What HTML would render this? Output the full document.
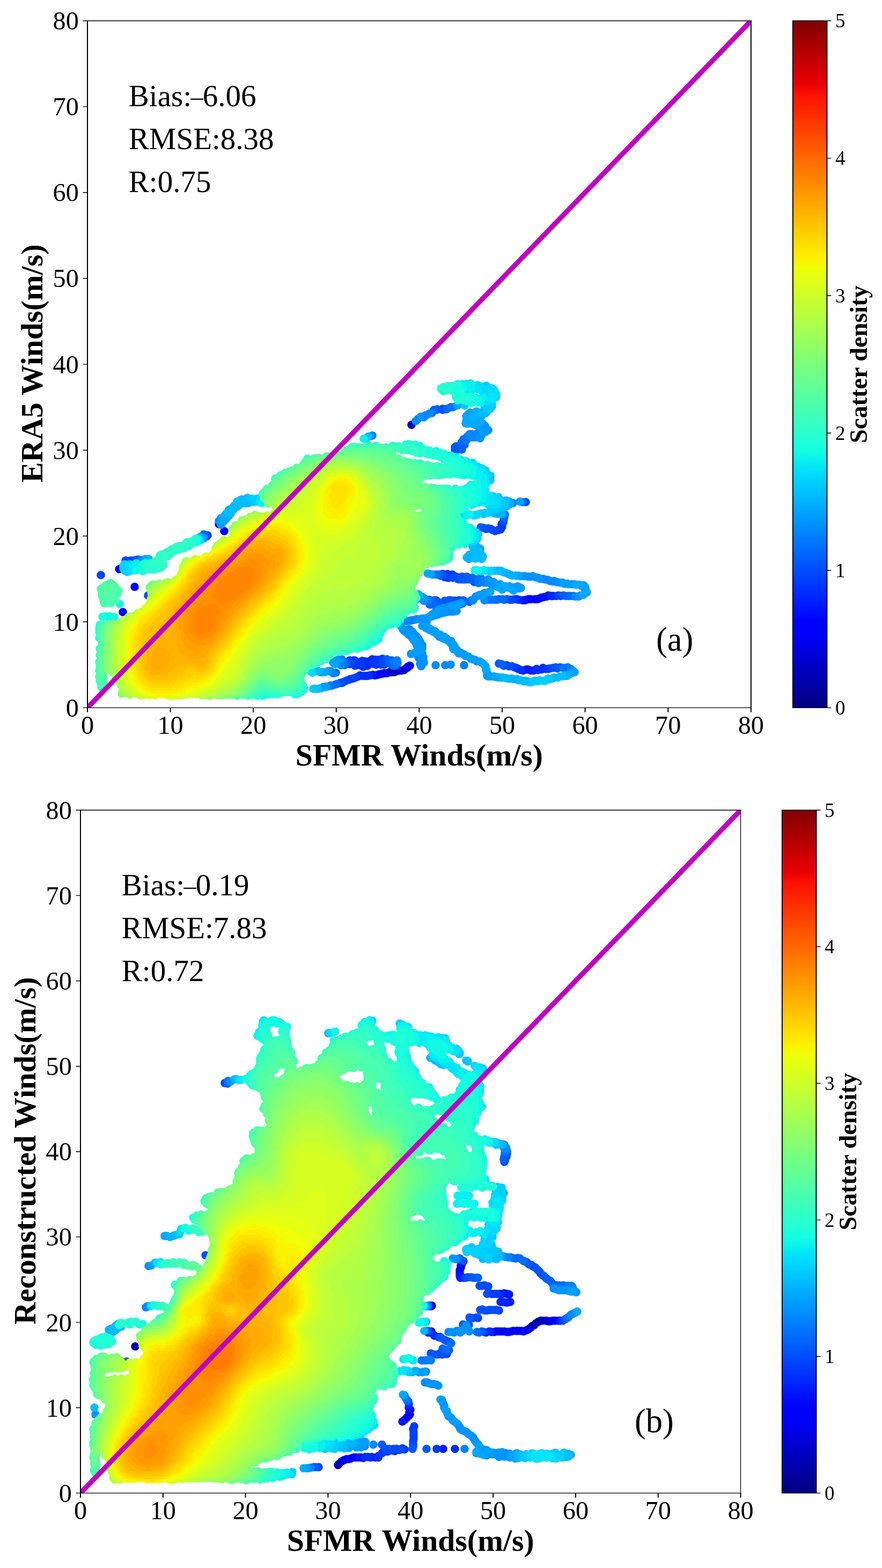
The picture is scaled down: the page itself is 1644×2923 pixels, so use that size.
<!DOCTYPE html>
<html lang="en">
<head>
<meta charset="utf-8">
<title>Scatter density: ERA5 and reconstructed winds vs SFMR winds</title>
<style>
html,body{margin:0;padding:0;background:#fff}
body{width:1644px;height:2923px;overflow:hidden}
svg{display:block}
text{white-space:pre}
</style>
</head>
<body>
<svg width="1644" height="2923" viewBox="0 0 1644 2923">
<defs><linearGradient id="jet" x1="0" y1="1" x2="0" y2="0"><stop offset="0" stop-color="#000080"/><stop offset="0.11" stop-color="#0000ff"/><stop offset="0.125" stop-color="#0000ff"/><stop offset="0.25" stop-color="#0080ff"/><stop offset="0.34" stop-color="#00dbff"/><stop offset="0.35" stop-color="#00e5f7"/><stop offset="0.375" stop-color="#15ffe2"/><stop offset="0.5" stop-color="#7bff7b"/><stop offset="0.64" stop-color="#efff08"/><stop offset="0.65" stop-color="#f7f600"/><stop offset="0.66" stop-color="#ffec00"/><stop offset="0.78" stop-color="#ff7b00"/><stop offset="0.89" stop-color="#ff1300"/><stop offset="0.91" stop-color="#e80000"/><stop offset="1" stop-color="#800000"/></linearGradient></defs>
<rect width="1644" height="2923" fill="#fff"/>
<g id="panel-a">
<clipPath id="clip-a"><rect x="163" y="38.8" width="1236.8" height="1280.6"/></clipPath>
<g clip-path="url(#clip-a)">
<g fill="none" stroke-width="15.6" stroke-linecap="round">
<path stroke="#0000a2" d="M739 1251h0"/>
<path stroke="#0000b9" d="M730 1253h0M735 1253h0M767 792h0"/>
<path stroke="#0000c5" d="M726 1253h0M744 1250h0"/>
<path stroke="#0000d1" d="M760 1243h0M748 1250h0M753 1249h0"/>
<path stroke="#0000dc" d="M716 1255h0M757 1246h0"/>
<path stroke="#0000e8" d="M721 1255h0"/>
<path stroke="#0000f3" d="M1001 1117h0M997 1117h0M418 990h0"/>
<path stroke="#0000ff" d="M1005 1116h0M990 1117h0M712 1256h0M760 1244h0M251 1094h0"/>
<path stroke="#0000ff" d="M981 1118h0M704 1258h0M707 1257h0M408 977h0M229 1141h0"/>
<path stroke="#0005ff" d="M1009 1114h0M986 1117h0M699 1259h0M764 1241h0M222 1061h0"/>
<path stroke="#000fff" d="M1022 1110h0M1019 1112h0M1014 1113h0M978 1119h0M984 1248h0M975 1250h0"/>
<path stroke="#0019ff" d="M680 1240h0M1031 1111h0M974 1119h0M826 1071h0M821 1073h0M990 1250h0M981 1248h0M681 1260h0M695 1258h0"/>
<path stroke="#0024ff" d="M825 1070h0M830 1075h0M700 1230h0M680 1235h5M675 1240h0M685 1240h0M1027 1111h0M967 1118h0M963 1117h0M832 1072h0M995 1250h0M966 1247h0M689 1259h0M685 1241h0M694 1229h0M687 1233h0M861 1077h0"/>
<path stroke="#002eff" d="M710 1230h0M665 1235h10M690 1235h0M1037 1111h0M835 1077h0M823 1126h0M829 1131h0M835 1132h0M1017 1247h0M1012 1245h0M1009 1248h0M1003 1249h0M1000 1247h0M971 1249h0M962 1245h0M668 1261h0M671 1259h0M676 1260h0M685 1260h0M668 1239h0M675 1239h0M677 1243h0M694 1237h0M697 1230h0M680 1233h0M675 1232h0M842 1075h0M846 1075h0M856 1077h0M933 987h0"/>
<path stroke="#0038ff" d="M835 1075h15M705 1230h0M655 1235h5M695 1235h20M670 1240h0M960 1117h0M843 1071h0M834 1070h0M829 1076h0M836 1077h0M822 1125h0M840 1133h0M1022 1247h0M959 1244h0M651 1267h0M653 1266h0M658 1265h0M652 1238h0M662 1241h0M697 1237h0M701 1239h0M710 1239h0M713 1228h0M706 1230h0M704 1231h0M671 1234h0M661 1231h0M659 1231h0M652 1231h0M834 1074h0M837 1073h0M851 1077h0M935 977h0M936 982h0M929 988h0M239 1046h0"/>
<path stroke="#0042ff" d="M850 835h0M845 1120h5M860 1120h0M840 1125h0M860 1125h0M715 1230h5M720 1235h0M1045 1111h0M1041 1110h0M954 1118h0M951 1118h0M847 1074h0M806 1122h0M813 1123h0M815 1127h0M840 1133h0M849 1133h0M1025 1246h0M954 1242h0M944 1240h0M641 1271h0M645 1269h0M663 1263h0M657 1237h0M716 1239h0M650 1233h0M856 1119h0M829 1072h0M938 974h0M923 990h0M918 988h0M915 986h0M906 986h0M387 998h0M248 1045h0M244 1045h0M234 1045h0M188 1072h0"/>
<path stroke="#004dff" d="M855 835h5M385 1000h0M855 1080h0M870 1080h0M855 1120h0M825 1125h10M650 1235h0M945 1117h0M853 1079h0M865 1080h0M861 1075h0M851 1077h0M844 1077h0M850 1129h0M856 1127h0M1036 1244h0M1031 1245h0M949 1242h0M939 1241h0M634 1273h0M638 1273h0M714 1236h0M645 1238h0M828 1127h0M829 1127h0M834 1129h0M842 1127h0M846 1124h0M862 1125h0M861 1121h0M845 1120h0M837 1119h0M813 1119h0M848 834h0M848 839h0M853 838h0M825 764h0M825 762h0M910 985h0M901 984h0M980 936h0M253 1044h0M276 1110h0"/>
<path stroke="#0057ff" d="M860 1080h5M875 1080h0M815 1125h5M845 1125h10M725 1235h0M1060 1111h0M1050 1110h0M940 1118h0M858 1078h0M860 1079h0M872 1079h0M884 1085h0M886 1080h0M873 1077h0M870 1075h0M865 1078h0M804 1123h0M860 1123h0M1044 1244h0M1039 1246h0M930 1237h0M730 1231h0M721 1229h0M815 1127h0M852 1127h0M863 1119h0M840 1119h0M829 1120h0M827 1123h0M810 1119h0M803 1120h0M824 1072h0M857 831h0M850 832h0M860 834h0M866 829h0M831 763h0M815 763h0M939 969h0M896 983h0M257 1043h0"/>
<path stroke="#0061ff" d="M860 825h5M860 830h0M880 1080h5M810 1125h0M645 1235h0M1055 1111h0M930 1117h0M923 1118h0M877 1080h0M880 1077h0M792 1119h0M800 1118h0M863 1124h0M865 1120h0M935 1238h0M726 1237h0M726 1231h0M643 1234h0M801 1127h0M810 1128h0M818 1127h0M818 1123h0M820 1071h0M861 838h0M865 822h0M840 759h0M814 764h0M809 764h0"/>
<path stroke="#006bff" d="M865 820h0M380 1000h0M890 1080h5M800 1120h5M800 1125h5M730 1235h0M1069 1111h0M1064 1111h0M937 1117h0M926 1118h0M896 1077h0M891 1080h0M875 1122h0M879 1119h0M619 1278h0M625 1276h0M628 1275h0M733 1241h0M737 1241h0M741 1236h0M642 1240h0M626 1254h0M803 1127h0M871 814h0M870 816h0M864 819h0M862 823h0M877 813h0M834 762h0M940 964h0M974 936h0M380 996h0"/>
<path stroke="#0075ff" d="M875 810h0M870 815h0M880 815h0M870 820h0M635 1235h5M735 1235h0M917 1118h0M913 1118h0M909 1118h0M892 1082h0M892 1087h0M1058 1244h0M1055 1245h0M1050 1245h0M616 1278h0M740 1231h0M736 1233h0M811 1071h0M815 1071h0M876 809h0M870 817h0M882 815h0M844 759h0M805 770h0M941 959h0M379 1000h0M263 1044h0M694 812h0"/>
<path stroke="#0080ff" d="M875 815h0M885 815h0M900 1085h10M795 1120h0M760 1175h5M775 1185h0M780 1200h0M780 1225h0M785 1230h0M740 1235h0M790 1235h0M902 1086h0M906 1086h0M901 1082h0M784 1114h0M887 1112h0M765 1157h0M769 1156h0M774 1155h0M801 1150h0M815 1146h0M842 1140h0M1064 1247h0M788 1237h0M865 1240h0M781 1227h0M783 1237h0M787 1237h0M787 1218h0M787 1203h0M780 1191h0M775 1185h0M763 1173h0M756 1174h0M758 1175h0M763 1181h0M610 1280h0M637 1229h0M631 1230h0M631 1237h0M636 1240h0M621 1255h0M789 1225h0M787 1237h0M798 1119h0M793 1117h0M887 809h0M790 776h0"/>
<path stroke="#008aff" d="M905 800h0M905 805h0M880 810h15M890 815h0M790 1120h0M770 1185h0M785 1210h0M780 1220h5M785 1225h0M956 938h0M984 1075h0M1007 1079h0M1012 1079h0M1015 1080h0M1021 1081h0M1025 1083h0M1030 1084h0M1033 1083h0M1038 1085h0M1073 1112h0M903 1119h0M910 1086h0M922 1090h0M923 1088h0M913 1084h0M790 1119h0M882 1119h0M902 1106h0M759 1158h0M778 1154h0M792 1153h0M805 1149h0M810 1147h0M823 1143h0M832 1141h0M838 1140h0M846 1140h0M804 1174h0M815 1183h0M819 1187h0M841 1195h0M849 1211h0M861 1218h0M865 1220h0M1067 1250h0M812 1240h0M830 1240h0M840 1239h0M775 1198h0M779 1221h0M781 1223h0M789 1236h0M789 1231h0M785 1212h0M787 1208h0M783 1196h0M769 1178h0M764 1183h0M616 1251h0M753 1176h0M761 1182h0M767 1187h0M772 1194h0M779 1200h0M775 1216h0M788 1228h0M785 1242h0M846 1128h0M837 1131h0M825 1134h0M821 1136h0M812 1140h0M806 1145h0M799 1151h0M796 1171h0M812 1179h0M828 1187h0M851 1211h0M789 1119h0M790 1120h0M806 1071h0M897 803h0M893 805h0M891 809h0M879 809h0M886 815h0M896 811h0M904 794h0M800 771h0M794 774h0M790 778h0M779 781h0M775 785h0M267 1044h0"/>
<path stroke="#0094ff" d="M875 775h0M870 785h0M885 790h0M900 790h0M900 795h0M915 1085h0M920 1090h0M945 1095h0M965 1095h0M785 1115h5M765 1180h5M775 1190h0M780 1195h0M785 1205h0M785 1215h0M625 1235h5M785 1235h0M975 1074h0M979 1074h0M989 1075h0M993 1074h0M998 1076h0M1003 1077h0M1043 1086h0M1052 1088h0M1057 1088h0M1066 1089h0M1071 1089h0M1088 1091h0M1091 1099h0M1082 1110h0M1079 1112h0M916 1089h0M924 1093h0M965 1093h0M949 1093h0M939 1093h0M931 1090h0M920 1085h0M910 1080h0M890 1111h0M894 1109h0M913 1103h0M783 1154h0M787 1153h0M797 1152h0M819 1144h0M828 1142h0M851 1139h0M800 1174h0M811 1177h0M812 1179h0M844 1205h0M853 1215h0M857 1216h0M885 1230h0M889 1233h0M908 1260h0M921 1261h0M1069 1251h0M771 1193h0M777 1203h0M781 1208h0M779 1213h0M788 1224h0M777 1187h0M768 1178h0M768 1187h0M602 1281h0M621 1235h0M612 1251h0M751 1173h0M756 1178h0M763 1184h0M781 1205h0M766 1219h0M787 1232h0M860 1124h0M852 1127h0M833 1132h0M829 1133h0M796 1155h0M795 1160h0M793 1164h0M804 1175h0M824 1187h0M835 1194h0M786 1115h0M886 792h0M897 796h0M895 817h0M898 811h0M903 805h0M910 802h0M904 794h0M852 756h0M784 777h0M412 966h0M410 970h0M408 971h0M379 1004h0M379 1003h0M691 813h0"/>
<path stroke="#009eff" d="M875 785h5M880 790h0M895 790h0M900 805h0M420 965h0M925 1090h0M935 1095h5M950 1095h10M780 1110h0M780 1115h0M952 1072h0M970 1074h0M1048 1086h0M1060 1089h0M1084 1092h0M1091 1095h0M931 1095h0M950 1096h0M952 1097h0M968 1097h0M971 1096h0M965 1096h0M955 1095h0M932 1089h0M898 1111h0M906 1105h0M787 1167h0M793 1170h0M795 1171h0M824 1189h0M828 1191h0M832 1192h0M836 1195h0M843 1199h0M845 1210h0M868 1223h0M873 1224h0M878 1228h0M881 1229h0M894 1233h0M899 1236h0M905 1242h0M907 1250h0M908 1255h0M911 1261h0M916 1261h0M929 1263h0M1065 1255h0M1071 1253h0M598 1283h0M607 1280h0M627 1231h0M748 1168h0M769 1190h0M776 1196h0M782 1209h0M784 1213h0M779 1215h0M771 1218h0M855 1126h0M842 1130h0M817 1137h0M809 1144h0M801 1149h0M792 1167h0M801 1172h0M808 1178h0M815 1182h0M820 1183h0M832 1190h0M838 1197h0M842 1201h0M846 1203h0M848 1207h0M853 1215h0M855 1218h0M787 1113h0M876 769h0M872 773h0M869 776h0M869 784h0M868 789h0M878 789h0M892 794h0M894 786h0M887 786h0M884 783h0M874 781h0M877 775h0M937 957h0M969 935h0M412 978h0"/>
<path stroke="#00a8ff" d="M885 770h0M895 770h0M880 775h5M870 780h0M890 790h0M450 935h0M950 940h0M435 945h0M430 950h0M415 965h0M415 970h0M890 1025h0M880 1035h0M930 1095h0M775 1110h0M951 939h0M949 935h0M931 1064h0M939 1067h0M948 1070h0M961 1073h0M966 1073h0M1074 1090h0M1080 1090h0M1094 1104h0M1091 1106h0M1087 1109h0M936 1099h0M943 1095h0M957 1101h0M942 1093h0M914 1103h0M903 1240h0M906 1248h0M924 1262h0M934 1263h0M948 1265h0M963 1266h0M1061 1257h0M624 1238h0M597 1253h0M601 1253h0M605 1253h0M780 1108h0M776 1117h0M797 1069h0M802 1070h0M888 767h0M884 772h0M872 790h0M883 790h0M896 786h0M875 781h0M895 776h0M857 753h0M855 754h0M874 1042h0M886 1041h0M895 1030h0M895 1023h0M881 1019h0M890 1031h0M451 931h0M418 971h0M421 968h0M430 957h0M433 950h0M373 1001h0M271 1042h0"/>
<path stroke="#00b2ff" d="M890 770h0M890 775h0M465 930h0M455 935h0M945 935h0M445 940h0M945 940h0M440 945h0M420 960h5M375 1005h0M885 1020h0M890 1030h0M885 1035h0M895 1035h0M875 1040h5M890 1040h0M939 946h0M944 944h0M943 933h0M922 1064h0M943 1068h0M955 1073h0M937 1263h0M954 1265h0M957 1266h0M966 1268h0M985 1271h0M1052 1260h0M1057 1260h0M781 1110h0M775 1110h0M897 769h0M893 770h0M883 777h0M890 775h0M898 775h0M905 770h0M906 769h0M903 763h0M920 956h0M922 957h0M927 958h0M934 958h0M887 1032h0M878 1037h0M875 1034h0M870 1039h0M883 1039h0M894 1038h0M889 1019h0M886 1018h0M442 935h0M430 949h0M426 951h0M423 957h0M421 958h0M425 961h0M426 962h0M435 950h0M446 941h0M455 938h0M277 1042h0"/>
<path stroke="#00bdff" d="M910 760h0M905 765h0M900 770h0M445 935h0M460 935h15M940 935h0M440 940h0M940 945h0M435 950h0M920 950h0M425 955h5M895 1030h0M890 1035h0M885 1040h0M230 1055h0M922 951h0M935 947h0M941 942h0M943 935h0M929 927h0M914 887h0M927 1064h0M934 1064h0M943 1264h0M970 1268h0M976 1270h0M980 1269h0M997 1269h0M1029 1265h0M1033 1263h0M1040 1263h0M1044 1261h0M1048 1261h0M588 1284h0M593 1284h0M587 1250h0M593 1251h0M915 955h0M889 1034h0M898 1042h0M900 1037h0M883 1022h0M448 932h0M438 941h0M436 944h0M443 944h0M454 936h0M463 938h0M468 934h0M465 930h0M461 928h0M235 1054h0M233 1064h0M686 814h0"/>
<path stroke="#00c7ff" d="M915 755h0M470 930h0M480 930h0M930 930h0M480 935h0M935 935h0M935 940h5M930 945h5M230 1060h10M891 996h0M915 945h0M919 949h0M927 949h0M933 933h0M914 895h0M913 889h0M905 877h0M908 1064h0M916 1064h0M990 1272h0M994 1270h0M1003 1270h0M1016 1269h0M1021 1265h0M1025 1266h0M584 1284h0M911 733h0M917 724h0M906 719h0M901 721h0M913 763h0M917 758h0M907 756h0M908 762h0M866 756h0M897 957h0M902 958h0M904 956h0M473 935h0M468 930h0M237 1066h0M682 818h0"/>
<path stroke="#00d1ff" d="M905 725h10M910 730h0M905 880h0M910 885h0M910 890h0M910 895h0M475 930h0M485 930h0M925 930h0M930 935h0M930 940h0M915 945h10M235 1055h0M245 1055h0M245 1060h0M890 1004h0M924 928h0M919 925h0M908 883h0M898 873h0M913 1065h0M1006 1268h0M1012 1269h0M582 1254h0M889 724h0M921 740h0M924 741h0M897 722h0M890 718h0M917 753h0M910 956h0M480 934h0M487 937h0M482 929h0M472 930h0M242 1052h0M232 1052h0M230 1058h0M241 1065h0"/>
<path stroke="#00dbff" d="M890 720h5M890 725h10M915 730h5M920 735h5M900 745h10M880 865h0M890 870h0M895 875h0M905 885h0M905 890h0M905 900h0M490 930h0M915 930h5M920 935h5M910 940h15M885 1005h0M240 1055h0M250 1055h0M250 1060h0M882 1009h0M886 1006h0M888 993h0M909 938h0M912 925h0M907 900h0M899 876h0M891 870h0M881 863h0M898 1065h0M580 1252h0M898 728h0M903 728h0M909 728h0M918 733h0M906 739h0M907 746h0M909 747h0M924 736h0M921 727h0M914 723h0M877 715h0M883 961h0M886 960h0M890 959h0M490 928h0M372 1008h0"/>
<path stroke="#00e5f7" d="M865 720h0M875 720h10M870 725h15M915 740h5M915 745h0M875 865h0M885 870h0M890 875h0M895 880h5M900 885h0M905 895h0M905 920h0M905 925h5M905 930h5M485 935h0M895 935h20M885 995h0M885 1000h0M370 1005h0M882 989h0M879 941h0M893 937h0M902 936h0M905 937h0M907 923h0M906 919h0M904 913h0M903 906h0M905 903h0M884 868h0M873 863h0M869 860h0M893 1064h0M902 1063h0M866 725h0M873 727h0M891 725h0M911 742h0M895 743h0M893 749h0M916 745h0M885 720h0M870 716h0M862 716h0M862 962h0M869 961h0M486 930h0M248 1054h0M246 1062h0M254 1063h0"/>
<path stroke="#08f0ef" d="M870 720h0M865 725h0M885 745h10M865 860h0M870 865h0M880 870h0M885 875h0M885 880h5M885 885h10M895 890h5M895 895h5M890 900h10M895 905h5M895 910h5M895 915h5M895 920h5M895 925h5M895 930h5M890 935h0M875 985h0M880 990h0M880 995h0M880 1000h0M880 1005h0M255 1055h5M255 1060h0M705 1191h0M867 1014h0M876 984h0M883 939h0M888 937h0M863 860h0M859 857h0M850 852h0M882 887h0M888 885h0M892 887h0M896 895h0M893 896h0M877 904h0M885 1063h0M878 724h0M901 741h0M889 744h0M896 751h0M879 717h0M873 959h0M876 959h0M490 937h0M498 933h0M495 928h0M260 1054h0M254 1050h0M678 818h0"/>
<path stroke="#10fae6" d="M860 720h0M845 725h0M855 725h5M850 740h5M870 745h5M845 855h5M855 860h5M865 865h0M870 870h5M875 875h5M870 880h10M880 885h0M880 905h10M870 910h20M885 915h5M885 920h5M885 925h5M495 930h0M505 930h0M885 930h5M880 935h5M870 985h0M875 990h0M875 995h0M875 1000h0M875 1005h0M365 1010h0M870 1010h0M265 1055h0M260 1060h5M275 1060h0M700 1195h0M690 1200h0M565 1285h0M550 1294h0M556 1293h0M562 1289h0M564 1287h0M567 1283h0M684 1204h0M695 1197h0M699 1194h0M867 1011h0M873 1008h0M869 982h0M865 978h0M866 947h0M875 940h0M856 857h0M844 854h0M840 849h0M829 847h0M821 844h0M813 841h0M490 1297h0M856 884h0M859 885h0M865 886h0M870 885h0M876 885h0M889 901h0M886 903h0M874 908h0M869 911h0M890 1063h0M863 723h0M886 741h0M868 742h0M855 734h0M855 741h0M871 748h0M880 751h0M891 747h0M856 720h0M853 716h0M845 720h0M838 721h0M364 1011h0M367 1004h0M267 1052h0M255 1062h0M196 1149h0M199 1150h0M204 1149h0M208 1150h0M223 1126h0"/>
<path stroke="#19ffde" d="M835 720h20M825 725h0M840 725h0M850 725h0M855 735h0M860 740h0M865 745h0M880 745h0M810 845h5M825 850h5M840 855h0M850 860h0M860 865h0M860 870h5M860 875h10M855 880h10M860 915h20M870 920h10M875 925h5M500 930h0M875 930h5M875 935h0M870 940h0M865 945h0M865 980h0M865 985h0M870 990h0M870 995h0M870 1000h0M870 1005h0M360 1010h0M865 1010h0M280 1050h0M280 1055h0M280 1060h0M700 1190h0M695 1195h0M685 1200h0M565 1280h0M555 1290h0M485 1295h0M675 1206h0M686 1200h0M691 1198h0M709 1181h0M729 1164h0M740 1162h0M863 1012h0M863 973h0M860 950h0M868 944h0M834 851h0M823 847h0M801 840h0M782 831h0M775 829h0M762 828h0M479 1297h0M484 1294h0M494 1295h0M499 1294h0M507 1294h0M517 1294h0M826 851h0M836 855h0M855 862h0M841 884h0M851 883h0M863 913h0M859 914h0M849 911h0M880 740h0M874 740h0M858 738h0M850 737h0M853 746h0M883 749h0M826 722h0M826 729h0M831 728h0M843 728h0M847 725h0M853 726h0M858 727h0M501 934h0M503 935h0M366 1011h0M364 1005h0M266 1065h0M191 1150h0"/>
<path stroke="#21ffd6" d="M835 725h0M865 740h0M860 745h0M765 830h0M780 835h0M790 840h5M795 845h10M815 850h5M830 855h5M850 875h5M840 880h10M850 915h5M860 920h5M865 925h5M865 930h5M865 935h5M865 940h0M860 945h0M855 970h0M860 975h0M860 980h0M860 985h0M865 990h0M865 995h0M865 1000h0M860 1005h5M355 1010h0M860 1010h0M320 1025h0M320 1030h0M300 1035h0M310 1035h0M300 1040h0M300 1050h0M270 1055h5M270 1060h0M285 1060h0M735 1160h5M725 1165h0M715 1170h0M710 1175h0M705 1180h0M695 1190h0M690 1195h0M680 1200h0M560 1285h0M495 1290h0M550 1290h0M480 1295h0M521 1292h0M565 1279h0M646 1214h0M666 1209h0M672 1206h0M704 1184h0M703 1182h0M712 1173h0M715 1171h0M728 1164h0M740 1159h0M745 1156h0M856 1015h0M859 974h0M857 950h0M809 845h0M794 839h0M793 840h0M789 837h0M773 831h0M765 829h0M756 829h0M186 1165h0M514 1291h0M792 843h0M799 847h0M802 847h0M809 849h0M816 849h0M821 852h0M828 856h0M840 859h0M846 861h0M850 863h0M855 872h0M852 872h0M847 874h0M845 873h0M837 884h0M851 914h0M865 740h0M862 744h0M866 746h0M840 722h0M830 722h0M822 724h0M504 927h0M358 1009h0M334 1018h0M320 1024h0M320 1027h0M307 1033h0M301 1034h0M324 1027h0M333 1024h0M338 1023h0M343 1022h0M345 1020h0M357 1014h0M269 1062h0M278 1061h0M283 1061h0M289 1061h0M293 1060h0M300 1044h0M287 1049h0M278 1052h0M271 1050h0M213 1150h0"/>
<path stroke="#29ffce" d="M830 725h0M765 835h10M780 840h5M835 875h10M830 880h5M840 915h5M850 920h5M855 925h5M855 930h5M855 935h5M855 940h5M855 945h0M855 950h0M855 975h0M855 980h0M855 985h0M855 990h5M855 995h5M855 1000h5M855 1005h0M855 1010h0M345 1015h10M325 1025h0M310 1030h0M305 1035h0M285 1050h10M285 1055h10M730 1160h0M720 1165h0M705 1175h0M695 1185h5M690 1190h0M685 1195h0M675 1200h0M665 1205h5M485 1290h5M500 1290h45M475 1295h0M527 1291h0M537 1290h0M547 1290h0M607 1229h0M635 1215h0M654 1210h0M657 1207h0M721 1165h0M746 1152h0M771 1136h0M773 1133h0M837 1040h0M849 1015h0M854 968h0M851 962h0M744 832h0M477 1293h0M783 845h0M788 844h0M838 874h0M819 886h0M826 885h0M832 883h0M840 914h0M835 911h0M836 726h0M354 1013h0M327 1021h0M298 1036h0M320 1030h0M352 1018h0M274 1060h0M300 1058h0M303 1048h0M281 1050h0"/>
<path stroke="#31ffc5" d="M735 835h25M765 840h10M820 875h10M820 880h5M815 885h0M830 915h5M840 920h5M845 925h5M845 930h5M850 935h0M850 940h0M850 945h0M850 950h0M845 955h5M845 960h0M845 965h0M845 970h5M850 975h0M850 980h0M850 985h0M850 990h0M850 995h0M850 1000h0M850 1005h0M850 1010h0M845 1015h0M335 1020h5M330 1025h0M315 1030h0M835 1040h0M300 1055h0M745 1150h0M735 1155h5M720 1160h5M715 1165h0M710 1170h0M695 1180h5M690 1185h0M685 1190h0M680 1195h0M670 1200h0M660 1205h0M645 1210h5M615 1220h0M600 1230h0M560 1275h0M560 1280h0M490 1285h5M555 1285h0M480 1290h0M470 1295h0M533 1289h0M561 1274h0M585 1238h0M590 1235h0M598 1233h0M598 1232h0M608 1226h0M639 1212h0M752 1146h0M838 1034h0M843 1021h0M844 1018h0M848 963h0M849 958h0M749 834h0M737 832h0M732 831h0M730 833h0M701 831h0M688 831h0M185 1172h0M185 1178h0M185 1189h0M186 1209h0M189 1281h0M192 1284h0M462 1297h0M738 834h0M742 834h0M755 838h0M759 839h0M768 840h0M772 841h0M776 844h0M831 871h0M826 870h0M824 873h0M816 870h0M814 869h0M815 885h0M831 911h0M825 911h0M348 1011h0M341 1017h0M330 1019h0M312 1029h0M296 1042h0M302 1039h0M304 1037h0M313 1037h0M315 1035h0M305 1053h0M291 1045h0"/>
<path stroke="#3affbd" d="M725 835h5M800 870h10M805 875h10M810 880h5M805 885h5M825 915h0M830 920h5M835 925h5M840 930h0M840 935h5M840 940h5M840 945h5M840 950h5M840 955h0M840 960h0M840 965h0M840 970h0M840 975h5M840 980h5M840 985h5M840 990h5M840 995h5M845 1000h0M845 1005h0M845 1010h0M840 1015h0M840 1020h0M835 1035h0M765 1135h0M750 1145h0M735 1150h5M725 1155h5M715 1160h0M710 1165h0M705 1170h0M695 1175h5M690 1180h0M685 1185h0M680 1190h0M670 1195h5M660 1200h5M650 1205h5M635 1210h5M625 1215h0M605 1225h0M595 1230h0M590 1235h0M580 1240h0M560 1270h0M190 1280h0M555 1280h0M480 1285h5M500 1285h10M545 1285h5M475 1290h0M465 1295h0M581 1240h0M612 1221h0M615 1220h0M620 1216h0M627 1215h0M647 1209h0M761 1138h0M832 1044h0M837 1025h0M719 834h0M715 835h0M661 833h0M655 834h0M573 855h0M513 892h0M186 1221h0M186 1268h0M465 1294h0M735 836h0M750 839h0M806 870h0M799 868h0M797 867h0M784 864h0M808 884h0M820 911h0"/>
<path stroke="#42ffb5" d="M665 835h45M775 865h5M790 870h5M795 875h5M800 880h5M800 885h0M810 910h0M815 915h5M825 920h0M830 925h0M830 930h5M835 935h0M835 940h0M835 945h0M835 950h0M835 955h0M835 960h0M835 965h0M835 970h0M835 975h0M835 980h0M835 985h0M835 990h0M835 995h0M835 1000h5M835 1005h5M835 1010h5M835 1015h0M835 1020h0M835 1025h0M835 1030h0M195 1095h0M205 1100h10M195 1105h5M200 1110h0M195 1115h0M205 1115h0M215 1115h0M195 1120h0M210 1120h0M770 1130h0M760 1135h0M750 1140h0M740 1145h5M725 1150h5M715 1155h5M710 1160h0M700 1165h5M190 1170h0M695 1170h5M690 1175h0M685 1180h0M675 1185h5M190 1190h0M670 1190h5M190 1195h0M665 1195h0M190 1200h0M655 1200h0M640 1205h5M625 1210h5M615 1215h5M605 1220h5M600 1225h0M590 1230h0M585 1235h0M190 1275h0M555 1275h0M485 1280h20M550 1280h0M475 1285h0M515 1285h25M470 1290h0M460 1295h0M560 1268h0M560 1263h0M563 1256h0M566 1252h0M569 1248h0M755 1139h0M757 1137h0M834 1030h0M711 836h0M707 836h0M694 834h0M681 833h0M678 835h0M670 835h0M668 834h0M647 839h0M532 881h0M523 886h0M490 920h0M192 1165h0M188 1183h0M189 1192h0M190 1202h0M189 1217h0M185 1234h0M186 1238h0M186 1241h0M185 1250h0M185 1261h0M188 1273h0M189 1276h0M192 1279h0M190 1277h0M787 866h0M781 864h0M773 863h0M800 886h0M801 886h0M810 910h0M193 1119h0M205 1124h0M218 1108h0M206 1087h0M191 1096h0"/>
<path stroke="#4affad" d="M650 840h0M715 840h15M585 855h0M570 860h0M755 860h0M765 865h5M780 870h5M785 875h5M790 880h5M795 885h0M520 890h0M515 895h0M805 910h0M495 915h0M810 915h0M815 920h5M820 925h5M825 930h0M825 935h5M830 940h0M830 945h0M830 950h0M830 955h0M825 960h5M825 965h5M825 970h5M825 975h5M825 980h5M825 985h5M825 990h5M825 995h5M830 1000h0M830 1005h0M830 1010h0M830 1015h0M830 1035h0M830 1040h0M825 1045h0M200 1090h5M200 1095h0M215 1095h0M195 1100h5M205 1105h10M190 1110h5M210 1110h5M200 1115h0M210 1115h0M200 1120h5M770 1125h0M765 1130h0M750 1135h5M740 1140h5M725 1145h10M715 1150h5M710 1155h0M700 1160h5M695 1165h0M690 1170h0M190 1175h0M685 1175h0M190 1180h0M675 1180h5M190 1185h0M670 1185h0M665 1190h0M655 1195h5M645 1200h5M190 1205h0M630 1205h5M190 1210h0M620 1210h0M190 1215h0M610 1215h0M600 1220h0M595 1225h0M585 1230h0M580 1235h0M575 1240h0M570 1245h0M565 1250h0M190 1265h0M190 1270h0M555 1270h0M485 1275h10M550 1275h0M480 1280h0M510 1280h5M535 1280h10M470 1285h0M465 1290h0M455 1295h0M561 1256h0M574 1241h0M770 1126h0M771 1123h0M776 1114h0M825 1047h0M653 839h0M588 854h0M569 861h0M539 879h0M514 897h0M498 911h0M492 918h0M189 1213h0M193 1274h0M458 1294h0M768 863h0M765 863h0M760 862h0M731 844h0M794 887h0M808 911h0M804 909h0M196 1119h0M195 1125h0M207 1124h0M214 1117h0M216 1119h0M217 1108h0M215 1095h0M211 1091h0M190 1103h0"/>
<path stroke="#52ffa5" d="M655 840h55M715 845h10M590 855h0M575 860h0M750 860h0M755 865h5M765 870h10M775 875h5M540 880h0M780 880h5M530 885h0M785 885h5M800 910h0M805 915h0M810 920h0M815 925h0M820 930h0M820 935h0M820 940h5M820 945h5M820 950h5M820 955h5M820 960h0M820 965h0M815 970h5M815 975h5M815 980h5M815 985h5M820 990h0M820 995h0M820 1000h5M825 1005h0M825 1010h0M825 1015h0M830 1020h0M830 1025h0M830 1030h0M825 1040h0M210 1090h0M205 1095h5M190 1105h0M205 1110h0M770 1120h0M765 1125h0M750 1130h10M735 1135h10M725 1140h10M715 1145h5M710 1150h0M700 1155h5M695 1160h0M690 1165h0M685 1170h0M675 1175h5M670 1180h0M660 1185h5M655 1190h5M645 1195h5M630 1200h10M620 1205h5M610 1210h5M600 1215h5M190 1220h0M595 1220h0M190 1225h0M590 1225h0M190 1230h0M580 1230h0M190 1235h0M575 1235h0M190 1240h0M570 1240h0M190 1245h0M565 1245h0M190 1250h0M190 1255h0M560 1255h0M190 1260h0M555 1260h0M555 1265h0M550 1270h0M480 1275h0M500 1275h10M540 1275h5M475 1280h0M520 1280h10M460 1290h0M450 1295h0M773 1108h0M819 1047h0M821 1046h0M642 844h0M609 851h0M595 854h0M585 856h0M580 858h0M553 872h0M544 877h0M532 885h0M523 890h0M508 904h0M501 911h0M189 1225h0M189 1254h0M193 1264h0M190 1260h0M453 1294h0M729 845h0M749 860h0M743 855h0M740 855h0M730 850h0M787 889h0M798 909h0M191 1113h0M221 1101h0M205 1089h0M197 1091h0M188 1098h0"/>
<path stroke="#5aff9c" d="M645 845h10M680 845h30M715 850h10M595 855h5M730 855h0M580 860h0M740 860h5M570 865h0M745 865h5M755 870h5M555 875h0M765 875h5M545 880h0M770 880h5M535 885h0M775 885h5M525 890h0M780 890h0M520 895h0M515 900h0M510 905h0M505 910h0M795 910h0M500 915h0M800 915h0M495 920h0M805 920h0M810 925h0M815 930h0M815 935h0M815 940h0M815 945h0M815 950h0M815 955h0M810 960h5M810 965h5M805 970h5M805 975h5M805 980h5M810 985h0M810 990h5M810 995h5M815 1000h0M815 1005h5M820 1010h0M820 1015h0M820 1020h5M825 1025h0M825 1030h0M825 1035h0M820 1040h0M820 1045h0M770 1110h0M770 1115h0M765 1120h0M750 1125h10M735 1130h10M725 1135h5M715 1140h5M710 1145h0M700 1150h5M695 1155h0M690 1160h0M685 1165h0M195 1170h0M675 1170h5M195 1175h0M670 1175h0M660 1180h5M655 1185h0M645 1190h5M630 1195h10M620 1200h5M610 1205h5M600 1210h5M595 1215h0M585 1220h5M580 1225h5M575 1230h0M570 1235h0M565 1240h0M560 1250h0M555 1255h0M550 1265h0M480 1270h25M545 1270h0M475 1275h0M515 1275h20M470 1280h0M465 1285h0M455 1290h0M771 1107h0M815 1048h0M607 852h0M601 855h0M567 866h0M565 866h0M551 876h0M513 901h0M493 924h0M492 928h0M197 1167h0M192 1254h0M442 1297h0M735 854h0M780 895h0M784 891h0M792 908h0"/>
<path stroke="#63ff94" d="M660 845h15M630 850h0M690 850h20M605 855h0M710 855h15M585 860h0M725 860h10M575 865h0M735 865h5M565 870h0M745 870h5M750 875h10M550 880h0M760 880h5M540 885h0M765 885h5M530 890h0M770 890h5M525 895h0M775 895h0M520 900h0M775 900h0M780 905h0M785 910h5M790 915h5M800 920h0M805 925h0M805 930h5M810 935h0M810 940h0M810 945h0M805 950h5M805 955h5M800 960h5M800 965h5M800 970h0M795 975h5M800 980h0M800 985h5M800 990h5M805 995h0M805 1000h5M810 1005h0M810 1010h5M815 1015h0M815 1020h0M820 1025h0M820 1030h0M820 1035h0M815 1045h0M765 1110h0M760 1115h5M750 1120h10M735 1125h10M725 1130h5M715 1135h5M710 1140h0M700 1145h5M695 1150h0M690 1155h0M685 1160h0M675 1165h5M670 1170h0M660 1175h5M195 1180h0M655 1180h0M195 1185h0M645 1185h5M195 1190h0M630 1190h10M195 1195h0M620 1195h5M195 1200h0M610 1200h5M195 1205h0M600 1205h5M195 1210h0M590 1210h5M195 1215h0M585 1215h5M195 1220h0M580 1220h0M575 1225h0M570 1230h0M565 1235h0M560 1245h0M555 1250h0M550 1255h0M550 1260h0M485 1265h15M545 1265h0M475 1270h0M510 1270h5M530 1270h10M470 1275h0M465 1280h0M460 1285h0M445 1295h0M808 1049h0M632 849h0M627 849h0M618 852h0M558 874h0M202 1165h0M193 1247h0M445 1295h0M784 909h0M780 904h0M780 900h0"/>
<path stroke="#6bff8c" d="M635 850h50M610 855h5M690 855h15M590 860h5M710 860h10M580 865h0M720 865h10M570 870h0M730 870h10M560 875h0M740 875h5M745 880h10M545 885h0M750 885h10M535 890h0M755 890h10M530 895h0M760 895h10M765 900h5M515 905h0M770 905h5M510 910h0M775 910h5M505 915h0M780 915h5M500 920h0M785 920h10M495 925h0M795 925h5M495 930h0M800 930h0M800 935h5M800 940h5M800 945h5M795 950h5M795 955h5M795 960h0M790 965h5M790 970h5M790 975h0M790 980h5M795 985h0M795 990h0M800 995h0M800 1000h0M805 1005h0M805 1010h0M810 1015h0M810 1020h0M810 1025h5M815 1030h0M815 1035h0M815 1040h0M810 1045h0M805 1050h0M765 1105h0M760 1110h0M745 1115h10M735 1120h10M725 1125h5M715 1130h5M705 1135h5M700 1140h5M695 1145h0M690 1150h0M685 1155h0M675 1160h5M205 1165h0M670 1165h0M200 1170h0M660 1170h5M200 1175h0M655 1175h0M640 1180h10M630 1185h10M615 1190h10M605 1195h10M600 1200h5M590 1205h5M585 1210h0M580 1215h0M575 1220h0M195 1225h0M570 1225h0M195 1230h0M565 1230h0M195 1235h0M560 1235h0M195 1240h0M555 1240h5M195 1245h0M555 1245h0M550 1250h0M545 1255h0M490 1260h0M540 1260h5M480 1265h0M505 1265h5M535 1265h5M470 1270h0M520 1270h5M465 1275h0M460 1280h0M455 1285h0M450 1290h0M440 1295h0M640 850h0M623 853h0M283 1091h0M279 1095h0M197 1244h0M794 952h0M793 955h0M789 960h0"/>
<path stroke="#73ff84" d="M620 855h5M665 855h20M600 860h5M690 860h15M585 865h5M705 865h10M575 870h0M715 870h10M565 875h0M725 875h10M555 880h5M735 880h5M550 885h0M740 885h5M540 890h0M745 890h5M535 895h0M750 895h5M525 900h5M755 900h5M520 905h0M755 905h10M515 910h0M760 910h10M510 915h0M765 915h10M505 920h0M770 920h10M500 925h0M780 925h10M785 930h10M785 935h10M785 940h10M795 945h0M785 965h0M785 970h0M785 975h0M785 980h0M790 985h0M790 990h0M790 995h5M795 1000h0M795 1005h5M800 1010h0M800 1015h5M805 1020h0M805 1025h0M810 1030h0M810 1035h0M810 1040h0M805 1045h0M285 1090h0M280 1095h0M765 1095h0M765 1100h0M755 1105h5M745 1110h10M730 1115h10M720 1120h10M715 1125h5M705 1130h5M700 1135h0M695 1140h0M690 1145h0M680 1150h5M675 1155h5M670 1160h0M660 1165h5M650 1170h5M640 1175h10M200 1180h0M630 1180h5M200 1185h0M615 1185h10M200 1190h0M605 1190h5M200 1195h0M595 1195h5M200 1200h0M590 1200h5M200 1205h0M585 1205h0M200 1210h0M575 1210h5M200 1215h0M570 1215h5M200 1220h0M565 1220h5M565 1225h0M560 1230h0M555 1235h0M550 1240h0M550 1245h0M545 1250h0M540 1255h0M480 1260h5M495 1260h10M535 1260h0M475 1265h0M515 1265h15M445 1290h0M430 1295h5M767 1099h0M765 1096h0M436 1294h0M789 943h0M790 942h0M783 961h0M782 964h0"/>
<path stroke="#7bff7b" d="M630 855h30M610 860h0M670 860h15M595 865h0M690 865h10M580 870h5M700 870h10M570 875h5M715 875h5M565 880h0M720 880h10M555 885h0M730 885h5M545 890h5M735 890h5M540 895h0M740 895h5M535 900h0M740 900h10M525 905h0M745 905h5M520 910h0M750 910h5M515 915h0M750 915h10M510 920h0M750 920h15M755 925h20M500 930h0M760 930h20M770 935h10M770 940h10M780 965h0M780 970h0M780 975h0M780 980h0M780 985h5M785 990h0M785 995h0M790 1000h0M790 1005h0M790 1010h5M795 1015h0M800 1020h0M800 1025h0M800 1030h5M805 1035h0M805 1040h0M800 1050h0M770 1085h0M290 1090h0M765 1090h0M760 1095h0M750 1100h10M740 1105h10M730 1110h10M720 1115h5M715 1120h0M705 1125h5M700 1130h0M695 1135h0M685 1140h5M680 1145h5M675 1150h0M670 1155h0M660 1160h5M210 1165h0M650 1165h5M205 1170h0M640 1170h5M205 1175h0M625 1175h10M610 1180h15M600 1185h10M595 1190h5M585 1195h5M580 1200h5M575 1205h5M570 1210h0M565 1215h0M560 1220h0M200 1225h0M555 1225h5M200 1230h0M550 1230h5M200 1235h0M550 1235h0M200 1240h0M545 1240h0M200 1245h0M540 1245h5M540 1250h0M480 1255h25M535 1255h0M475 1260h0M510 1260h20M470 1265h0M465 1270h0M460 1275h0M455 1280h0M450 1285h0M440 1290h0M425 1295h0M769 1089h0M773 1083h0M771 1084h0M800 1049h0M500 932h0M210 1164h0M202 1246h0M227 1293h0M427 1294h0M774 944h0M780 942h0"/>
<path stroke="#84ff73" d="M615 860h5M655 860h10M600 865h5M675 865h10M590 870h0M690 870h5M580 875h0M700 875h10M570 880h0M710 880h5M560 885h0M715 885h10M555 890h0M725 890h5M545 895h0M730 895h5M540 900h0M735 900h0M530 905h5M735 905h5M525 910h0M735 910h10M520 915h0M740 915h5M515 920h0M740 920h5M505 925h5M740 925h10M505 930h0M740 930h15M500 935h0M740 935h25M745 940h20M760 945h5M775 965h0M775 970h0M775 975h0M775 980h0M775 985h0M780 990h0M780 995h0M780 1000h5M785 1005h0M785 1010h0M790 1015h0M790 1020h5M795 1025h0M795 1030h0M795 1035h5M800 1040h0M800 1045h0M795 1050h0M775 1075h0M770 1080h0M765 1085h0M755 1090h5M745 1095h10M735 1100h10M725 1105h10M720 1110h5M710 1115h5M705 1120h5M700 1125h0M690 1130h5M685 1135h5M680 1140h0M675 1145h0M665 1150h5M660 1155h5M650 1160h5M635 1165h10M210 1170h0M620 1170h15M610 1175h10M205 1180h0M600 1180h5M205 1185h0M590 1185h5M205 1190h0M585 1190h5M205 1195h0M580 1195h0M205 1200h0M575 1200h0M205 1205h0M570 1205h0M205 1210h0M565 1210h0M205 1215h0M560 1215h0M205 1220h0M555 1220h0M205 1225h0M550 1225h0M545 1230h0M540 1235h5M205 1240h0M535 1240h5M205 1245h0M535 1245h0M480 1250h30M530 1250h5M475 1255h0M510 1255h20M470 1260h0M465 1265h0M460 1270h0M455 1275h0M450 1280h0M445 1285h0M435 1290h0M420 1295h0M775 1077h0M780 1069h0M794 1053h0M500 939h0M296 1088h0M291 1091h0M416 1296h0M423 1295h0M767 945h0M767 945h0M774 961h0M769 960h0"/>
<path stroke="#8cff6b" d="M625 860h25M610 865h0M665 865h5M595 870h5M680 870h5M585 875h5M690 875h5M575 880h5M700 880h5M565 885h5M705 885h5M560 890h0M715 890h5M550 895h5M720 895h5M545 900h0M725 900h5M540 905h0M725 905h5M530 910h5M730 910h0M525 915h0M730 915h5M520 920h0M730 920h5M515 925h0M730 925h5M510 930h0M730 930h5M505 935h0M730 935h5M730 940h10M735 945h20M750 950h10M760 955h0M765 960h0M770 965h0M770 970h0M770 975h0M770 980h0M770 985h0M775 990h0M775 995h0M775 1000h0M775 1005h5M780 1010h0M780 1015h5M785 1020h0M785 1025h5M790 1030h0M790 1035h0M790 1040h5M795 1045h0M790 1050h0M780 1065h0M775 1070h0M770 1075h0M760 1080h5M745 1085h15M295 1090h0M735 1090h15M285 1095h0M730 1095h10M725 1100h5M715 1105h5M710 1110h5M705 1115h0M695 1120h5M690 1125h5M685 1130h0M675 1135h5M670 1140h5M665 1145h5M655 1150h5M645 1155h10M630 1160h15M215 1165h0M615 1165h15M605 1170h10M210 1175h0M595 1175h10M585 1180h10M580 1185h5M575 1190h5M570 1195h5M565 1200h5M560 1205h5M555 1210h5M550 1215h5M545 1220h5M540 1225h5M205 1230h0M530 1230h10M205 1235h0M510 1235h25M490 1240h40M480 1245h50M210 1250h0M475 1250h0M515 1250h10M470 1255h0M465 1260h0M460 1265h0M455 1270h0M450 1275h0M445 1280h0M440 1285h0M430 1290h0M415 1295h0M785 1060h0M787 1057h0M791 1052h0M504 936h0M451 970h0M433 986h0M281 1098h0M215 1164h0M208 1251h0M211 1254h0M216 1263h0M411 1296h0M415 1294h0M764 960h0M763 953h0"/>
<path stroke="#94ff63" d="M615 865h10M650 865h10M605 870h0M670 870h5M595 875h0M680 875h5M585 880h0M690 880h5M575 885h0M695 885h5M565 890h0M700 890h10M560 895h0M710 895h5M550 900h5M715 900h5M545 905h0M720 905h0M540 910h0M720 910h5M530 915h5M720 915h5M525 920h0M725 920h0M520 925h0M725 925h0M515 930h0M725 930h0M510 935h0M725 935h0M725 940h0M725 945h5M730 950h15M740 955h15M760 960h0M465 965h0M760 965h5M765 970h0M765 975h0M765 980h0M765 985h0M765 990h5M770 995h0M770 1000h0M770 1005h0M770 1010h5M775 1015h0M775 1020h5M775 1025h5M780 1030h5M780 1035h5M785 1040h0M785 1045h5M785 1050h0M785 1055h0M780 1060h0M775 1065h0M740 1070h15M765 1070h5M740 1075h25M735 1080h20M730 1085h10M725 1090h5M290 1095h0M720 1095h5M715 1100h5M705 1105h5M700 1110h5M695 1115h5M690 1120h0M680 1125h5M675 1130h5M665 1135h5M660 1140h5M650 1145h10M635 1150h15M625 1155h15M610 1160h15M220 1165h0M595 1165h15M215 1170h0M590 1170h10M585 1175h5M210 1180h0M575 1180h5M210 1185h0M570 1185h5M210 1190h0M565 1190h5M210 1195h0M560 1195h5M210 1200h0M555 1200h5M210 1205h0M550 1205h5M210 1210h0M545 1210h5M210 1215h0M535 1215h10M210 1220h0M525 1220h15M210 1225h0M510 1225h25M210 1230h0M495 1230h30M210 1235h0M485 1235h20M210 1240h0M480 1240h5M210 1245h0M475 1245h0M470 1250h0M465 1255h0M460 1260h0M455 1265h0M440 1280h0M435 1285h0M230 1290h0M420 1290h5M405 1295h5M780 1064h0M475 960h0M466 964h0M454 971h0M439 979h0M220 1163h0M232 1292h0"/>
<path stroke="#9cff5a" d="M630 865h15M610 870h5M660 870h5M600 875h0M675 875h0M590 880h0M680 880h5M580 885h5M690 885h0M570 890h5M695 890h0M565 895h0M700 895h5M560 900h0M705 900h5M550 905h5M710 905h5M545 910h0M710 910h5M540 915h0M715 915h0M530 920h5M715 920h5M525 925h0M715 925h5M520 930h0M715 930h5M515 935h0M720 935h0M510 940h0M720 940h0M720 945h0M720 950h5M725 955h10M730 960h25M755 965h0M455 970h0M760 970h0M450 975h0M760 975h0M760 980h0M760 985h0M760 990h0M760 995h5M760 1000h5M760 1005h5M765 1010h0M765 1015h5M765 1020h5M765 1025h5M765 1030h10M765 1035h10M770 1040h10M770 1045h10M740 1050h20M770 1050h10M735 1055h45M730 1060h45M730 1065h40M730 1070h5M760 1070h0M725 1075h10M725 1080h5M720 1085h5M300 1090h0M715 1090h5M710 1095h5M285 1100h0M705 1100h5M695 1105h5M690 1110h5M685 1115h5M675 1120h10M670 1125h5M660 1130h10M650 1135h10M640 1140h15M625 1145h20M610 1150h20M595 1155h25M590 1160h15M580 1165h10M575 1170h10M215 1175h0M570 1175h10M215 1180h0M565 1180h5M565 1185h0M560 1190h0M550 1195h5M545 1200h5M535 1205h10M525 1210h15M510 1215h20M495 1220h25M490 1225h15M480 1230h10M475 1235h5M470 1240h5M470 1245h0M215 1250h0M465 1250h0M215 1255h0M460 1255h0M455 1260h0M220 1265h0M450 1270h0M445 1275h0M435 1280h0M430 1285h0M415 1290h0M476 962h0M469 964h0M459 968h0M308 1087h0M300 1090h0M282 1104h0M228 1158h0M216 1257h0M223 1272h0M226 1278h0M229 1285h0M391 1297h0"/>
<path stroke="#a5ff52" d="M620 870h5M645 870h10M605 875h5M665 875h5M595 880h5M675 880h0M590 885h0M680 885h5M580 890h0M685 890h5M570 895h5M690 895h5M565 900h0M695 900h5M560 905h0M700 905h5M550 910h5M705 910h0M545 915h0M705 915h5M540 920h0M710 920h0M530 925h5M710 925h0M525 930h5M710 930h0M520 935h0M710 935h5M515 940h0M715 940h0M715 945h0M715 950h0M715 955h5M715 960h10M470 965h0M720 965h30M460 970h0M730 970h25M750 975h5M445 980h0M750 980h5M750 985h5M750 990h5M755 995h0M755 1000h0M750 1005h5M750 1010h10M750 1015h10M750 1020h10M750 1025h10M745 1030h15M740 1035h20M735 1040h30M730 1045h35M725 1050h10M765 1050h0M725 1055h5M720 1060h5M720 1065h5M720 1070h5M715 1075h5M715 1080h5M710 1085h5M305 1090h0M705 1090h5M295 1095h0M695 1095h10M690 1100h10M685 1105h5M680 1110h5M670 1115h10M660 1120h10M650 1125h15M635 1130h20M615 1135h30M600 1140h35M590 1145h30M585 1150h20M580 1155h10M575 1160h10M225 1165h0M570 1165h5M220 1170h0M565 1170h5M560 1175h5M555 1180h5M215 1185h0M555 1185h5M215 1190h0M545 1190h10M215 1195h0M535 1195h10M215 1200h0M520 1200h20M215 1205h0M505 1205h25M215 1210h0M495 1210h25M215 1215h0M490 1215h15M215 1220h0M485 1220h5M215 1225h0M480 1225h5M215 1230h0M475 1230h0M215 1235h0M470 1235h0M215 1240h0M465 1240h0M215 1245h0M460 1245h5M460 1250h0M220 1255h0M455 1255h0M220 1260h0M450 1265h0M225 1270h0M445 1270h0M440 1275h0M430 1280h0M230 1285h0M420 1285h5M235 1290h0M405 1290h5M513 943h0M448 977h0M435 990h0M347 1046h0M345 1051h0M312 1085h0M225 1268h0M229 1284h0M240 1293h0M242 1295h0M387 1296h0M400 1293h0M400 1293h0"/>
<path stroke="#adff4a" d="M630 870h10M615 875h0M655 875h5M605 880h0M670 880h0M595 885h0M675 885h0M585 890h5M680 890h0M580 895h0M685 895h0M570 900h5M690 900h0M565 905h0M695 905h0M560 910h0M695 910h5M550 915h5M700 915h0M545 920h5M705 920h0M540 925h0M705 925h0M535 930h0M705 930h0M525 935h5M705 935h0M520 940h0M705 940h5M705 945h5M705 950h5M705 955h5M705 960h5M475 965h0M710 965h5M465 970h0M710 970h15M455 975h0M710 975h35M715 980h30M440 985h0M725 985h20M435 990h0M735 990h10M735 995h15M740 1000h10M740 1005h5M735 1010h10M735 1015h10M735 1020h10M735 1025h10M730 1030h10M725 1035h10M720 1040h10M720 1045h5M345 1050h0M715 1050h5M715 1055h5M710 1060h5M710 1065h5M705 1070h10M705 1075h5M700 1080h10M695 1085h10M690 1090h10M300 1095h0M680 1095h10M290 1100h0M675 1100h10M285 1105h0M665 1105h15M650 1110h25M625 1115h40M605 1120h50M595 1125h50M590 1130h40M585 1135h25M580 1140h15M575 1145h10M570 1150h10M565 1155h10M230 1160h0M560 1160h10M555 1165h10M555 1170h5M220 1175h0M550 1175h5M220 1180h0M545 1180h5M220 1185h0M535 1185h15M515 1190h25M505 1195h25M495 1200h20M490 1205h10M485 1210h5M480 1215h5M475 1220h5M470 1225h5M465 1230h5M465 1235h0M220 1240h0M460 1240h0M220 1245h0M455 1245h0M220 1250h0M455 1250h0M450 1255h0M450 1260h0M225 1265h0M445 1265h0M440 1270h0M230 1275h0M435 1275h0M230 1280h0M425 1280h0M410 1285h5M240 1290h0M400 1290h0M483 962h0M440 985h0M417 1007h0M405 1017h0M345 1050h0M341 1057h0M283 1109h0M239 1151h0M232 1159h0M379 1295h0"/>
<path stroke="#b5ff42" d="M620 875h30M610 880h0M660 880h5M600 885h0M670 885h0M595 890h0M675 890h0M585 895h0M680 895h0M580 900h0M685 900h0M570 905h5M685 905h5M565 910h0M690 910h0M560 915h0M695 915h0M555 920h0M695 920h5M545 925h5M700 925h0M540 930h5M700 930h0M535 935h5M700 935h0M525 940h5M700 940h0M520 945h0M700 945h0M700 950h0M700 955h0M700 960h0M480 965h5M695 965h10M695 970h10M460 975h0M695 975h10M450 980h0M695 980h15M695 985h25M695 990h35M695 995h35M700 1000h35M700 1005h35M415 1010h0M705 1010h25M410 1015h0M710 1015h20M710 1020h20M710 1025h20M710 1030h15M705 1035h15M705 1040h10M700 1045h15M700 1050h10M695 1055h15M695 1060h10M690 1065h15M690 1070h10M680 1075h20M675 1080h20M665 1085h25M310 1090h0M645 1090h40M615 1095h60M295 1100h0M600 1100h70M290 1105h0M595 1105h65M285 1110h0M590 1110h55M585 1115h35M580 1120h20M575 1125h15M570 1130h15M565 1135h15M560 1140h15M560 1145h10M555 1150h10M240 1155h0M550 1155h10M545 1160h10M230 1165h0M540 1165h10M225 1170h0M535 1170h15M225 1175h0M520 1175h25M515 1180h25M505 1185h25M220 1190h0M495 1190h15M220 1195h0M490 1195h10M220 1200h0M485 1200h5M220 1205h0M480 1205h5M220 1210h0M475 1210h5M220 1215h0M470 1215h5M220 1220h0M465 1220h5M220 1225h0M465 1225h0M220 1230h0M460 1230h0M220 1235h0M460 1235h0M455 1240h0M450 1250h0M225 1255h0M225 1260h0M445 1260h0M440 1265h0M230 1270h0M435 1270h0M425 1275h5M235 1280h0M415 1280h5M235 1285h0M405 1285h0M395 1290h0M520 946h0M499 961h0M492 963h0M412 1012h0M316 1086h0M244 1149h0M237 1157h0M376 1296h0"/>
<path stroke="#bdff3a" d="M615 880h5M655 880h0M605 885h5M665 885h0M600 890h0M670 890h0M590 895h5M675 895h0M585 900h0M680 900h0M580 905h0M680 905h0M570 910h5M685 910h0M565 915h5M690 915h0M560 920h5M690 920h0M555 925h5M695 925h0M550 930h5M695 930h0M545 935h0M695 935h0M535 940h5M695 940h0M525 945h5M695 945h0M695 950h0M695 955h0M690 960h5M490 965h0M690 965h0M470 970h5M685 970h5M685 975h5M455 980h0M685 980h5M445 985h0M680 985h10M440 990h0M680 990h10M435 995h0M675 995h15M675 1000h20M675 1005h20M670 1010h30M670 1015h35M665 1020h40M665 1025h40M660 1030h45M650 1035h50M640 1040h60M630 1045h65M630 1050h65M345 1055h0M625 1055h65M620 1060h70M615 1065h70M610 1070h75M605 1075h70M600 1080h70M595 1085h65M315 1090h0M590 1090h50M305 1095h0M585 1095h25M300 1100h0M580 1100h15M575 1105h15M570 1110h15M565 1115h15M565 1120h10M560 1125h10M555 1130h10M550 1135h10M550 1140h5M255 1145h0M545 1145h10M540 1150h10M535 1155h10M235 1160h0M525 1160h15M520 1165h15M230 1170h0M510 1170h20M505 1175h10M225 1180h0M495 1180h15M225 1185h0M490 1185h10M225 1190h0M485 1190h5M480 1195h5M475 1200h5M470 1205h5M465 1210h5M465 1215h0M225 1220h0M460 1220h0M225 1225h0M455 1225h5M225 1230h0M455 1230h0M225 1235h0M450 1235h5M225 1240h0M450 1240h0M225 1245h0M450 1245h0M225 1250h0M445 1250h0M445 1255h0M230 1260h0M440 1260h0M230 1265h0M435 1265h0M425 1270h5M235 1275h0M415 1275h5M405 1280h5M240 1285h0M400 1285h0M245 1290h0M385 1290h5M519 949h0M497 963h0M411 1014h0M402 1022h0M281 1117h0M281 1118h0M250 1293h0M252 1292h0M262 1296h0"/>
<path stroke="#c5ff31" d="M625 880h25M615 885h0M660 885h0M605 890h0M665 890h0M600 895h0M670 895h0M590 900h5M675 900h0M585 905h0M580 910h0M680 910h0M575 915h0M685 915h0M570 920h0M685 920h0M565 925h0M690 925h0M560 930h0M690 930h0M550 935h5M690 935h0M545 940h5M690 940h0M535 945h10M690 945h0M525 950h10M690 950h0M520 955h0M685 955h5M510 960h0M685 960h0M495 965h0M680 965h5M480 970h0M680 970h0M465 975h0M675 975h5M675 980h5M450 985h0M670 985h5M665 990h10M665 995h5M660 1000h10M655 1005h15M420 1010h0M645 1010h20M415 1015h0M635 1015h30M405 1020h0M625 1020h35M615 1025h45M610 1030h45M610 1035h35M605 1040h30M360 1045h0M605 1045h20M350 1050h0M605 1050h20M600 1055h20M600 1060h15M340 1065h0M595 1065h15M590 1070h15M585 1075h15M585 1080h10M580 1085h10M575 1090h10M310 1095h0M570 1095h10M565 1100h10M295 1105h0M560 1105h10M290 1110h0M555 1110h10M285 1115h0M555 1115h5M550 1120h10M550 1125h5M545 1130h5M540 1135h5M535 1140h10M530 1145h10M250 1150h0M525 1150h10M245 1155h0M515 1155h15M240 1160h0M510 1160h10M235 1165h0M505 1165h10M500 1170h5M230 1175h0M490 1175h10M230 1180h0M485 1180h5M480 1185h5M475 1190h5M225 1195h0M470 1195h5M225 1200h0M465 1200h5M225 1205h0M465 1205h0M225 1210h0M460 1210h0M225 1215h0M455 1215h5M455 1220h0M450 1225h0M450 1230h0M445 1235h0M445 1240h0M230 1245h0M440 1245h5M230 1250h0M440 1250h0M230 1255h0M435 1255h5M435 1260h0M235 1265h0M425 1265h5M235 1270h0M415 1270h5M410 1275h0M240 1280h0M400 1280h0M245 1285h0M390 1285h5M250 1290h0M380 1290h0M518 954h0M517 956h0M511 957h0M510 958h0M434 1000h0M364 1042h0M342 1061h0M340 1066h0M337 1071h0M329 1080h0M325 1085h0M257 1143h0M252 1149h0M265 1296h0M365 1294h0"/>
<path stroke="#ceff29" d="M620 885h0M650 885h5M610 890h0M660 890h0M605 895h0M665 895h0M600 900h0M670 900h0M590 905h5M675 905h0M585 910h5M675 910h0M580 915h5M680 915h0M575 920h5M570 925h5M685 925h0M565 930h5M685 930h0M560 935h10M555 940h10M550 945h10M685 945h0M540 950h15M685 950h0M525 955h15M680 955h0M515 960h5M675 960h5M500 965h5M675 965h0M485 970h0M670 970h5M470 975h5M665 975h5M460 980h0M665 980h5M455 985h0M660 985h5M445 990h0M655 990h5M440 995h0M645 995h15M435 1000h0M635 1000h20M620 1005h30M605 1010h35M600 1015h30M410 1020h0M600 1020h20M595 1025h15M595 1030h10M595 1035h10M595 1040h5M590 1045h10M590 1050h10M590 1055h5M345 1060h0M585 1060h10M585 1065h5M580 1070h5M575 1075h5M570 1080h10M565 1085h10M320 1090h0M560 1090h10M315 1095h0M560 1095h5M305 1100h0M555 1100h5M300 1105h0M550 1105h5M295 1110h0M550 1110h0M290 1115h0M545 1115h5M285 1120h0M540 1120h5M280 1125h0M540 1125h5M535 1130h5M530 1135h5M265 1140h0M525 1140h5M260 1145h0M520 1145h5M510 1150h10M505 1155h5M500 1160h5M240 1165h0M495 1165h5M235 1170h0M490 1170h5M235 1175h0M480 1175h5M475 1180h5M230 1185h0M470 1185h5M230 1190h0M465 1190h5M230 1195h0M465 1195h0M230 1200h0M460 1200h0M230 1205h0M455 1205h5M230 1210h0M455 1210h0M230 1215h0M450 1215h0M230 1220h0M450 1220h0M230 1225h0M445 1225h0M230 1230h0M445 1230h0M230 1235h0M440 1235h0M230 1240h0M440 1240h0M435 1245h0M435 1250h0M235 1255h0M430 1255h0M235 1260h0M425 1260h5M415 1265h5M240 1270h0M410 1270h0M240 1275h0M400 1275h5M245 1280h0M395 1280h0M250 1285h0M385 1285h0M255 1290h0M370 1290h5M433 1002h0M424 1009h0M358 1047h0M325 1087h0M279 1126h0M277 1130h0M271 1134h0M268 1139h0M259 1145h0M338 1296h0M348 1294h0M358 1293h0M366 1293h0"/>
<path stroke="#d6ff21" d="M625 885h20M615 890h0M655 890h0M610 895h0M605 900h0M600 905h0M670 905h0M595 910h0M590 915h0M675 915h0M585 920h5M680 920h0M580 925h5M680 925h0M575 930h5M680 930h0M575 935h5M685 935h0M570 940h5M685 940h0M565 945h10M680 945h0M560 950h10M680 950h0M545 955h25M675 955h0M525 960h40M670 960h0M510 965h10M665 965h5M490 970h5M660 970h5M480 975h0M655 975h5M465 980h5M650 980h10M460 985h0M645 985h10M450 990h0M635 990h15M445 995h0M585 995h55M580 1000h50M580 1005h35M425 1010h0M585 1010h15M420 1015h0M585 1015h10M585 1020h10M405 1025h0M585 1025h5M585 1030h5M585 1035h5M585 1040h5M365 1045h0M585 1045h0M355 1050h0M580 1050h5M350 1055h0M580 1055h5M575 1060h5M575 1065h5M340 1070h0M570 1070h5M565 1075h5M560 1080h5M330 1085h0M555 1085h5M550 1090h5M550 1095h5M310 1100h0M545 1100h5M305 1105h0M545 1105h0M540 1110h5M535 1115h5M535 1120h0M530 1125h5M525 1130h5M520 1135h5M515 1140h5M505 1145h10M255 1150h0M500 1150h5M250 1155h0M495 1155h5M245 1160h0M490 1160h5M485 1165h5M240 1170h0M480 1170h5M475 1175h0M235 1180h0M470 1180h0M235 1185h0M465 1185h0M235 1190h0M460 1190h0M460 1195h0M455 1200h0M450 1205h0M450 1210h0M445 1215h0M440 1220h5M440 1225h0M235 1230h0M435 1230h5M235 1235h0M435 1235h0M235 1240h0M430 1240h5M235 1245h0M430 1245h0M235 1250h0M425 1250h5M420 1255h5M240 1260h0M415 1260h5M240 1265h0M410 1265h0M245 1270h0M400 1270h5M245 1275h0M395 1275h0M250 1280h0M385 1280h5M255 1285h0M375 1285h5M260 1290h0M360 1290h5M429 1008h0M401 1028h0M366 1045h0M336 1077h0M270 1138h0M271 1294h0M273 1293h0M279 1296h0M324 1297h0M332 1296h0M344 1295h0M353 1293h0"/>
<path stroke="#deff19" d="M620 890h5M645 890h5M615 895h0M655 895h5M610 900h0M665 900h0M605 905h0M665 905h0M600 910h0M670 910h0M595 915h0M670 915h0M595 920h0M675 920h0M590 925h5M675 925h0M585 930h5M675 930h0M585 935h5M680 935h0M580 940h10M675 940h5M580 945h5M675 945h0M575 950h10M670 950h5M575 955h10M665 955h5M570 960h15M660 960h5M525 965h60M655 965h5M500 970h15M540 970h50M650 970h5M485 975h5M555 975h40M645 975h5M475 980h0M560 980h45M635 980h10M465 985h0M565 985h75M455 990h0M565 990h65M450 995h0M570 995h10M440 1000h0M570 1000h5M435 1005h0M570 1005h5M430 1010h0M575 1010h5M575 1015h5M415 1020h0M575 1020h5M575 1025h5M400 1030h0M575 1030h5M575 1035h5M575 1040h5M370 1045h0M575 1045h5M360 1050h0M575 1050h0M570 1055h5M570 1060h0M345 1065h0M565 1065h5M560 1070h5M340 1075h0M560 1075h0M335 1080h0M555 1080h0M550 1085h0M325 1090h0M545 1090h0M320 1095h0M540 1095h5M315 1100h0M540 1100h0M535 1105h5M300 1110h0M535 1110h0M295 1115h0M530 1115h0M290 1120h0M525 1120h5M285 1125h0M520 1125h5M280 1130h0M515 1130h5M275 1135h0M510 1135h5M270 1140h0M505 1140h5M265 1145h0M500 1145h0M260 1150h0M490 1150h5M255 1155h0M485 1155h5M250 1160h0M480 1160h5M245 1165h0M475 1165h5M475 1170h0M240 1175h0M470 1175h0M240 1180h0M465 1180h0M460 1185h0M455 1190h0M235 1195h0M450 1195h5M235 1200h0M450 1200h0M235 1205h0M445 1205h0M235 1210h0M445 1210h0M235 1215h0M440 1215h0M235 1220h0M435 1220h0M235 1225h0M435 1225h0M430 1230h0M425 1235h5M425 1240h0M240 1245h0M420 1245h5M240 1250h0M415 1250h5M240 1255h0M415 1255h0M410 1260h0M245 1265h0M400 1265h5M395 1270h0M250 1275h0M390 1275h0M255 1280h0M380 1280h0M260 1285h0M365 1285h5M265 1290h5M350 1290h5M383 1038h0M289 1296h0M315 1297h0M320 1297h0"/>
<path stroke="#e6ff10" d="M630 890h10M620 895h0M650 895h0M615 900h0M655 900h5M610 905h0M660 905h0M605 910h0M665 910h0M600 915h5M665 915h0M600 920h0M665 920h5M600 925h0M665 925h5M595 930h5M665 930h5M595 935h0M665 935h10M595 940h0M665 940h5M590 945h5M660 945h10M590 950h5M655 950h10M590 955h5M655 955h5M590 960h5M650 960h5M590 965h10M645 965h5M520 970h15M595 970h10M640 970h5M495 975h15M530 975h20M600 975h40M480 980h5M545 980h10M610 980h20M470 985h0M550 985h10M460 990h0M555 990h5M560 995h5M445 1000h0M560 1000h5M440 1005h0M565 1005h0M565 1010h5M425 1015h0M565 1015h5M420 1020h0M570 1020h0M410 1025h0M570 1025h0M570 1030h0M570 1035h0M570 1040h0M570 1045h0M565 1050h5M355 1055h0M565 1055h0M350 1060h0M560 1060h5M560 1065h0M345 1070h0M555 1070h0M550 1075h5M545 1080h5M540 1085h5M330 1090h0M540 1090h0M325 1095h0M535 1095h0M535 1100h0M310 1105h0M530 1105h0M305 1110h0M525 1110h5M300 1115h0M520 1115h5M295 1120h0M520 1120h0M290 1125h0M515 1125h0M285 1130h0M510 1130h0M280 1135h0M500 1135h5M275 1140h0M495 1140h5M270 1145h0M490 1145h5M485 1150h0M480 1155h0M475 1160h0M250 1165h0M470 1165h0M245 1170h0M465 1170h5M245 1175h0M460 1175h5M460 1180h0M240 1185h0M455 1185h0M240 1190h0M450 1190h0M240 1195h0M445 1195h0M240 1200h0M445 1200h0M240 1205h0M440 1205h0M240 1210h0M435 1210h5M240 1215h0M435 1215h0M240 1220h0M430 1220h0M240 1225h0M425 1225h5M240 1230h0M425 1230h0M240 1235h0M420 1235h0M240 1240h0M415 1240h5M415 1245h0M245 1250h0M410 1250h0M245 1255h0M405 1255h5M245 1260h0M400 1260h5M250 1265h0M395 1265h0M250 1270h0M390 1270h0M255 1275h0M380 1275h5M260 1280h0M370 1280h5M265 1285h0M355 1285h5M275 1290h0M335 1290h10M398 1034h0M396 1035h0M381 1041h0M373 1044h0M292 1294h0M299 1294h0M306 1293h0M308 1294h0"/>
<path stroke="#efff08" d="M625 895h5M640 895h5M620 900h0M650 900h0M615 905h0M655 905h0M610 910h0M660 910h0M610 915h0M660 915h0M605 920h0M660 920h0M605 925h0M655 925h5M605 930h0M655 930h5M600 935h5M650 935h10M600 940h5M650 940h10M600 945h5M650 945h5M600 950h5M645 950h5M600 955h5M645 955h5M600 960h10M640 960h5M605 965h35M610 970h25M515 975h10M490 980h5M525 980h15M475 985h5M540 985h5M465 990h0M545 990h5M455 995h5M550 995h5M450 1000h0M555 1000h0M445 1005h0M555 1005h5M435 1010h0M560 1010h0M430 1015h0M560 1015h0M425 1020h0M565 1020h0M415 1025h0M565 1025h0M405 1030h0M565 1030h0M400 1035h0M565 1035h0M385 1040h0M565 1040h0M375 1045h0M565 1045h0M365 1050h0M560 1050h0M360 1055h0M560 1055h0M555 1060h0M350 1065h0M555 1065h0M550 1070h0M545 1075h0M340 1080h0M540 1080h0M335 1085h0M535 1085h0M535 1090h0M530 1095h0M320 1100h0M525 1100h5M315 1105h0M525 1105h0M310 1110h0M520 1110h0M305 1115h0M515 1115h0M300 1120h0M510 1120h5M295 1125h0M505 1125h5M290 1130h0M500 1130h5M285 1135h0M495 1135h0M280 1140h0M490 1140h0M485 1145h0M265 1150h0M480 1150h0M260 1155h0M475 1155h0M255 1160h0M470 1160h0M255 1165h0M465 1165h0M250 1170h0M460 1170h0M250 1175h0M455 1175h0M245 1180h0M455 1180h0M245 1185h0M450 1185h0M245 1190h0M445 1190h0M245 1195h0M440 1195h0M440 1200h0M435 1205h0M430 1210h0M430 1215h0M425 1220h0M245 1225h0M420 1225h0M245 1230h0M415 1230h5M245 1235h0M410 1235h5M245 1240h0M410 1240h0M245 1245h0M410 1245h0M405 1250h0M250 1255h0M400 1255h0M250 1260h0M395 1260h0M390 1265h0M255 1270h0M380 1270h5M260 1275h0M370 1275h5M265 1280h0M355 1280h10M270 1285h0M345 1285h5M280 1290h10M320 1290h10M388 1040h0"/>
<path stroke="#f7f600" d="M635 895h0M625 900h0M645 900h0M620 905h0M650 905h0M615 910h0M650 910h5M615 915h0M655 915h0M610 920h0M650 920h5M610 925h0M650 925h0M610 930h0M645 930h5M610 935h0M645 935h0M610 940h0M645 940h0M610 945h0M640 945h5M610 950h5M640 950h0M610 955h10M630 955h10M615 960h20M500 980h20M485 985h5M525 985h10M470 990h5M535 990h5M465 995h0M545 995h0M455 1000h0M550 1000h0M450 1005h0M550 1005h0M440 1010h0M555 1010h0M435 1015h0M555 1015h0M560 1020h0M420 1025h0M560 1025h0M410 1030h0M560 1030h0M560 1035h0M390 1040h0M560 1040h0M380 1045h0M560 1045h0M370 1050h0M555 1050h0M555 1055h0M355 1060h0M550 1060h0M550 1065h0M350 1070h0M545 1070h0M345 1075h0M540 1075h0M535 1080h0M340 1085h0M530 1085h0M335 1090h0M530 1090h0M330 1095h0M525 1095h0M325 1100h0M520 1100h0M320 1105h0M520 1105h0M315 1110h0M515 1110h0M310 1115h0M510 1115h0M305 1120h0M505 1120h0M300 1125h0M500 1125h0M295 1130h0M490 1130h5M290 1135h0M485 1135h5M285 1140h0M480 1140h5M275 1145h0M475 1145h5M270 1150h0M470 1150h5M265 1155h0M470 1155h0M260 1160h0M465 1160h0M260 1165h0M460 1165h0M255 1170h0M455 1170h0M450 1175h0M250 1180h0M450 1180h0M250 1185h0M445 1185h0M250 1190h0M440 1190h0M435 1195h0M245 1200h0M435 1200h0M245 1205h0M430 1205h0M245 1210h0M425 1210h0M245 1215h0M420 1215h5M245 1220h0M415 1220h5M415 1225h0M410 1230h0M405 1235h0M250 1240h0M405 1240h0M250 1245h0M405 1245h0M250 1250h0M400 1250h0M395 1255h0M255 1260h0M390 1260h0M255 1265h0M380 1265h5M260 1270h0M370 1270h5M265 1275h0M355 1275h10M270 1280h0M345 1280h5M275 1285h5M330 1285h10M295 1290h20"/>
<path stroke="#ffec00" d="M630 900h10M625 905h0M640 905h5M620 910h0M645 910h0M620 915h0M645 915h5M615 920h5M645 920h0M615 925h0M645 925h0M615 930h5M640 930h0M615 935h5M635 935h5M615 940h5M630 940h10M615 945h20M620 950h15M625 955h0M495 985h25M480 990h5M525 990h5M470 995h0M535 995h5M460 1000h0M540 1000h5M455 1005h0M545 1005h0M445 1010h0M550 1010h0M440 1015h0M550 1015h0M430 1020h0M550 1020h5M425 1025h0M555 1025h0M415 1030h0M555 1030h0M405 1035h5M555 1035h0M395 1040h0M555 1040h0M385 1045h0M555 1045h0M375 1050h0M550 1050h0M365 1055h0M550 1055h0M360 1060h0M545 1060h0M355 1065h0M540 1065h5M540 1070h0M350 1075h0M535 1075h0M345 1080h0M530 1080h0M525 1085h0M340 1090h0M525 1090h0M335 1095h0M520 1095h0M330 1100h0M515 1100h0M325 1105h0M510 1105h5M320 1110h0M510 1110h0M315 1115h0M505 1115h0M310 1120h0M495 1120h5M305 1125h0M490 1125h5M300 1130h0M485 1130h0M295 1135h0M480 1135h0M290 1140h0M475 1140h0M280 1145h5M470 1145h0M275 1150h0M465 1150h0M270 1155h0M460 1155h5M265 1160h0M460 1160h0M455 1165h0M260 1170h0M450 1170h0M255 1175h0M445 1175h0M255 1180h0M445 1180h0M255 1185h0M440 1185h0M435 1190h0M250 1195h0M430 1195h0M250 1200h0M430 1200h0M250 1205h0M425 1205h0M250 1210h0M420 1210h0M250 1215h0M415 1215h0M250 1220h0M410 1220h0M250 1225h0M405 1225h5M250 1230h0M405 1230h0M250 1235h0M400 1235h0M400 1240h0M255 1245h0M400 1245h0M255 1250h0M395 1250h0M255 1255h0M390 1255h0M260 1260h0M380 1260h5M260 1265h0M370 1265h5M265 1270h0M355 1270h10M270 1275h0M345 1275h5M275 1280h5M330 1280h10M285 1285h40"/>
<path stroke="#ffe300" d="M630 905h5M625 910h15M625 915h15M625 920h15M620 925h20M625 930h10M625 935h5M625 940h0M490 990h30M475 995h5M520 995h10M465 1000h5M530 1000h5M460 1005h0M540 1005h0M450 1010h0M540 1010h5M445 1015h0M545 1015h0M435 1020h0M545 1020h0M430 1025h0M550 1025h0M420 1030h0M550 1030h0M415 1035h0M550 1035h0M400 1040h5M550 1040h0M390 1045h0M550 1045h0M380 1050h0M545 1050h0M370 1055h0M545 1055h0M365 1060h0M540 1060h0M360 1065h0M535 1065h0M355 1070h0M535 1070h0M530 1075h0M350 1080h0M525 1080h0M345 1085h0M520 1085h0M520 1090h0M340 1095h0M515 1095h0M335 1100h0M510 1100h0M330 1105h0M505 1105h0M325 1110h0M500 1110h5M320 1115h0M495 1115h5M315 1120h0M490 1120h0M310 1125h0M485 1125h0M305 1130h0M480 1130h0M300 1135h0M475 1135h0M295 1140h0M470 1140h0M290 1145h0M465 1145h0M280 1150h5M460 1150h0M275 1155h5M455 1155h0M270 1160h5M455 1160h0M265 1165h5M450 1165h0M265 1170h0M445 1170h0M260 1175h0M440 1175h0M260 1180h0M440 1180h0M260 1185h0M435 1185h0M255 1190h0M430 1190h0M255 1195h0M425 1195h0M255 1200h0M425 1200h0M255 1205h0M420 1205h0M255 1210h0M415 1210h0M255 1215h0M410 1215h0M255 1220h0M405 1220h0M255 1225h0M255 1230h0M400 1230h0M255 1235h0M255 1240h0M395 1240h0M395 1245h0M260 1250h0M390 1250h0M260 1255h0M385 1255h0M265 1260h0M370 1260h5M265 1265h0M350 1265h15M270 1270h0M340 1270h10M275 1275h5M330 1275h10M285 1280h40"/>
<path stroke="#ffd900" d="M485 995h30M475 1000h0M520 1000h5M465 1005h0M530 1005h5M455 1010h5M535 1010h0M450 1015h0M540 1015h0M440 1020h5M540 1020h0M435 1025h0M545 1025h0M425 1030h5M545 1030h0M420 1035h0M545 1035h0M410 1040h0M545 1040h0M395 1045h5M545 1045h0M385 1050h0M540 1050h0M375 1055h0M540 1055h0M370 1060h0M535 1060h0M365 1065h0M530 1065h0M360 1070h0M530 1070h0M355 1075h0M525 1075h0M520 1080h0M350 1085h0M515 1085h0M345 1090h0M515 1090h0M510 1095h0M340 1100h0M505 1100h0M335 1105h0M500 1105h0M330 1110h0M495 1110h0M325 1115h0M490 1115h0M320 1120h0M485 1120h0M315 1125h0M480 1125h0M310 1130h0M475 1130h0M305 1135h0M470 1135h0M300 1140h0M465 1140h0M295 1145h0M460 1145h0M290 1150h0M455 1150h0M285 1155h0M450 1155h0M280 1160h0M450 1160h0M275 1165h0M445 1165h0M270 1170h0M440 1170h0M265 1175h0M435 1175h0M265 1180h0M435 1180h0M265 1185h0M430 1185h0M260 1190h0M425 1190h0M260 1195h0M420 1195h0M260 1200h0M420 1200h0M260 1205h0M415 1205h0M260 1210h0M410 1210h0M260 1215h0M405 1215h0M260 1220h0M400 1220h0M260 1225h0M400 1225h0M260 1230h0M395 1230h0M260 1235h0M395 1235h0M260 1240h0M260 1245h0M390 1245h0M265 1250h0M385 1250h0M265 1255h0M360 1255h20M270 1260h0M345 1260h20M270 1265h5M335 1265h10M275 1270h5M325 1270h10M285 1275h40"/>
<path stroke="#ffd000" d="M480 1000h35M470 1005h5M515 1005h10M465 1010h0M525 1010h5M455 1015h0M535 1015h0M450 1020h0M535 1020h0M440 1025h0M540 1025h0M435 1030h0M540 1030h0M425 1035h0M540 1035h0M415 1040h0M540 1040h0M405 1045h0M540 1045h0M390 1050h5M535 1050h0M380 1055h0M535 1055h0M375 1060h0M530 1060h0M370 1065h0M525 1065h0M365 1070h0M525 1070h0M360 1075h0M520 1075h0M355 1080h0M515 1080h0M355 1085h0M510 1085h0M350 1090h0M510 1090h0M345 1095h0M505 1095h0M345 1100h0M500 1100h0M340 1105h0M495 1105h0M335 1110h0M490 1110h0M330 1115h0M485 1115h0M325 1120h0M480 1120h0M320 1125h0M475 1125h0M315 1130h0M470 1130h0M310 1135h5M465 1135h0M305 1140h5M460 1140h0M300 1145h5M455 1145h0M295 1150h5M450 1150h0M290 1155h5M445 1155h0M285 1160h5M440 1160h5M280 1165h5M440 1165h0M275 1170h5M435 1170h0M270 1175h5M430 1175h0M270 1180h0M430 1180h0M270 1185h0M425 1185h0M265 1190h5M420 1190h0M265 1195h0M415 1195h0M265 1200h0M415 1200h0M265 1205h0M410 1205h0M265 1210h0M405 1210h0M265 1215h0M400 1215h0M265 1220h0M395 1220h0M265 1225h0M395 1225h0M265 1230h0M265 1235h0M390 1235h0M265 1240h0M390 1240h0M265 1245h0M385 1245h0M270 1250h0M345 1250h35M270 1255h0M340 1255h15M275 1260h0M330 1260h10M280 1265h0M320 1265h10M285 1270h35"/>
<path stroke="#ffc600" d="M480 1005h30M470 1010h5M510 1010h10M460 1015h5M520 1015h10M455 1020h0M530 1020h0M445 1025h5M535 1025h0M440 1030h0M535 1030h0M430 1035h5M535 1035h0M420 1040h5M535 1040h0M410 1045h5M535 1045h0M400 1050h5M530 1050h0M385 1055h5M530 1055h0M380 1060h0M525 1060h0M375 1065h0M520 1065h0M370 1070h0M520 1070h0M365 1075h0M515 1075h0M360 1080h0M510 1080h0M360 1085h0M505 1085h0M355 1090h0M505 1090h0M350 1095h0M500 1095h0M350 1100h0M495 1100h0M345 1105h0M490 1105h0M340 1110h0M485 1110h0M335 1115h0M480 1115h0M330 1120h0M475 1120h0M325 1125h0M465 1125h5M320 1130h5M460 1130h5M320 1135h0M455 1135h5M315 1140h0M455 1140h0M310 1145h5M450 1145h0M305 1150h5M445 1150h0M300 1155h10M440 1155h0M295 1160h10M435 1160h0M290 1165h10M435 1165h0M285 1170h10M430 1170h0M280 1175h5M425 1175h0M275 1180h5M425 1180h0M275 1185h5M420 1185h0M275 1190h0M415 1190h0M270 1195h5M410 1195h0M270 1200h0M405 1200h5M270 1205h0M405 1205h0M270 1210h0M400 1210h0M270 1215h0M395 1215h0M270 1220h0M270 1225h0M390 1225h0M270 1230h0M390 1230h0M270 1235h0M385 1235h0M270 1240h0M350 1240h5M385 1240h0M270 1245h0M340 1245h40M275 1250h0M330 1250h10M275 1255h0M325 1255h10M280 1260h5M315 1260h10M285 1265h30"/>
<path stroke="#ffbd00" d="M480 1010h25M470 1015h5M505 1015h10M460 1020h5M515 1020h10M455 1025h0M525 1025h5M445 1030h5M530 1030h0M440 1035h0M530 1035h0M430 1040h0M530 1040h0M420 1045h5M530 1045h0M410 1050h0M525 1050h0M395 1055h5M525 1055h0M385 1060h5M520 1060h0M380 1065h0M515 1065h0M375 1070h0M510 1070h5M370 1075h0M510 1075h0M365 1080h0M505 1080h0M365 1085h0M500 1085h0M360 1090h0M495 1090h5M355 1095h0M495 1095h0M355 1100h0M490 1100h0M350 1105h0M485 1105h0M345 1110h0M480 1110h0M340 1115h0M470 1115h5M335 1120h5M465 1120h5M330 1125h5M460 1125h0M330 1130h0M455 1130h0M325 1135h0M450 1135h0M320 1140h5M445 1140h5M320 1145h0M445 1145h0M315 1150h5M440 1150h0M315 1155h5M435 1155h0M310 1160h5M430 1160h0M305 1165h10M430 1165h0M300 1170h15M425 1170h0M290 1175h20M420 1175h0M285 1180h20M420 1180h0M285 1185h15M415 1185h0M280 1190h10M410 1190h0M280 1195h5M405 1195h0M275 1200h5M400 1200h0M275 1205h5M395 1205h5M275 1210h5M395 1210h0M275 1215h0M390 1215h0M275 1220h0M385 1220h5M275 1225h0M385 1225h0M275 1230h0M385 1230h0M275 1235h0M335 1235h30M380 1235h0M275 1240h0M325 1240h20M360 1240h20M275 1245h0M320 1245h15M280 1250h0M315 1250h10M280 1255h40M290 1260h20"/>
<path stroke="#ffb300" d="M480 1015h20M470 1020h10M495 1020h15M460 1025h5M505 1025h15M455 1030h0M525 1030h0M445 1035h5M525 1035h0M435 1040h5M525 1040h0M430 1045h0M525 1045h0M415 1050h5M520 1050h0M405 1055h5M515 1055h5M395 1060h5M515 1060h0M385 1065h5M510 1065h0M380 1070h5M505 1070h0M375 1075h0M500 1075h5M370 1080h5M500 1080h0M370 1085h0M495 1085h0M365 1090h0M490 1090h0M360 1095h5M485 1095h5M360 1100h0M480 1100h5M355 1105h0M475 1105h5M350 1110h5M470 1110h5M345 1115h5M465 1115h0M345 1120h0M460 1120h0M340 1125h0M455 1125h0M335 1130h5M450 1130h0M330 1135h5M445 1135h0M330 1140h0M440 1140h0M325 1145h5M435 1145h5M325 1150h5M435 1150h0M325 1155h5M430 1155h0M320 1160h10M425 1160h0M320 1165h10M425 1165h0M320 1170h10M420 1170h0M315 1175h15M415 1175h0M310 1180h20M415 1180h0M305 1185h25M410 1185h0M295 1190h35M405 1190h0M290 1195h40M400 1195h0M285 1200h45M395 1200h0M285 1205h50M390 1205h0M285 1210h50M385 1210h5M280 1215h10M310 1215h30M385 1215h0M280 1220h5M315 1220h35M380 1220h0M280 1225h5M315 1225h65M280 1230h5M315 1230h65M280 1235h5M310 1235h20M370 1235h5M280 1240h5M305 1240h15M280 1245h35M285 1250h25"/>
<path stroke="#ffaa00" d="M485 1020h5M470 1025h30M460 1030h10M495 1030h25M455 1035h5M505 1035h15M445 1040h5M510 1040h10M435 1045h5M510 1045h10M425 1050h5M510 1050h5M415 1055h5M510 1055h0M405 1060h5M505 1060h5M395 1065h5M500 1065h5M390 1070h0M500 1070h0M380 1075h5M495 1075h0M380 1080h0M490 1080h5M375 1085h0M490 1085h0M370 1090h5M485 1090h0M370 1095h0M480 1095h0M365 1100h5M475 1100h0M360 1105h5M470 1105h0M360 1110h0M465 1110h0M355 1115h5M460 1115h0M350 1120h5M455 1120h0M345 1125h5M450 1125h0M345 1130h0M445 1130h0M340 1135h5M440 1135h0M335 1140h5M435 1140h0M335 1145h5M430 1145h0M335 1150h5M425 1150h5M335 1155h0M425 1155h0M335 1160h0M420 1160h0M335 1165h0M415 1165h5M335 1170h0M415 1170h0M335 1175h5M410 1175h0M335 1180h5M405 1180h5M335 1185h5M405 1185h0M335 1190h5M400 1190h0M335 1195h10M395 1195h0M335 1200h10M390 1200h0M340 1205h10M380 1205h5M340 1210h20M375 1210h5M295 1215h10M345 1215h35M290 1220h20M355 1220h20M290 1225h20M290 1230h20M290 1235h15M290 1240h10"/>
<path stroke="#ffa100" d="M475 1030h15M465 1035h35M455 1040h10M490 1040h15M445 1045h10M495 1045h10M435 1050h10M500 1050h5M425 1055h10M495 1055h10M415 1060h10M495 1060h5M405 1065h10M495 1065h0M395 1070h10M490 1070h5M390 1075h5M490 1075h0M385 1080h5M485 1080h0M380 1085h5M480 1085h5M380 1090h5M480 1090h0M375 1095h5M475 1095h0M375 1100h5M470 1100h0M370 1105h5M465 1105h0M365 1110h10M460 1110h0M365 1115h5M450 1115h5M360 1120h5M445 1120h5M355 1125h5M440 1125h5M350 1130h5M435 1130h5M350 1135h0M430 1135h5M345 1140h5M425 1140h5M345 1145h0M425 1145h0M345 1150h0M420 1150h0M340 1155h5M415 1155h5M340 1160h5M415 1160h0M340 1165h5M410 1165h0M340 1170h5M410 1170h0M345 1175h0M405 1175h0M345 1180h5M400 1180h0M345 1185h5M395 1185h5M345 1190h10M390 1190h5M350 1195h10M385 1195h5M350 1200h35M355 1205h20M365 1210h5"/>
<path stroke="#ff9700" d="M470 1040h15M460 1045h30M450 1050h15M475 1050h20M440 1055h10M485 1055h5M430 1060h10M485 1060h5M420 1065h10M485 1065h5M410 1070h10M485 1070h0M400 1075h10M480 1075h5M395 1080h10M480 1080h0M390 1085h10M475 1085h0M390 1090h5M470 1090h5M385 1095h5M465 1095h5M385 1100h5M460 1100h5M380 1105h10M455 1105h5M380 1110h5M450 1110h5M375 1115h10M440 1115h5M370 1120h10M435 1120h5M365 1125h10M430 1125h5M360 1130h10M425 1130h5M355 1135h10M420 1135h5M355 1140h5M415 1140h5M350 1145h5M415 1145h5M350 1150h5M410 1150h5M350 1155h5M410 1155h0M350 1160h5M405 1160h5M350 1165h5M405 1165h0M350 1170h5M400 1170h5M350 1175h5M400 1175h0M355 1180h5M395 1180h0M355 1185h10M385 1185h5M360 1190h25M365 1195h15"/>
<path stroke="#ff8e00" d="M470 1050h0M455 1055h25M445 1060h35M435 1065h10M470 1065h10M425 1070h10M470 1070h10M415 1075h10M470 1075h5M410 1080h10M470 1080h5M405 1085h5M465 1085h5M400 1090h10M465 1090h0M395 1095h10M455 1095h5M395 1100h10M450 1100h5M395 1105h10M440 1105h10M390 1110h10M435 1110h10M390 1115h15M425 1115h10M385 1120h45M380 1125h45M375 1130h45M370 1135h10M405 1135h10M365 1140h10M405 1140h5M360 1145h10M400 1145h10M360 1150h5M400 1150h5M360 1155h5M400 1155h5M360 1160h5M400 1160h0M360 1165h5M395 1165h5M360 1170h5M395 1170h0M360 1175h10M385 1175h10M365 1180h25M370 1185h10"/>
<path stroke="#ff8400" d="M450 1065h15M440 1070h25M430 1075h35M425 1080h40M415 1085h45M415 1090h45M410 1095h40M410 1100h35M410 1105h25M405 1110h25M410 1115h10M385 1135h15M380 1140h20M375 1145h20M370 1150h25M370 1155h25M370 1160h25M370 1165h20M370 1170h20M375 1175h5"/>
</g>
<line x1="163" y1="1319.4" x2="1399.8" y2="38.8" stroke="#bf00bf" stroke-width="9.2" stroke-linecap="square"/>
</g>
<g stroke="#000" fill="none">
<path d="M163 38.1V1320.1" stroke-width="2"/>
<path d="M1399.8 38.1V1320.1" stroke-width="2"/>
<path d="M162 38.8H1400.8M162 1319.4H1400.8" stroke-width="1.4"/>
<path d="M163 1319.4v8.4M317.6 1319.4v8.4M472.2 1319.4v8.4M626.8 1319.4v8.4M781.4 1319.4v8.4M936 1319.4v8.4M1090.6 1319.4v8.4M1245.2 1319.4v8.4M1399.8 1319.4v8.4" stroke-width="2"/>
<path d="M163 1319.4h-8.6M163 1159.3h-8.6M163 999.2h-8.6M163 839.2h-8.6M163 679.1h-8.6M163 519h-8.6M163 359h-8.6M163 198.9h-8.6M163 38.8h-8.6" stroke-width="1.4"/>
</g>
<g font-family="'Liberation Serif',serif" font-size="48.2" fill="#000">
<g text-anchor="middle">
<text x="163" y="1368.1">0</text>
<text x="317.6" y="1368.1">10</text>
<text x="472.2" y="1368.1">20</text>
<text x="626.8" y="1368.1">30</text>
<text x="781.4" y="1368.1">40</text>
<text x="936" y="1368.1">50</text>
<text x="1090.6" y="1368.1">60</text>
<text x="1245.2" y="1368.1">70</text>
<text x="1399.8" y="1368.1">80</text>
</g><g text-anchor="end">
<text x="146.8" y="1335.8">0</text>
<text x="146.8" y="1175.7">10</text>
<text x="146.8" y="1015.6">20</text>
<text x="146.8" y="855.6">30</text>
<text x="146.8" y="695.5">40</text>
<text x="146.8" y="535.4">50</text>
<text x="146.8" y="375.4">60</text>
<text x="146.8" y="215.3">70</text>
<text x="146.8" y="55.2">80</text>
</g></g>
<g font-family="'Liberation Serif',serif" font-weight="bold" font-size="57.2" text-anchor="middle" fill="#000">
<text x="781.4" y="1426.6" font-size="57.7">SFMR Winds(m/s)</text>
<text transform="translate(79.3 677.6) rotate(-90)">ERA5 Winds(m/s)</text>
</g>
<g font-family="'Liberation Serif',serif" font-size="57" fill="#000">
<text x="239.8" y="198.3">Bias:<tspan font-size="46.5" dx="-1.6" dy="-2.7">–</tspan><tspan dx="-1.0" dy="2.7">6.06</tspan></text>
<text x="239.8" y="278.3">RMSE:8.38</text>
<text x="239.8" y="358.3">R:0.75</text>
<text x="1222.9" y="1212.8" font-size="62.5">(a)</text>
</g>
<rect x="1477.9" y="38.8" width="63.5" height="1280.6" fill="url(#jet)"/>
<g stroke="#000" fill="none">
<path d="M1477.9 38.1V1320.1M1541.4 38.1V1320.1" stroke-width="2"/>
<path d="M1476.9 38.8H1542.4M1476.9 1319.4H1542.4" stroke-width="1.4"/>
<path d="M1541.4 1319.4h8M1541.4 1063.3h8M1541.4 807.2h8M1541.4 551h8M1541.4 294.9h8M1541.4 38.8h8" stroke-width="1.4"/>
</g>
<g font-family="'Liberation Serif',serif" font-size="37" fill="#000">
<text x="1557" y="1331.9">0</text>
<text x="1557" y="1075.8">1</text>
<text x="1557" y="819.7">2</text>
<text x="1557" y="563.5">3</text>
<text x="1557" y="307.4">4</text>
<text x="1557" y="51.3">5</text>
</g>
<text font-family="'Liberation Serif',serif" font-weight="bold" font-size="46.3" text-anchor="middle" fill="#000" transform="translate(1616 679.1) rotate(-90)">Scatter density</text>
</g>
<g id="panel-b">
<clipPath id="clip-b"><rect x="150" y="1510.2" width="1230.5" height="1273.2"/></clipPath>
<g clip-path="url(#clip-b)">
<g fill="none" stroke-width="15.6" stroke-linecap="round">
<path stroke="#0000a2" d="M996 2470h0M999 2467h0M630 2731h0"/>
<path stroke="#0000ae" d="M252 2510h0M992 2472h0M1003 2464h0M633 2728h0M637 2724h0"/>
<path stroke="#0000b9" d="M1008 2462h0M1012 2462h0"/>
<path stroke="#0000c5" d="M989 2475h0"/>
<path stroke="#0000d1" d="M1018 2462h0M1022 2463h0M761 2640h0"/>
<path stroke="#0000dc" d="M805 2434h0M985 2478h0M764 2637h0M804 2435h0M641 2722h0"/>
<path stroke="#0000e8" d="M976 2482h0M981 2480h0M1026 2463h0M758 2643h0M804 2482h0"/>
<path stroke="#0000f3" d="M972 2481h0M1031 2462h0M646 2720h0M650 2720h0"/>
<path stroke="#0000ff" d="M859 2363h0M945 2483h0M948 2483h0M967 2481h0M763 2633h0M754 2647h0"/>
<path stroke="#0000ff" d="M930 2482h0M935 2482h0M940 2482h0M953 2482h0M957 2481h0M963 2481h0M1035 2462h0M1041 2462h0M659 2717h0"/>
<path stroke="#0005ff" d="M859 2359h0M857 2368h0M857 2373h0M921 2483h0M925 2482h0M654 2719h0M664 2717h0"/>
<path stroke="#000fff" d="M861 2356h0M858 2382h0M945 2412h0M802 2434h0M765 2628h0"/>
<path stroke="#0019ff" d="M857 2378h0M935 2412h0M940 2411h0M949 2413h0M937 2427h0M946 2428h0M951 2427h0M916 2483h0M798 2484h0M826 2701h0M762 2624h0M750 2650h0M669 2717h0M673 2717h0M677 2718h0M691 2717h0M700 2717h0"/>
<path stroke="#0024ff" d="M941 2164h0M931 2412h0M933 2427h0M942 2428h0M906 2484h0M1045 2462h0M802 2484h0M810 2490h0M800 2435h0M693 2716h0M706 2714h0"/>
<path stroke="#002eff" d="M864 2351h0M864 2382h0M912 2482h0M809 2489h0M848 2701h0M770 2664h0M762 2617h0M681 2716h0M686 2716h0M705 2717h0M722 2706h0M732 2704h0M736 2705h0M750 2700h0"/>
<path stroke="#0038ff" d="M940 2160h0M912 2411h0M917 2412h0M922 2412h0M926 2412h0M930 2443h0M820 2492h0M814 2701h0M772 2659h0M712 2709h0M714 2707h0M717 2705h0M727 2704h0M744 2703h0M754 2702h0"/>
<path stroke="#0042ff" d="M419 2019h0M944 2156h0M990 2358h0M994 2361h0M1005 2370h0M1008 2374h0M1014 2379h0M868 2382h0M898 2397h0M907 2398h0M910 2398h0M912 2442h0M891 2457h0M902 2483h0M1049 2462h0M818 2493h0M829 2498h0M816 2525h0M824 2525h0M833 2524h0M743 2702h0M771 2670h0M771 2674h0M771 2677h0M771 2682h0M770 2687h0M770 2692h0M739 2701h0M594 2735h0"/>
<path stroke="#004dff" d="M383 2340h0M940 2166h0M982 2353h0M998 2363h0M872 2381h0M894 2397h0M903 2396h0M908 2412h0M895 2442h0M899 2441h0M904 2443h0M907 2443h0M916 2442h0M921 2442h0M925 2442h0M880 2457h0M882 2457h0M888 2456h0M803 2523h0M820 2523h0M830 2524h0M720 2701h0M725 2701h0M729 2702h0M734 2701h0M739 2701h0M747 2702h0M770 2696h0"/>
<path stroke="#0057ff" d="M945 2151h0M986 2357h0M1002 2367h0M1011 2377h0M1018 2383h0M1026 2388h0M1032 2396h0M857 2346h0M862 2350h0M878 2381h0M883 2382h0M888 2382h0M875 2456h0M863 2469h0M874 2470h0M898 2482h0M1054 2459h0M822 2494h0M833 2500h0M837 2501h0M837 2517h0M806 2525h0M811 2525h0M795 2701h0M769 2701h0M761 2612h0M798 2481h0M712 2693h0M585 2735h0M589 2735h0"/>
<path stroke="#0061ff" d="M424 2020h0M945 2146h0M941 2150h0M940 2156h0M939 2161h0M969 2346h0M977 2351h0M1021 2385h0M1029 2392h0M1037 2396h0M1042 2396h0M891 2382h0M893 2484h0M825 2514h0"/>
<path stroke="#006bff" d="M236 2538h0M952 2344h0M956 2345h0M961 2346h0M965 2345h0M975 2350h0M1046 2397h0M1050 2396h0M1055 2397h0M869 2470h0M798 2434h0M889 2483h0M1057 2457h0M841 2504h0M832 2516h0M759 2611h0"/>
<path stroke="#0075ff" d="M425 2015h0M942 2147h0M1067 2399h0M853 2347h0M1060 2455h0M786 2536h0M791 2536h0M795 2536h0M803 2536h0M756 2606h0"/>
<path stroke="#0080ff" d="M925 2710h0M247 2541h0M272 2437h0M944 2142h0M939 2139h0M942 2343h0M948 2344h0M1059 2397h0M1065 2397h0M1073 2408h0M846 2484h0M1064 2451h0M800 2535h0M923 2709h0M918 2711h0M866 2701h0M579 2736h0"/>
<path stroke="#008aff" d="M680 2690h0M680 2695h0M900 2710h0M920 2710h0M930 2710h0M940 2715h0M275 2435h0M277 2360h0M943 2139h0M943 2142h0M938 2342h0M1069 2404h0M836 2483h0M851 2481h0M858 2484h0M863 2480h0M869 2470h0M1068 2449h0M1072 2447h0M1032 2402h0M787 2558h0M794 2557h0M792 2577h0M796 2577h0M804 2580h0M808 2580h0M828 2624h0M836 2640h0M851 2653h0M857 2661h0M870 2670h0M882 2680h0M894 2697h0M898 2701h0M942 2709h0M913 2707h0M907 2713h0M926 2712h0M795 2435h0M680 2696h0M696 2693h0"/>
<path stroke="#0094ff" d="M665 2690h10M890 2705h0M905 2705h0M905 2710h5M935 2710h15M945 2715h0M178 2637h0M430 2016h0M939 2134h0M924 2340h0M928 2342h0M844 2346h0M849 2347h0M841 2483h0M857 2481h0M865 2478h0M869 2472h0M871 2475h0M875 2482h0M1037 2403h0M1041 2405h0M1046 2405h0M1050 2405h0M1054 2405h0M1059 2406h0M1074 2409h0M801 2579h0M813 2581h0M817 2583h0M824 2610h0M826 2616h0M828 2620h0M833 2631h0M841 2643h0M854 2656h0M858 2664h0M861 2666h0M866 2668h0M873 2673h0M878 2676h0M885 2685h0M887 2688h0M891 2692h0M901 2705h0M939 2715h0M948 2714h0M951 2717h0M945 2711h0M936 2707h0M929 2708h0M919 2708h0M903 2705h0M900 2702h0M888 2709h0M910 2711h0M930 2716h0M937 2713h0M754 2601h0M674 2695h0M574 2737h0"/>
<path stroke="#009eff" d="M655 2695h20M895 2705h5M915 2710h0M950 2715h0M282 2359h0M307 2304h0M940 2134h0M937 2133h0M934 2342h0M793 2435h0M1065 2408h0M1069 2407h0M776 2556h0M781 2558h0M791 2557h0M821 2609h0M830 2628h0M834 2635h0M844 2648h0M847 2650h0M892 2694h0M961 2719h0M954 2712h0M907 2703h0M892 2704h0M898 2709h0M902 2712h0M664 2698h0M666 2698h0M673 2698h0M681 2688h0M677 2687h0M668 2688h0M658 2690h0M571 2737h0"/>
<path stroke="#00a8ff" d="M645 2690h5M895 2710h0M955 2715h5M222 2468h0M207 2477h0M210 2483h0M211 2480h0M220 2475h0M311 2304h0M325 2303h0M918 2211h0M920 2213h0M930 2214h0M936 2221h0M939 2224h0M924 2250h0M924 2248h0M794 2464h0M1076 2445h0M959 2717h0M968 2711h0M963 2709h0M960 2711h0M888 2706h0M751 2600h0M649 2696h0M651 2699h0M661 2689h0M653 2688h0M645 2687h0M566 2737h0"/>
<path stroke="#00b2ff" d="M915 2330h5M920 2340h0M925 2345h0M220 2470h0M215 2475h0M205 2480h0M215 2480h0M205 2485h0M640 2690h0M655 2690h5M635 2695h0M645 2695h5M965 2715h0M1060 2715h0M226 2473h0M203 2479h0M204 2482h0M280 2435h0M289 2354h0M317 2306h0M323 2304h0M437 2012h0M612 1926h0M817 1980h0M827 1985h0M935 2134h0M927 2213h0M934 2218h0M934 2232h0M931 2237h0M931 2245h0M921 2254h0M912 2337h0M920 2346h0M928 2340h0M928 2333h0M931 2132h0M768 2558h0M773 2556h0M966 2718h0M1052 2716h0M1056 2716h0M1064 2712h0M1059 2710h0M971 2712h0M791 2481h0M633 2698h0M638 2698h0M638 2689h0"/>
<path stroke="#00bdff" d="M925 2220h0M910 2300h0M905 2305h0M915 2305h0M905 2310h0M910 2325h5M875 2330h5M915 2335h0M925 2335h0M925 2340h5M905 2345h0M220 2475h0M210 2480h0M630 2690h5M625 2695h5M640 2695h0M970 2715h5M1045 2715h0M1055 2715h0M220 2468h0M215 2472h0M176 2624h0M329 2302h0M441 2012h0M802 1972h0M807 1972h0M811 1977h0M814 1977h0M822 1984h0M830 1984h0M837 1986h0M839 1987h0M842 1991h0M862 2005h0M931 2133h0M936 2237h0M906 2303h0M902 2323h0M908 2330h0M914 2339h0M926 2347h0M930 2343h0M917 2324h0M893 2339h0M898 2341h0M900 2347h0M892 2328h0M889 2330h0M880 2327h0M869 2329h0M926 2130h0M979 2718h0M1060 2715h0M1051 2708h0M642 2700h0M625 2687h0"/>
<path stroke="#00c7ff" d="M930 2215h0M935 2220h0M930 2225h0M915 2290h0M910 2295h5M915 2300h0M910 2310h0M905 2315h5M905 2320h0M915 2320h0M870 2330h0M885 2330h0M910 2330h0M890 2335h0M920 2335h0M900 2340h5M615 2690h0M980 2715h5M1040 2715h0M1050 2715h0M900 1992h0M856 1962h0M856 1965h0M857 1963h0M869 1977h0M872 1979h0M872 1978h0M334 2301h0M847 1994h0M851 1997h0M853 2001h0M858 2003h0M864 2008h0M925 2134h0M904 2306h0M903 2311h0M910 2333h0M923 2332h0M916 2320h0M915 2318h0M917 2307h0M918 2306h0M918 2299h0M935 2232h0M936 2227h0M935 2214h0M925 2215h0M924 2218h0M923 2227h0M889 2334h0M911 2348h0M898 2332h0M879 2325h0M872 2328h0M870 2334h0M922 2129h0M790 2464h0M762 2558h0M976 2716h0M986 2716h0M1049 2717h0M1035 2708h0M981 2711h0M618 2700h0M635 2689h0M628 2689h0"/>
<path stroke="#00d1ff" d="M855 1960h0M895 1990h0M930 2220h0M925 2225h0M935 2225h0M930 2230h5M925 2235h10M925 2245h5M925 2250h0M915 2280h0M915 2285h0M920 2290h0M910 2305h0M915 2310h0M910 2320h0M890 2330h0M895 2335h0M910 2345h0M620 2690h5M610 2695h0M620 2695h0M1005 2715h0M1020 2715h0M1030 2715h5M899 1999h0M885 1987h0M853 1957h0M851 1955h0M830 1936h0M745 1908h0M544 2748h0M545 2744h0M445 2013h0M615 1926h0M922 2234h0M914 2281h0M911 2282h0M911 2290h0M911 2297h0M900 2319h0M925 2290h0M928 2278h0M935 2221h0M930 2215h0M909 2345h0M905 2338h0M902 2340h0M870 2331h0M881 2333h0M886 2337h0M760 2555h0M987 2717h0M1029 2718h0M1036 2719h0M1045 2712h0M1039 2712h0M1030 2710h0M1022 2711h0M992 2709h0M984 2712h0M624 2701h0M606 2701h0M612 2698h0"/>
<path stroke="#00dbff" d="M845 1955h0M850 1960h0M890 1990h0M895 1995h0M925 2230h0M930 2240h0M920 2245h0M920 2250h0M930 2250h0M920 2260h0M920 2265h0M925 2270h0M925 2275h0M925 2280h0M920 2285h0M910 2290h0M920 2295h0M610 2690h0M595 2695h0M615 2695h0M990 2715h0M1025 2715h0M674 2673h0M697 2657h0M904 2203h0M898 2063h0M895 1992h0M887 1988h0M846 1960h0M845 1954h0M824 1935h0M818 1934h0M694 1903h0M492 1902h0M541 2748h0M809 1970h0M831 1984h0M293 2354h0M336 2297h0M338 2291h0M917 2130h0M922 2130h0M926 2232h0M918 2242h0M919 2247h0M912 2272h0M921 2295h0M926 2287h0M928 2267h0M931 2243h0M934 2238h0M917 2129h0M785 2465h0M753 2554h0M993 2716h0M999 2719h0M1003 2719h0M1009 2717h0M1018 2717h0M1032 2717h0M1019 2710h0M1010 2709h0M1001 2712h0M791 2435h0M615 2698h0M617 2688h0M614 2687h0M595 2690h0"/>
<path stroke="#00e5f7" d="M490 1905h0M750 1910h0M785 1930h0M805 1935h10M830 1940h0M830 1945h0M840 1955h0M815 1970h0M820 1975h0M830 1980h5M840 1985h0M845 1990h0M850 1995h5M855 2000h0M895 2000h0M895 2025h0M895 2030h0M905 2200h0M925 2240h0M920 2255h5M925 2265h0M915 2270h5M915 2275h5M920 2280h0M690 2660h0M685 2665h0M675 2670h0M665 2675h0M605 2690h0M600 2695h5M995 2715h5M1010 2715h5M656 2678h0M679 2669h0M680 2667h0M684 2664h0M690 2661h0M696 2650h0M866 2304h0M905 2199h0M894 2039h0M894 2035h0M895 2030h0M894 2026h0M892 2008h0M894 2004h0M889 1992h0M895 1998h0M892 2002h0M860 1999h0M861 1998h0M853 1995h0M851 1990h0M847 1989h0M840 1986h0M838 1980h0M833 1978h0M844 1959h0M841 1954h0M836 1949h0M831 1940h0M815 1934h0M808 1934h0M802 1932h0M799 1932h0M793 1930h0M784 1931h0M784 1931h0M760 1914h0M752 1911h0M748 1911h0M689 1902h0M491 1905h0M807 1965h0M812 1971h0M816 1973h0M820 1975h0M826 1979h0M837 1986h0M842 1990h0M846 1994h0M849 1994h0M854 2002h0M857 2002h0M782 1944h0M282 2434h0M299 2353h0M449 2013h0M620 1925h0M920 2255h0M918 2258h0M916 2263h0M914 2272h0M926 2276h0M929 2265h0M930 2258h0M932 2251h0M932 2245h0M862 2228h0M866 2228h0M857 2243h0M866 2244h0M875 2294h0M898 2298h0M903 2301h0M913 2130h0M752 2534h0M762 2532h0M770 2536h0M744 2556h0M751 2556h0M1022 2714h0M1005 2711h0M998 2711h0M604 2689h0M603 2692h0M588 2689h0M591 2698h0"/>
<path stroke="#08f0ef" d="M495 1905h0M680 1905h10M750 1915h5M775 1930h5M780 1935h20M775 1940h50M825 1945h0M805 1950h0M830 1950h5M830 1955h5M810 1960h0M810 1965h5M820 1970h5M825 1975h5M860 2000h5M860 2005h15M885 2005h5M890 2010h0M890 2015h0M890 2020h0M890 2025h0M895 2060h0M895 2065h0M900 2200h0M925 2260h0M895 2265h0M905 2265h0M920 2265h0M870 2270h0M695 2650h0M690 2655h0M685 2660h0M680 2665h0M670 2670h0M660 2675h0M600 2690h0M590 2695h0M525 2750h5M642 2679h0M652 2676h0M662 2675h0M666 2673h0M693 2650h0M864 2305h0M864 2274h0M897 2205h0M896 2129h0M895 2062h0M895 2058h0M893 2021h0M891 2011h0M888 2003h0M885 2005h0M868 2002h0M830 1974h0M832 1955h0M839 1956h0M772 1926h0M746 1916h0M680 1905h0M520 1905h0M511 1902h0M508 1902h0M489 1912h0M483 1924h0M480 1931h0M522 2753h0M528 2750h0M531 2749h0M535 2745h0M532 2746h0M796 1946h0M800 1946h0M802 1953h0M808 1959h0M865 2007h0M865 2010h0M857 2033h0M857 2032h0M800 2027h0M774 1997h0M759 1971h0M784 1941h0M789 1942h0M907 2127h0M853 2229h0M858 2229h0M870 2228h0M874 2229h0M852 2244h0M873 2244h0M884 2244h0M880 2259h0M865 2264h0M884 2269h0M879 2298h0M882 2299h0M887 2297h0M895 2295h0M787 2464h0M792 2464h0M583 2688h0M580 2692h0M583 2700h0M597 2699h0"/>
<path stroke="#10fae6" d="M500 1905h0M490 1910h5M750 1920h10M760 1925h5M485 1930h0M770 1930h0M770 1935h5M765 1940h5M805 1945h15M810 1950h15M755 1955h0M810 1955h15M755 1960h0M815 1960h5M755 1965h0M820 1965h0M755 1970h0M760 1980h0M760 1985h0M765 1990h0M775 2005h0M880 2005h0M870 2010h15M870 2015h15M885 2020h0M865 2025h0M885 2025h0M860 2030h0M890 2030h0M890 2035h0M890 2040h0M890 2045h0M890 2050h0M890 2055h0M890 2060h0M890 2065h0M890 2070h0M885 2090h0M895 2130h0M900 2195h0M890 2260h0M875 2265h0M885 2265h0M900 2265h0M910 2265h0M920 2270h0M860 2275h0M865 2280h0M865 2285h0M195 2500h5M180 2505h0M200 2505h0M690 2640h0M690 2645h0M690 2650h0M680 2655h5M675 2660h5M670 2665h5M660 2670h5M650 2675h5M570 2695h15M520 2750h0M635 2680h0M693 2639h0M864 2296h0M866 2286h0M865 2285h0M863 2274h0M901 2195h0M901 2162h0M900 2159h0M894 2127h0M893 2124h0M886 2083h0M890 2075h0M890 2072h0M892 2052h0M891 2043h0M879 2004h0M876 2004h0M825 1967h0M824 1962h0M822 1960h0M829 1954h0M767 1926h0M767 1925h0M760 1920h0M748 1919h0M732 1929h0M726 1930h0M720 1931h0M692 1911h0M683 1906h0M674 1911h0M535 1914h0M522 1907h0M515 1904h0M501 1905h0M484 1932h0M509 2755h0M519 2751h0M525 2746h0M865 2019h0M862 2023h0M863 2023h0M840 2047h0M808 2040h0M802 2032h0M796 2027h0M787 2019h0M778 2009h0M774 2002h0M769 1992h0M765 1988h0M763 1984h0M760 1981h0M758 1973h0M756 1962h0M755 1959h0M767 1943h0M772 1941h0M743 1961h0M744 1964h0M508 1906h0M511 1904h0M516 1908h0M524 1908h0M526 1910h0M504 1904h0M206 2496h0M175 2504h0M180 2507h0M188 2508h0M192 2507h0M300 2357h0M343 2290h0M458 2011h0M625 1923h0M904 2124h0M911 2130h0M883 2209h0M891 2209h0M910 2211h0M913 2212h0M862 2243h0M870 2243h0M878 2244h0M896 2270h0M903 2270h0M908 2268h0M915 2269h0M919 2269h0M925 2270h0M921 2259h0M905 2259h0M901 2260h0M897 2259h0M867 2272h0M872 2268h0M892 2267h0M905 2125h0M909 2126h0M789 2434h0M781 2466h0M757 2533h0M763 2532h0M784 2465h0M569 2693h0M566 2696h0M568 2700h0M586 2699h0"/>
<path stroke="#19ffde" d="M680 1910h10M495 1915h0M530 1915h0M675 1915h0M750 1925h5M745 1930h20M720 1935h20M755 1935h10M740 1940h0M750 1940h10M745 1945h10M745 1950h10M745 1955h5M750 1960h0M750 1965h0M750 1970h0M750 1975h5M755 1980h0M755 1985h0M760 1990h0M765 1995h0M770 2000h0M770 2005h0M465 2010h0M775 2010h0M780 2015h0M785 2020h0M870 2020h10M790 2025h0M870 2025h10M865 2030h20M800 2035h0M860 2035h25M800 2040h5M855 2040h10M875 2040h10M805 2045h5M850 2045h5M880 2045h5M880 2050h5M885 2055h0M885 2060h0M885 2065h0M885 2070h0M885 2075h0M885 2080h0M885 2085h0M880 2090h0M880 2095h0M890 2125h0M895 2135h0M895 2140h0M895 2145h0M890 2200h5M895 2260h5M865 2265h5M880 2265h0M890 2265h0M915 2265h0M915 2270h0M865 2290h0M865 2295h0M860 2300h0M860 2305h0M855 2310h0M830 2355h0M190 2495h0M200 2495h5M180 2500h5M205 2500h0M185 2505h0M680 2645h5M675 2650h10M670 2655h5M665 2660h5M660 2665h5M650 2670h5M635 2675h10M510 2750h5M620 2678h0M632 2676h0M646 2675h0M688 2638h0M831 2355h0M833 2354h0M828 2351h0M847 2316h0M849 2314h0M863 2294h0M853 2270h0M850 2269h0M879 2204h0M881 2204h0M891 2203h0M899 2182h0M900 2178h0M901 2170h0M899 2154h0M895 2140h0M895 2136h0M884 2117h0M883 2091h0M883 2086h0M886 2077h0M747 1929h0M743 1929h0M739 1930h0M714 1931h0M711 1930h0M707 1928h0M699 1920h0M678 1910h0M527 1912h0M492 1917h0M491 1919h0M489 1936h0M466 2005h0M464 2011h0M465 2017h0M497 2756h0M507 2752h0M519 2746h0M517 2745h0M854 2041h0M850 2045h0M842 2046h0M829 2051h0M798 2041h0M802 2043h0M810 2046h0M815 2050h0M814 2050h0M811 2045h0M804 2036h0M787 2021h0M780 2014h0M755 1951h0M756 1944h0M762 1939h0M764 1939h0M718 1936h0M726 1937h0M730 1937h0M735 1942h0M742 1942h0M744 1947h0M744 1951h0M748 1968h0M747 1975h0M747 1977h0M531 1918h0M496 1917h0M499 1911h0M202 2494h0M190 2493h0M179 2498h0M196 2504h0M238 2466h0M242 2469h0M260 2469h0M266 2468h0M287 2433h0M293 2434h0M311 2355h0M346 2289h0M352 2294h0M860 2214h0M863 2215h0M886 2211h0M899 2214h0M915 2261h0M913 2259h0M887 2258h0M885 2262h0M873 2262h0M867 2268h0M880 2268h0M900 2126h0M571 2690h0M577 2702h0"/>
<path stroke="#21ffd6" d="M680 1915h10M495 1920h0M530 1920h0M675 1920h0M690 1920h0M490 1925h5M530 1925h0M695 1925h5M490 1930h0M700 1930h5M490 1935h0M705 1935h10M745 1935h5M745 1940h0M750 1980h0M745 1985h5M745 1990h10M750 1995h10M755 2000h10M760 2005h5M765 2010h5M465 2015h0M770 2015h5M775 2020h5M780 2025h5M785 2030h10M790 2035h5M790 2040h5M870 2040h0M860 2045h15M840 2050h35M830 2055h50M865 2060h15M870 2065h10M870 2070h10M875 2075h5M875 2080h5M875 2085h5M875 2090h0M875 2095h0M885 2120h0M885 2125h0M885 2130h5M890 2135h0M890 2140h0M890 2145h0M895 2150h0M895 2155h0M895 2160h0M895 2165h0M895 2170h0M895 2175h0M895 2180h0M895 2185h0M895 2190h0M890 2195h5M865 2200h20M840 2265h0M360 2270h0M850 2270h0M855 2275h0M860 2280h0M860 2285h0M860 2290h0M860 2295h0M855 2305h0M850 2310h0M845 2315h0M830 2360h0M830 2370h0M195 2495h0M175 2500h0M190 2500h0M190 2505h5M685 2635h0M675 2640h10M665 2645h10M660 2650h10M655 2655h10M655 2660h5M650 2665h5M640 2670h5M625 2675h5M505 2750h0M613 2678h0M624 2676h0M689 2631h0M828 2380h0M832 2370h0M832 2365h0M833 2360h0M853 2311h0M847 2269h0M828 2245h0M827 2240h0M846 2202h0M848 2202h0M866 2203h0M873 2203h0M888 2201h0M896 2190h0M895 2188h0M895 2148h0M882 2116h0M878 2101h0M875 2096h0M700 1925h0M692 1919h0M665 1925h0M657 1928h0M643 1933h0M622 1940h0M532 1925h0M531 1921h0M489 1937h0M485 1973h0M469 2002h0M361 2271h0M326 2395h0M493 2756h0M507 2744h0M832 2052h0M776 2038h0M780 2040h0M785 2038h0M793 2041h0M713 1936h0M745 1985h0M742 1988h0M712 1955h0M712 1936h0M526 1923h0M497 1927h0M496 1921h0M887 2138h0M203 2505h0M209 2501h0M197 2492h0M185 2496h0M174 2502h0M222 2470h0M244 2464h0M250 2464h0M255 2466h0M297 2435h0M869 2210h0M870 2213h0M879 2214h0M898 2211h0M904 2210h0M919 2212h0"/>
<path stroke="#29ffce" d="M680 1920h5M670 1925h20M495 1930h0M530 1930h0M655 1930h5M685 1930h10M495 1935h5M645 1935h0M495 1940h0M705 1940h0M710 1955h0M710 1960h0M490 1965h0M485 1975h0M730 1985h0M735 1990h5M735 1995h10M740 2000h10M470 2005h0M740 2005h15M745 2010h15M750 2015h15M470 2020h0M755 2020h15M760 2025h15M765 2030h15M770 2035h15M765 2040h0M830 2060h30M825 2065h40M800 2070h65M830 2075h40M835 2080h35M845 2085h25M855 2090h15M865 2095h5M870 2100h0M870 2105h0M870 2110h0M875 2115h0M875 2120h5M875 2125h5M885 2135h0M890 2150h0M885 2155h5M890 2160h0M890 2165h0M890 2170h0M890 2175h0M890 2180h0M890 2185h0M885 2190h5M875 2195h10M850 2200h10M825 2240h0M825 2245h0M835 2265h0M845 2270h0M845 2275h5M850 2280h5M855 2285h0M855 2290h0M855 2295h0M850 2300h5M850 2305h0M845 2310h0M840 2315h0M835 2320h0M830 2365h0M825 2380h0M730 2580h0M680 2630h5M670 2635h10M660 2640h10M655 2645h5M650 2650h5M645 2655h5M640 2660h10M635 2665h10M625 2670h10M615 2675h5M500 2745h0M500 2750h0M495 2755h0M590 2681h0M594 2680h0M607 2677h0M687 2629h0M689 2623h0M696 2611h0M732 2578h0M824 2383h0M827 2377h0M828 2360h0M831 2324h0M836 2318h0M841 2315h0M841 2266h0M834 2261h0M829 2255h0M827 2249h0M825 2232h0M825 2227h0M824 2221h0M853 2200h0M858 2201h0M876 2114h0M873 2110h0M870 2102h0M674 1922h0M670 1925h0M647 1933h0M637 1936h0M534 1935h0M495 1941h0M493 1956h0M487 1969h0M486 1971h0M485 1978h0M475 1999h0M468 2018h0M470 2023h0M363 2274h0M485 2758h0M489 2756h0M503 2744h0M501 2744h0M829 2059h0M826 2062h0M824 2068h0M818 2068h0M813 2064h0M807 2068h0M801 2070h0M797 2070h0M780 2065h0M772 2039h0M737 1986h0M728 1983h0M724 1979h0M715 1969h0M713 1963h0M710 1962h0M709 1949h0M708 1951h0M687 1933h0M689 1931h0M692 1932h0M700 1933h0M704 1937h0M704 1942h0M709 1942h0M529 1926h0M500 1931h0M812 2070h0M821 2071h0M827 2072h0M830 2076h0M836 2078h0M837 2084h0M845 2089h0M847 2090h0M877 2127h0M882 2131h0M887 2144h0M890 2152h0M885 2153h0M874 2127h0M225 2466h0M230 2467h0M253 2464h0M307 2356h0M359 2290h0"/>
<path stroke="#31ffc5" d="M665 1930h15M530 1935h0M650 1935h25M500 1940h5M630 1940h5M500 1945h0M625 1945h0M500 1950h0M705 1955h0M495 1960h0M705 1960h0M710 1965h0M490 1970h0M710 1970h0M715 1975h0M485 1980h0M720 1980h0M485 1985h0M725 1985h0M730 1990h0M730 1995h0M475 2000h0M730 2000h5M735 2005h0M470 2010h0M735 2010h5M470 2015h0M735 2015h10M740 2020h10M745 2025h10M750 2030h10M750 2035h15M755 2040h5M780 2070h15M795 2075h5M850 2090h0M855 2095h5M815 2100h0M850 2100h15M825 2105h5M845 2105h20M845 2110h20M855 2115h15M860 2120h10M860 2125h0M860 2140h0M865 2150h0M870 2155h10M875 2160h10M875 2165h10M875 2170h10M875 2175h10M875 2180h10M870 2185h15M865 2190h15M850 2195h20M825 2210h0M820 2220h0M820 2225h0M820 2230h0M820 2235h0M820 2240h0M820 2245h0M820 2250h5M825 2255h0M825 2260h5M830 2265h0M365 2270h0M835 2270h5M835 2275h5M840 2280h5M840 2285h10M845 2290h5M845 2295h5M845 2300h0M840 2305h5M840 2310h0M835 2315h0M830 2320h0M825 2325h0M825 2360h0M825 2365h0M825 2370h0M825 2375h0M820 2380h0M820 2385h0M815 2390h0M730 2575h0M725 2580h0M690 2615h0M680 2625h5M670 2630h5M660 2635h5M655 2640h0M645 2645h5M640 2650h5M635 2655h5M630 2660h5M625 2665h5M615 2670h5M600 2675h10M495 2745h0M495 2750h0M490 2755h0M552 2701h0M584 2680h0M600 2676h0M691 2617h0M697 2607h0M716 2584h0M732 2574h0M733 2571h0M736 2562h0M813 2393h0M816 2388h0M821 2359h0M818 2330h0M822 2329h0M827 2323h0M828 2262h0M823 2215h0M824 2211h0M828 2205h0M841 2198h0M656 1932h0M632 1939h0M626 1942h0M536 1945h0M535 1940h0M533 1936h0M499 1947h0M499 1954h0M492 1961h0M484 1985h0M482 1990h0M480 1995h0M475 2025h0M381 2239h0M367 2266h0M328 2397h0M179 2748h0M789 2070h0M779 2067h0M774 2068h0M758 2054h0M758 2050h0M759 2046h0M762 2040h0M729 1986h0M717 1977h0M701 1954h0M694 1956h0M694 1957h0M675 1939h0M673 1938h0M681 1935h0M529 1935h0M524 1937h0M517 1939h0M512 1940h0M508 1942h0M502 1939h0M803 2075h0M806 2074h0M849 2097h0M850 2099h0M847 2106h0M842 2109h0M834 2108h0M830 2105h0M827 2101h0M817 2099h0M812 2098h0M811 2093h0M807 2089h0M882 2154h0M873 2155h0M867 2152h0M865 2148h0M864 2146h0M862 2137h0M861 2123h0M864 2123h0M868 2121h0M302 2434h0M314 2355h0M319 2356h0M361 2292h0M371 2297h0"/>
<path stroke="#3affbd" d="M520 1940h10M640 1940h30M505 1945h15M530 1945h5M630 1945h0M665 1945h10M505 1950h0M535 1950h0M620 1950h0M675 1950h0M500 1955h5M500 1960h0M685 1960h15M495 1965h0M700 1965h5M495 1970h0M705 1970h0M490 1975h0M710 1975h0M490 1980h0M715 1980h0M715 1985h5M485 1990h0M720 1990h5M725 1995h0M480 2000h0M725 2000h0M475 2005h0M725 2005h5M475 2010h0M725 2010h5M475 2015h0M725 2015h5M475 2020h0M725 2020h10M730 2025h10M735 2030h10M735 2035h10M740 2040h10M745 2045h10M750 2050h5M750 2055h5M755 2060h0M760 2065h0M765 2070h10M775 2075h15M790 2080h10M795 2085h5M800 2090h5M800 2095h5M800 2100h10M805 2105h15M810 2110h30M815 2115h35M825 2120h30M835 2125h20M840 2130h15M845 2135h10M800 2140h25M845 2140h10M830 2145h0M850 2145h10M835 2150h0M850 2150h10M855 2155h10M855 2160h15M855 2165h15M855 2170h15M855 2175h15M850 2180h20M845 2185h20M840 2190h20M835 2195h10M825 2205h0M820 2210h0M815 2215h5M810 2220h5M810 2225h5M800 2230h15M385 2235h0M800 2235h15M800 2240h15M800 2245h15M805 2250h10M805 2255h15M810 2260h10M815 2265h10M820 2270h10M825 2275h5M825 2280h10M830 2285h5M830 2290h10M830 2295h10M830 2300h10M830 2305h5M830 2310h5M830 2315h0M825 2320h0M820 2325h0M820 2365h0M820 2370h0M820 2375h0M815 2385h0M810 2390h0M330 2395h0M325 2425h0M730 2570h0M720 2580h0M695 2605h0M690 2610h0M680 2620h5M670 2625h5M660 2630h5M650 2635h5M645 2640h5M640 2645h0M630 2650h5M625 2655h5M620 2660h5M615 2665h5M605 2670h5M595 2675h0M550 2700h0M490 2750h0M485 2755h0M551 2700h0M580 2681h0M694 2603h0M725 2579h0M734 2554h0M732 2546h0M803 2402h0M808 2397h0M818 2359h0M831 2199h0M834 2198h0M622 1946h0M621 1950h0M543 1962h0M537 1953h0M384 2234h0M323 2430h0M297 2458h0M175 2741h0M482 2755h0M492 2745h0M767 2068h0M763 2063h0M759 2058h0M687 1959h0M683 1956h0M679 1951h0M678 1950h0M800 2079h0M800 2085h0M856 2136h0M858 2129h0M799 2144h0M803 2144h0M811 2141h0M815 2142h0M818 2142h0M825 2143h0M826 2146h0M837 2154h0M823 2167h0M818 2167h0M304 2435h0M309 2438h0M323 2353h0M328 2356h0M365 2292h0M374 2295h0M377 2296h0"/>
<path stroke="#42ffb5" d="M525 1945h0M635 1945h25M510 1950h20M625 1950h5M645 1950h25M510 1955h5M535 1955h0M620 1955h0M660 1955h15M505 1960h5M540 1960h0M670 1960h10M500 1965h5M540 1965h0M680 1965h15M500 1970h0M690 1970h10M495 1975h5M695 1975h10M495 1980h0M700 1980h10M490 1985h5M705 1985h5M490 1990h0M710 1990h5M485 1995h0M710 1995h10M485 2000h0M715 2000h5M480 2005h0M715 2005h5M480 2010h0M715 2010h5M480 2015h0M720 2015h0M480 2020h0M720 2020h0M480 2025h0M720 2025h5M720 2030h10M720 2035h10M725 2040h10M725 2045h15M730 2050h15M735 2055h10M735 2060h15M740 2065h15M750 2070h10M755 2075h15M760 2080h25M765 2085h25M770 2090h25M770 2095h25M770 2100h25M770 2105h30M765 2110h40M765 2115h45M765 2120h55M765 2125h65M765 2130h70M770 2135h70M775 2140h20M830 2140h10M775 2145h5M835 2145h10M840 2150h5M840 2155h10M845 2160h5M840 2165h10M810 2170h40M820 2175h30M825 2180h20M825 2185h15M825 2190h10M820 2195h10M815 2200h10M810 2205h10M805 2210h10M800 2215h10M795 2220h10M785 2225h20M785 2230h10M785 2235h10M785 2240h10M785 2245h10M785 2250h15M785 2255h15M790 2260h15M795 2265h15M805 2270h10M805 2275h15M810 2280h10M815 2285h10M815 2290h10M820 2295h5M820 2300h5M820 2305h5M820 2310h5M820 2315h5M815 2320h5M815 2325h0M810 2330h0M810 2360h0M810 2365h5M815 2370h0M815 2375h0M810 2380h5M810 2385h0M805 2395h0M330 2400h0M800 2400h0M325 2430h0M730 2550h0M730 2555h0M730 2560h0M730 2565h0M725 2575h0M715 2580h0M690 2605h0M680 2615h5M670 2620h5M655 2625h10M650 2630h5M640 2635h5M635 2640h5M630 2645h5M620 2650h5M615 2655h5M610 2660h5M605 2665h5M595 2670h5M585 2675h5M555 2695h0M490 2745h0M485 2750h0M480 2755h0M540 2706h0M572 2681h0M708 2583h0M718 2580h0M733 2556h0M781 2446h0M797 2407h0M804 2397h0M807 2358h0M807 2358h0M812 2331h0M614 1958h0M615 1959h0M608 1962h0M539 1957h0M483 2026h0M485 2029h0M472 2112h0M471 2118h0M389 2232h0M369 2277h0M337 2388h0M327 2426h0M305 2455h0M302 2456h0M174 2539h0M177 2744h0M473 2757h0M489 2746h0M783 2257h0M787 2258h0M793 2262h0M798 2269h0M799 2268h0M803 2276h0M709 2010h0M708 2011h0M714 2010h0M718 2020h0M717 2026h0M720 2030h0M792 2140h0M836 2152h0M840 2162h0M838 2164h0M837 2165h0M827 2169h0M812 2169h0M805 2169h0M799 2165h0M795 2164h0M780 2148h0M782 2148h0M785 2143h0M313 2438h0M335 2353h0M343 2354h0M350 2359h0"/>
<path stroke="#4affad" d="M635 1950h5M520 1955h10M625 1955h30M515 1960h20M615 1960h5M640 1960h25M510 1965h15M535 1965h0M610 1965h0M655 1965h20M505 1970h10M540 1970h0M665 1970h20M505 1975h5M545 1975h0M670 1975h20M500 1980h10M675 1980h20M500 1985h5M675 1985h25M495 1990h10M655 1990h0M685 1990h20M490 1995h10M690 1995h15M490 2000h5M690 2000h20M485 2005h5M695 2005h15M485 2010h0M485 2015h0M485 2020h0M485 2025h0M705 2040h15M710 2045h10M715 2050h10M715 2055h15M715 2060h15M720 2065h15M725 2070h20M730 2075h20M735 2080h20M740 2085h20M745 2090h20M750 2095h15M755 2100h10M755 2105h10M755 2110h5M475 2115h0M755 2115h5M755 2120h5M755 2125h5M755 2130h5M760 2135h5M760 2140h10M765 2145h5M770 2150h0M790 2170h15M800 2175h15M805 2180h15M810 2185h10M805 2190h15M805 2195h10M805 2200h5M800 2205h5M795 2210h5M790 2215h5M780 2220h10M780 2225h0M775 2230h5M775 2235h5M385 2240h0M775 2240h5M775 2245h5M775 2250h5M775 2255h5M370 2270h0M370 2275h0M800 2280h5M785 2285h25M800 2290h10M805 2295h10M805 2300h10M805 2305h10M810 2310h5M810 2315h5M805 2320h5M805 2325h5M805 2330h0M800 2335h5M800 2340h0M800 2345h0M800 2350h0M800 2355h0M805 2360h0M805 2365h0M805 2370h5M805 2375h5M805 2380h0M805 2385h0M805 2390h0M800 2395h0M795 2405h0M300 2460h0M725 2565h0M720 2570h5M715 2575h5M710 2580h0M690 2600h0M680 2610h5M670 2615h5M655 2620h10M645 2625h5M635 2630h10M630 2635h5M625 2640h5M615 2645h10M610 2650h5M605 2655h5M600 2660h5M590 2665h10M585 2670h5M575 2675h5M555 2690h0M550 2695h0M545 2700h0M540 2705h0M485 2745h0M480 2750h0M475 2755h0M545 2701h0M554 2691h0M555 2691h0M559 2684h0M568 2679h0M692 2597h0M695 2591h0M703 2583h0M727 2543h0M778 2448h0M782 2434h0M803 2352h0M800 2347h0M800 2343h0M802 2337h0M806 2333h0M605 1969h0M599 1973h0M548 1978h0M545 1975h0M542 1969h0M489 2031h0M491 2067h0M480 2107h0M476 2111h0M473 2124h0M459 2160h0M454 2164h0M388 2235h0M385 2244h0M375 2264h0M373 2267h0M371 2278h0M341 2388h0M335 2393h0M328 2420h0M312 2449h0M297 2462h0M289 2466h0M180 2533h0M173 2572h0M174 2583h0M174 2664h0M175 2671h0M179 2743h0M178 2739h0M659 1991h0M662 1988h0M670 1987h0M674 1990h0M680 1990h0M683 1992h0M686 1996h0M684 2000h0M685 2008h0M685 2014h0M773 2255h0M778 2257h0M798 2281h0M795 2283h0M788 2283h0M783 2281h0M512 1994h0M697 2010h0M700 2006h0M714 2037h0M714 2037h0M704 2038h0M694 2019h0M788 2166h0M771 2149h0M342 2358h0M359 2361h0"/>
<path stroke="#52ffa5" d="M625 1960h10M530 1965h0M615 1965h35M520 1970h15M605 1970h0M640 1970h20M515 1975h25M650 1975h15M515 1980h10M545 1980h0M650 1980h20M510 1985h5M650 1985h20M510 1990h0M645 1990h5M505 1995h0M500 2000h0M495 2005h5M690 2005h0M490 2010h10M690 2010h0M490 2015h5M690 2015h0M490 2020h5M690 2020h0M490 2025h0M685 2025h5M490 2030h0M690 2030h0M495 2040h0M695 2040h5M495 2045h0M695 2045h10M695 2050h15M695 2055h15M705 2060h5M705 2065h10M705 2070h15M705 2075h20M705 2080h25M715 2085h20M725 2090h15M735 2095h10M740 2100h10M745 2105h5M480 2110h0M745 2110h5M750 2115h0M475 2120h0M750 2120h0M475 2125h0M750 2125h0M750 2130h0M750 2135h5M755 2140h0M760 2145h0M760 2150h5M765 2155h0M780 2170h5M785 2175h10M790 2180h10M795 2185h10M795 2190h5M795 2195h5M795 2200h5M790 2205h5M785 2210h5M780 2215h5M775 2220h0M775 2225h0M395 2230h0M770 2230h0M390 2235h0M770 2235h0M770 2240h0M770 2245h0M770 2250h0M770 2255h0M375 2270h0M375 2280h0M775 2285h5M785 2290h10M790 2295h10M790 2300h10M795 2305h5M795 2310h10M795 2315h10M795 2320h5M795 2325h5M795 2330h5M795 2335h0M795 2340h0M795 2345h0M795 2350h0M795 2355h0M795 2360h5M795 2365h5M795 2370h5M795 2375h5M795 2380h5M795 2385h5M340 2390h0M795 2390h5M335 2395h0M795 2395h0M795 2400h0M790 2405h0M330 2420h0M780 2425h0M780 2430h0M325 2435h0M310 2455h0M295 2465h0M285 2470h0M180 2535h0M720 2535h0M725 2545h0M725 2550h0M720 2555h5M720 2560h5M715 2565h5M710 2570h5M705 2575h5M700 2580h5M695 2585h0M690 2595h0M685 2600h0M680 2605h5M670 2610h5M655 2615h10M645 2620h5M635 2625h5M625 2630h5M620 2635h5M615 2640h5M605 2645h5M600 2650h5M595 2655h5M590 2660h5M580 2665h5M575 2670h5M570 2675h0M560 2680h0M555 2685h0M550 2690h0M480 2745h0M475 2750h0M470 2755h0M530 2708h0M537 2704h0M564 2678h0M696 2587h0M700 2581h0M724 2540h0M741 2499h0M766 2460h0M772 2455h0M772 2453h0M780 2437h0M782 2421h0M786 2411h0M790 2407h0M603 1975h0M544 1982h0M494 2038h0M492 2038h0M494 2046h0M493 2062h0M474 2127h0M476 2132h0M460 2160h0M406 2223h0M394 2230h0M332 2405h0M331 2413h0M183 2533h0M177 2545h0M176 2547h0M177 2555h0M175 2560h0M176 2565h0M177 2588h0M181 2599h0M178 2653h0M178 2654h0M177 2667h0M175 2678h0M174 2689h0M174 2693h0M174 2717h0M176 2729h0M177 2731h0M457 2759h0M460 2759h0M469 2754h0M482 2743h0M648 1990h0M687 2018h0M682 2022h0M679 2022h0M769 2260h0M775 2283h0M503 2000h0M508 1995h0M516 1988h0M518 1984h0M527 1985h0M502 2009h0M698 2037h0M695 2033h0M692 2031h0M694 2027h0M693 2011h0M700 2055h0M701 2062h0M700 2065h0M701 2074h0M702 2075h0M781 2168h0M777 2167h0M765 2156h0M318 2439h0M351 2359h0M360 2358h0M373 2366h0"/>
<path stroke="#5aff9c" d="M610 1970h25M605 1975h40M530 1980h10M635 1980h10M535 1985h5M640 1985h5M540 1990h0M640 1990h0M505 2010h0M500 2015h10M500 2020h5M495 2025h5M675 2025h5M495 2030h0M680 2030h5M495 2035h0M685 2035h5M685 2040h5M685 2045h5M685 2050h5M495 2065h0M495 2070h0M705 2085h5M700 2090h20M710 2095h20M725 2100h10M735 2105h5M740 2110h0M480 2115h0M740 2115h5M745 2120h0M745 2125h0M745 2130h0M745 2135h0M750 2140h0M750 2145h5M755 2150h0M760 2155h0M465 2160h0M765 2160h0M765 2165h5M770 2170h5M775 2175h5M780 2180h5M445 2185h0M785 2185h5M785 2190h5M785 2195h5M785 2200h5M780 2205h5M780 2210h0M775 2215h0M770 2220h0M765 2225h5M765 2230h0M395 2235h0M765 2235h0M390 2240h0M765 2240h0M765 2245h0M765 2250h0M765 2255h0M375 2275h0M770 2285h0M775 2290h5M775 2295h10M780 2300h5M780 2305h10M785 2310h5M785 2315h5M785 2320h5M785 2325h5M785 2330h5M785 2335h5M785 2340h5M790 2345h0M790 2350h0M790 2355h0M790 2360h0M790 2365h0M790 2370h0M790 2375h0M790 2380h0M790 2385h0M790 2390h0M790 2395h0M335 2400h0M785 2400h5M785 2405h0M785 2410h0M780 2415h0M780 2420h0M330 2425h0M775 2440h0M775 2445h0M770 2450h0M770 2455h0M305 2460h0M300 2465h0M740 2495h0M730 2510h0M725 2515h0M180 2540h0M715 2540h5M180 2545h0M715 2545h5M715 2550h5M710 2555h5M710 2560h5M705 2565h5M700 2570h5M700 2575h0M695 2580h0M690 2585h0M180 2590h0M685 2590h5M685 2595h0M680 2600h0M670 2605h5M655 2610h10M640 2615h10M630 2620h10M625 2625h5M615 2630h5M610 2635h5M605 2640h5M595 2645h5M590 2650h5M180 2655h0M585 2655h5M580 2660h5M570 2665h5M565 2670h5M560 2675h5M555 2680h0M550 2685h0M545 2695h0M540 2700h0M535 2705h0M475 2745h0M470 2750h0M460 2755h5M517 2714h0M520 2712h0M720 2536h0M718 2526h0M720 2523h0M723 2518h0M727 2513h0M736 2503h0M750 2479h0M779 2427h0M783 2415h0M594 1984h0M572 1991h0M497 2049h0M496 2059h0M496 2071h0M389 2246h0M379 2285h0M334 2400h0M326 2436h0M321 2444h0M315 2450h0M191 2529h0M189 2529h0M176 2577h0M181 2592h0M183 2648h0M176 2684h0M175 2711h0M177 2721h0M180 2732h0M176 2724h0M638 1996h0M641 1992h0M645 1991h0M674 2026h0M666 2025h0M663 2026h0M654 2025h0M762 2259h0M769 2284h0M528 1983h0M536 1987h0M540 1989h0M512 2016h0M507 2013h0M691 2054h0M704 2085h0M701 2085h0M772 2166h0M769 2165h0M763 2160h0"/>
<path stroke="#63ff94" d="M605 1980h25M600 1985h0M620 1985h15M585 1990h0M630 1990h5M540 1995h0M570 1995h0M630 1995h5M540 2000h0M630 2000h0M525 2015h0M510 2020h5M505 2025h5M500 2030h5M660 2030h15M500 2035h5M670 2035h10M500 2040h0M675 2040h5M500 2045h0M675 2045h5M500 2050h0M675 2050h5M500 2055h0M680 2055h0M680 2060h0M680 2065h0M680 2070h0M680 2075h0M685 2085h0M690 2090h5M695 2095h10M700 2100h20M705 2105h25M485 2110h0M730 2110h5M485 2115h0M735 2115h0M480 2120h0M735 2120h5M480 2125h0M740 2125h0M480 2130h0M740 2130h0M480 2135h0M740 2135h0M745 2140h0M745 2145h0M750 2150h0M755 2155h0M470 2160h0M755 2160h5M460 2165h0M760 2165h0M765 2170h0M765 2175h5M770 2180h5M770 2185h10M775 2190h5M775 2195h5M775 2200h5M770 2205h5M770 2210h5M765 2215h5M765 2220h0M760 2225h0M400 2230h0M760 2230h0M760 2235h0M760 2240h0M390 2245h0M755 2245h5M755 2250h5M755 2255h5M755 2260h0M755 2265h0M380 2270h0M755 2270h0M380 2280h0M760 2280h0M380 2285h0M760 2285h5M765 2290h5M765 2295h5M770 2300h5M770 2305h5M770 2310h10M775 2315h5M775 2320h5M775 2325h5M775 2330h5M775 2335h5M775 2340h5M780 2345h5M780 2350h5M780 2355h5M780 2360h5M780 2365h5M780 2370h5M780 2375h5M780 2380h5M780 2385h5M345 2390h0M780 2390h5M340 2395h0M780 2395h5M780 2400h0M335 2405h0M780 2405h0M780 2410h0M775 2415h0M775 2420h0M775 2425h0M330 2430h0M775 2430h0M775 2435h0M770 2440h0M770 2445h0M765 2455h0M760 2460h0M290 2470h5M750 2475h0M745 2485h0M740 2490h0M735 2500h0M730 2505h0M725 2510h0M720 2515h0M720 2520h0M715 2525h0M190 2530h0M715 2530h0M185 2535h0M710 2535h5M705 2540h5M705 2545h5M180 2550h0M700 2550h10M180 2555h0M700 2555h5M180 2560h0M695 2560h10M180 2565h0M695 2565h5M180 2570h0M690 2570h5M180 2575h0M690 2575h5M180 2580h0M685 2580h5M180 2585h0M685 2585h0M680 2590h0M675 2595h5M665 2600h10M650 2605h15M640 2610h10M630 2615h5M620 2620h5M615 2625h5M605 2630h5M600 2635h5M590 2640h10M585 2645h5M580 2650h5M575 2655h5M180 2660h0M570 2660h5M180 2665h0M565 2665h0M560 2670h0M555 2675h0M550 2680h0M545 2685h0M545 2690h0M540 2695h0M535 2700h0M530 2705h0M520 2710h0M470 2745h0M465 2750h0M455 2755h0M724 2513h0M731 2505h0M740 2492h0M741 2489h0M746 2481h0M753 2473h0M757 2466h0M759 2461h0M761 2462h0M602 1981h0M585 1990h0M580 1991h0M569 1993h0M561 1996h0M543 1995h0M545 1990h0M498 2077h0M488 2108h0M482 2139h0M474 2157h0M470 2160h0M455 2173h0M451 2176h0M451 2178h0M445 2186h0M444 2187h0M412 2222h0M402 2229h0M382 2266h0M379 2283h0M383 2290h0M282 2473h0M274 2477h0M185 2601h0M186 2645h0M176 2701h0M179 2726h0M178 2717h0M177 2707h0M474 2743h0M632 1997h0M657 2027h0M647 2023h0M762 2281h0M759 2281h0M759 2274h0M759 2268h0M757 2265h0M537 1999h0M537 1998h0M534 2007h0M528 2011h0M524 2015h0M518 2016h0M681 2057h0M683 2057h0M692 2086h0M689 2088h0M683 2081h0M683 2079h0M680 2073h0M679 2067h0M678 2060h0M365 2361h0"/>
<path stroke="#6bff8c" d="M605 1985h10M590 1990h35M575 1995h10M620 1995h5M545 2000h0M555 2000h5M625 2000h0M540 2005h5M535 2010h0M530 2015h0M520 2020h5M635 2020h0M515 2025h5M640 2025h5M510 2030h5M650 2030h5M510 2035h0M660 2035h5M505 2040h5M665 2040h5M505 2045h0M665 2045h5M505 2050h0M665 2050h5M505 2055h0M670 2055h5M500 2060h0M670 2060h5M500 2065h0M670 2065h5M500 2070h0M675 2070h0M500 2075h0M675 2075h0M675 2080h5M680 2085h0M685 2090h0M685 2095h5M690 2100h5M695 2105h5M490 2110h0M705 2110h20M490 2115h0M725 2115h5M485 2120h0M730 2120h0M485 2125h0M735 2125h0M485 2130h0M735 2130h0M485 2135h0M485 2140h0M740 2140h0M485 2145h0M745 2150h0M750 2155h0M475 2160h0M750 2160h0M465 2165h0M755 2165h0M460 2170h0M755 2170h5M455 2175h0M760 2175h0M450 2180h0M760 2180h5M765 2185h0M445 2190h0M765 2190h5M765 2195h5M765 2200h5M765 2205h0M760 2210h5M760 2215h0M755 2220h5M410 2225h0M755 2225h0M405 2230h0M755 2230h0M400 2235h0M750 2235h5M395 2240h0M750 2240h5M395 2245h0M750 2245h0M750 2250h0M750 2255h0M750 2260h0M750 2265h0M750 2270h0M380 2275h0M750 2275h5M755 2280h0M755 2285h0M385 2290h0M755 2290h5M760 2295h0M760 2300h5M760 2305h5M760 2310h5M765 2315h5M765 2320h5M765 2325h5M765 2330h5M765 2335h5M765 2340h5M770 2345h5M770 2350h5M770 2355h5M770 2360h5M770 2365h5M770 2370h5M770 2375h5M770 2380h5M770 2385h5M770 2390h5M770 2395h5M770 2400h5M770 2405h5M335 2410h0M770 2410h5M335 2415h0M770 2415h0M770 2420h0M770 2425h0M770 2430h0M765 2435h5M325 2440h0M765 2440h0M765 2445h0M760 2450h5M315 2455h0M760 2455h0M310 2460h0M755 2460h0M305 2465h0M750 2465h5M300 2470h0M750 2470h0M280 2475h5M745 2475h0M745 2480h0M740 2485h0M735 2490h0M735 2495h0M730 2500h0M725 2505h0M720 2510h0M715 2515h0M710 2520h5M705 2525h5M700 2530h10M190 2535h0M700 2535h5M185 2540h0M695 2540h5M185 2545h0M695 2545h5M185 2550h0M690 2550h5M690 2555h5M685 2560h5M685 2565h5M680 2570h5M680 2575h5M675 2580h5M670 2585h10M185 2590h0M665 2590h10M185 2595h0M655 2595h15M645 2600h15M635 2605h10M625 2610h10M615 2615h10M610 2620h5M600 2625h10M595 2630h5M590 2635h5M580 2640h5M575 2645h5M185 2650h0M570 2650h5M185 2655h0M565 2655h5M560 2660h5M555 2665h5M180 2670h0M550 2670h5M180 2675h0M545 2675h5M180 2680h0M545 2680h0M180 2685h0M540 2685h0M540 2690h0M535 2695h0M530 2700h0M525 2705h0M515 2710h0M465 2745h0M460 2750h0M450 2755h0M496 2719h0M503 2716h0M518 2710h0M595 1989h0M563 1996h0M552 2000h0M553 2001h0M544 1999h0M500 2078h0M501 2089h0M493 2110h0M482 2144h0M483 2151h0M482 2151h0M477 2156h0M388 2263h0M387 2294h0M354 2386h0M349 2389h0M335 2413h0M324 2443h0M280 2475h0M271 2479h0M196 2530h0M189 2642h0M178 2705h0M448 2757h0M451 2754h0M468 2744h0M627 2001h0M642 2023h0M640 2022h0M632 2017h0M531 2012h0"/>
<path stroke="#73ff84" d="M590 1995h25M565 2000h55M550 2005h15M615 2005h5M540 2010h10M620 2010h0M535 2015h5M625 2015h0M530 2020h5M630 2020h0M525 2025h5M635 2025h0M520 2030h5M640 2030h5M515 2035h5M645 2035h10M515 2040h5M650 2040h10M510 2045h5M655 2045h5M510 2050h5M655 2050h5M510 2055h0M660 2055h5M505 2060h5M660 2060h5M505 2065h0M665 2065h0M505 2070h0M665 2070h5M505 2075h0M665 2075h5M505 2080h0M670 2080h0M505 2085h0M670 2085h5M505 2090h0M675 2090h5M680 2095h0M685 2100h0M500 2105h0M690 2105h0M495 2110h0M695 2110h5M495 2115h0M705 2115h15M490 2120h0M720 2120h5M490 2125h0M725 2125h5M490 2130h0M730 2130h0M490 2135h0M735 2135h0M490 2140h0M735 2140h0M490 2145h0M740 2145h0M485 2150h0M740 2150h0M485 2155h0M745 2155h0M480 2160h0M745 2160h0M470 2165h5M750 2165h0M465 2170h0M750 2170h0M460 2175h0M750 2175h5M455 2180h0M755 2180h0M450 2185h0M755 2185h5M755 2190h5M445 2195h0M755 2195h5M755 2200h5M755 2205h5M755 2210h0M750 2215h5M750 2220h0M415 2225h0M750 2225h0M410 2230h0M745 2230h5M405 2235h0M745 2235h0M400 2240h0M745 2240h0M745 2245h0M745 2250h0M745 2255h0M745 2260h0M745 2265h0M385 2270h0M745 2270h0M385 2275h0M745 2275h0M385 2280h0M745 2280h5M385 2285h0M745 2285h5M750 2290h0M750 2295h5M750 2300h5M750 2305h5M750 2310h5M755 2315h5M755 2320h5M755 2325h5M755 2330h5M755 2335h5M755 2340h5M760 2345h5M760 2350h5M760 2355h5M760 2360h5M760 2365h5M760 2370h5M760 2375h5M760 2380h5M760 2385h5M350 2390h0M760 2390h5M345 2395h0M760 2395h5M340 2400h0M760 2400h5M760 2405h5M760 2410h5M760 2415h5M335 2420h0M760 2420h5M760 2425h5M760 2430h5M330 2435h0M755 2435h5M755 2440h5M755 2445h5M320 2450h0M750 2450h5M750 2455h5M745 2460h5M310 2465h0M745 2465h0M740 2470h5M290 2475h0M740 2475h0M735 2480h5M735 2485h0M730 2490h0M725 2495h5M720 2500h5M715 2505h5M710 2510h5M705 2515h5M700 2520h5M695 2525h5M690 2530h5M195 2535h0M690 2535h5M190 2540h0M685 2540h5M685 2545h5M680 2550h5M185 2555h0M680 2555h5M185 2560h0M675 2560h5M185 2565h0M675 2565h5M185 2570h0M670 2570h5M185 2575h0M670 2575h5M185 2580h0M665 2580h5M185 2585h0M655 2585h10M650 2590h10M640 2595h10M190 2600h0M630 2600h10M620 2605h10M615 2610h5M605 2615h5M600 2620h5M590 2625h5M585 2630h5M580 2635h5M570 2640h5M190 2645h0M565 2645h5M560 2650h5M555 2655h5M185 2660h0M550 2660h5M185 2665h0M545 2665h5M545 2670h0M540 2675h0M535 2680h5M535 2685h0M180 2690h0M535 2690h0M180 2695h0M530 2695h0M180 2700h0M525 2700h0M520 2705h0M510 2710h0M500 2715h0M485 2720h0M460 2745h0M455 2750h0M445 2755h0M476 2726h0M508 2713h0M503 2088h0M504 2094h0M499 2107h0M446 2192h0M443 2198h0M441 2202h0M428 2217h0M422 2221h0M417 2223h0M394 2251h0M193 2605h0M180 2710h0M433 2759h0M440 2756h0M465 2742h0M463 2744h0M624 2007h0M625 2012h0M188 2567h0"/>
<path stroke="#7bff7b" d="M570 2005h40M555 2010h20M600 2010h15M545 2015h15M615 2015h5M540 2020h10M620 2020h5M535 2025h10M625 2025h5M530 2030h10M630 2030h5M525 2035h10M635 2035h5M525 2040h5M640 2040h5M520 2045h5M645 2045h5M520 2050h0M645 2050h5M515 2055h5M650 2055h5M515 2060h0M650 2060h5M510 2065h5M655 2065h5M510 2070h0M655 2070h5M510 2075h0M660 2075h0M510 2080h0M660 2080h5M510 2085h0M665 2085h0M665 2090h5M505 2095h0M670 2095h5M505 2100h0M675 2100h5M505 2105h0M680 2105h5M500 2110h0M685 2110h5M500 2115h0M695 2115h5M495 2120h0M710 2120h5M495 2125h0M720 2125h0M495 2130h0M725 2130h0M495 2135h0M730 2135h0M495 2140h0M730 2140h0M495 2145h0M735 2145h0M490 2150h5M735 2150h0M490 2155h0M740 2155h0M485 2160h0M740 2160h0M480 2165h5M745 2165h0M470 2170h5M745 2170h0M465 2175h5M745 2175h0M460 2180h0M750 2180h0M455 2185h0M750 2185h0M450 2190h0M750 2190h0M750 2195h0M445 2200h0M750 2200h0M750 2205h0M745 2210h5M745 2215h0M425 2220h0M745 2220h0M420 2225h0M740 2225h5M415 2230h0M740 2230h0M410 2235h0M740 2235h0M405 2240h0M740 2240h0M400 2245h0M740 2245h0M400 2250h0M740 2250h0M735 2255h5M735 2260h5M735 2265h5M390 2270h0M735 2270h5M390 2275h0M735 2275h5M740 2280h0M740 2285h0M390 2290h0M740 2290h5M390 2295h0M740 2295h5M740 2300h5M740 2305h5M740 2310h5M745 2315h5M745 2320h5M745 2325h5M745 2330h5M745 2335h5M745 2340h5M745 2345h10M750 2350h5M750 2355h5M750 2360h5M750 2365h5M750 2370h5M750 2375h5M750 2380h5M750 2385h5M355 2390h0M750 2390h5M750 2395h5M750 2400h5M340 2405h0M750 2405h5M750 2410h5M750 2415h5M750 2420h5M335 2425h0M745 2425h10M745 2430h10M745 2435h5M745 2440h5M325 2445h0M740 2445h10M740 2450h5M735 2455h10M315 2460h0M735 2460h5M730 2465h10M305 2470h0M730 2470h5M295 2475h5M725 2475h10M275 2480h0M725 2480h5M720 2485h10M715 2490h10M710 2495h10M705 2500h10M700 2505h10M695 2510h10M695 2515h5M690 2520h5M685 2525h5M680 2530h5M200 2535h0M680 2535h5M195 2540h0M675 2540h5M190 2545h0M675 2545h5M190 2550h0M670 2550h5M670 2555h5M665 2560h5M665 2565h5M190 2570h0M660 2570h5M190 2575h0M655 2575h10M190 2580h0M650 2580h10M190 2585h0M640 2585h10M190 2590h0M635 2590h10M190 2595h0M625 2595h10M615 2600h10M195 2605h0M610 2605h5M600 2610h10M595 2615h5M585 2620h10M580 2625h5M575 2630h5M565 2635h10M560 2640h5M555 2645h5M190 2650h0M550 2650h5M545 2655h5M540 2660h5M540 2665h0M185 2670h0M535 2670h5M185 2675h0M535 2675h0M185 2680h0M530 2680h0M530 2685h0M525 2690h5M525 2695h0M520 2700h0M515 2705h0M505 2710h0M495 2715h0M480 2720h0M455 2745h0M450 2750h0M440 2755h0M482 2720h0M485 2719h0M489 2717h0M503 2105h0M435 2215h0M397 2252h0M393 2264h0M391 2297h0M261 2490h0M208 2531h0M196 2609h0M194 2640h0M181 2702h0M623 2014h0M193 2554h0M189 2558h0M190 2553h0"/>
<path stroke="#84ff73" d="M580 2010h15M565 2015h45M555 2020h25M595 2020h20M550 2025h15M610 2025h10M545 2030h10M615 2030h10M540 2035h5M625 2035h5M535 2040h5M630 2040h5M530 2045h5M630 2045h10M525 2050h10M635 2050h5M525 2055h5M640 2055h5M520 2060h5M640 2060h5M520 2065h5M645 2065h5M515 2070h5M645 2070h5M515 2075h5M650 2075h5M515 2080h0M655 2080h0M515 2085h0M655 2085h5M510 2090h0M660 2090h0M510 2095h0M660 2095h5M510 2100h0M665 2100h5M510 2105h0M670 2105h5M505 2110h0M675 2110h5M505 2115h0M685 2115h5M500 2120h5M695 2120h10M500 2125h5M710 2125h5M500 2130h5M720 2130h0M500 2135h5M725 2135h0M500 2140h5M725 2140h0M500 2145h0M730 2145h0M500 2150h0M495 2155h5M735 2155h0M490 2160h5M735 2160h0M490 2165h5M740 2165h0M480 2170h10M740 2170h0M475 2175h10M740 2175h0M465 2180h10M740 2180h5M460 2185h5M745 2185h0M455 2190h0M745 2190h0M450 2195h0M740 2195h5M740 2200h5M445 2205h0M740 2205h5M740 2210h0M740 2215h0M430 2220h0M735 2220h5M425 2225h0M735 2225h0M420 2230h0M735 2230h0M415 2235h0M735 2235h0M410 2240h0M730 2240h5M405 2245h0M730 2245h5M405 2250h0M730 2250h5M730 2255h0M730 2260h0M395 2265h0M730 2265h0M395 2270h0M730 2270h0M730 2275h0M390 2280h0M730 2280h5M390 2285h0M730 2285h5M730 2290h5M730 2295h5M395 2300h0M730 2300h5M730 2305h5M730 2310h5M735 2315h5M735 2320h5M735 2325h5M395 2330h0M735 2330h5M735 2335h5M735 2340h5M735 2345h5M735 2350h10M735 2355h10M740 2360h5M740 2365h5M740 2370h5M375 2375h0M740 2375h5M740 2380h5M365 2385h0M740 2385h5M740 2390h5M350 2395h0M740 2395h5M345 2400h0M740 2400h5M740 2405h5M340 2410h0M740 2410h5M735 2415h10M735 2420h10M735 2425h5M735 2430h5M730 2435h10M730 2440h10M725 2445h10M725 2450h10M320 2455h0M725 2455h5M720 2460h10M720 2465h5M310 2470h0M715 2470h10M305 2475h0M715 2475h5M280 2480h5M710 2480h10M705 2485h10M700 2490h10M700 2495h5M695 2500h5M690 2505h5M685 2510h5M680 2515h10M680 2520h5M675 2525h5M670 2530h5M205 2535h0M670 2535h5M200 2540h0M665 2540h5M195 2545h0M665 2545h5M195 2550h5M660 2550h5M660 2555h5M655 2560h5M650 2565h10M645 2570h10M195 2575h0M640 2575h10M195 2580h0M635 2580h10M625 2585h10M195 2590h0M620 2590h10M195 2595h0M610 2595h10M195 2600h0M605 2600h5M600 2605h5M200 2610h0M590 2610h5M585 2615h5M575 2620h5M570 2625h5M200 2630h0M565 2630h5M555 2635h5M195 2640h0M550 2640h5M195 2645h0M545 2645h5M540 2650h5M190 2655h0M540 2655h0M190 2660h0M535 2660h0M530 2665h5M530 2670h0M525 2675h5M525 2680h0M185 2685h0M525 2685h0M185 2690h0M520 2690h0M185 2695h0M520 2695h0M515 2700h0M510 2705h0M495 2710h5M485 2715h5M475 2720h0M470 2725h0M455 2740h0M450 2745h0M440 2750h5M430 2755h5M457 2740h0M471 2727h0M442 2207h0M438 2214h0M399 2259h0M397 2265h0M394 2301h0M393 2341h0M391 2346h0M373 2376h0M368 2383h0M362 2387h0M217 2530h0M208 2532h0M200 2610h0M201 2628h0M199 2634h0M424 2756h0M430 2756h0M200 2552h0M193 2572h0"/>
<path stroke="#8cff6b" d="M585 2020h5M570 2025h35M560 2030h50M550 2035h20M605 2035h15M545 2040h15M610 2040h15M540 2045h10M620 2045h5M540 2050h5M620 2050h10M535 2055h5M625 2055h10M530 2060h5M630 2060h5M530 2065h5M635 2065h5M525 2070h5M635 2070h5M525 2075h0M640 2075h5M520 2080h5M645 2080h5M520 2085h0M645 2085h5M515 2090h5M650 2090h5M515 2095h0M655 2095h0M515 2100h0M655 2100h5M515 2105h0M660 2105h5M510 2110h0M665 2110h5M510 2115h0M675 2115h5M510 2120h0M680 2120h10M510 2125h0M700 2125h5M510 2130h0M715 2130h0M510 2135h0M720 2135h0M510 2140h0M505 2145h5M725 2145h0M505 2150h0M730 2150h0M505 2155h0M730 2155h0M500 2160h5M730 2160h0M500 2165h0M735 2165h0M495 2170h5M735 2170h0M490 2175h5M735 2175h0M480 2180h15M735 2180h0M470 2185h10M735 2185h5M460 2190h5M735 2190h5M455 2195h5M735 2195h0M450 2200h5M735 2200h0M450 2205h0M735 2205h0M445 2210h0M735 2210h0M440 2215h0M730 2215h5M435 2220h0M730 2220h0M430 2225h0M730 2225h0M425 2230h0M725 2230h5M420 2235h0M725 2235h5M415 2240h0M725 2240h0M410 2245h0M725 2245h0M410 2250h0M725 2250h0M405 2255h0M725 2255h0M725 2260h0M400 2265h0M720 2265h5M400 2270h0M720 2270h5M395 2275h0M720 2275h5M395 2280h0M720 2280h5M395 2285h0M720 2285h5M395 2290h0M720 2290h5M395 2295h0M720 2295h5M720 2300h5M720 2305h5M720 2310h5M725 2315h5M725 2320h5M725 2325h5M725 2330h5M395 2335h0M725 2335h5M725 2340h5M725 2345h5M725 2350h5M725 2355h5M725 2360h10M725 2365h10M380 2370h0M725 2370h10M725 2375h10M725 2380h10M725 2385h10M360 2390h0M725 2390h10M725 2395h10M725 2400h10M725 2405h10M725 2410h10M340 2415h0M725 2415h5M720 2420h10M720 2425h10M335 2430h0M720 2430h10M715 2435h10M330 2440h0M715 2440h10M715 2445h5M325 2450h0M710 2450h10M710 2455h10M320 2460h0M705 2460h10M315 2465h0M705 2465h10M700 2470h10M700 2475h10M290 2480h5M695 2480h10M270 2485h0M695 2485h5M265 2490h0M690 2490h5M685 2495h10M680 2500h10M680 2505h5M675 2510h5M670 2515h5M670 2520h5M665 2525h5M660 2530h5M210 2535h0M660 2535h5M205 2540h0M655 2540h5M200 2545h5M655 2545h5M205 2550h0M650 2550h5M645 2555h10M640 2560h10M640 2565h5M635 2570h5M200 2575h0M625 2575h10M200 2580h0M620 2580h10M195 2585h0M615 2585h5M605 2590h10M600 2595h5M200 2600h0M595 2600h5M200 2605h0M585 2605h10M580 2610h5M575 2615h5M565 2620h5M560 2625h5M550 2630h10M200 2635h0M545 2635h5M540 2640h5M535 2645h5M195 2650h0M535 2650h0M530 2655h5M525 2660h5M190 2665h0M525 2665h0M190 2670h0M525 2670h0M190 2675h0M520 2675h0M520 2680h0M520 2685h0M515 2690h0M515 2695h0M185 2700h0M510 2700h0M500 2705h5M490 2710h0M480 2715h0M470 2720h0M465 2725h0M455 2735h0M450 2740h0M445 2745h0M435 2750h0M425 2755h0M456 2733h0M459 2730h0M464 2726h0M397 2307h0M398 2313h0M396 2331h0M395 2334h0M390 2350h0M389 2356h0M387 2358h0M381 2368h0M378 2373h0M369 2383h0M268 2486h0M266 2488h0M413 2758h0M204 2551h0M200 2574h0M199 2575h0"/>
<path stroke="#94ff63" d="M575 2035h25M565 2040h40M555 2045h60M550 2050h15M605 2050h10M545 2055h10M610 2055h10M540 2060h10M615 2060h10M540 2065h5M620 2065h10M535 2070h5M625 2070h5M530 2075h5M630 2075h5M530 2080h5M635 2080h5M525 2085h5M635 2085h5M525 2090h5M640 2090h5M520 2095h5M645 2095h5M520 2100h5M650 2100h0M520 2105h0M650 2105h5M515 2110h5M655 2110h5M515 2115h5M660 2115h10M515 2120h0M670 2120h5M515 2125h0M680 2125h15M515 2130h0M705 2130h5M515 2135h0M715 2135h0M515 2140h0M720 2140h0M515 2145h0M720 2145h0M510 2150h0M725 2150h0M510 2155h0M725 2155h0M510 2160h0M505 2165h5M730 2165h0M505 2170h0M730 2170h0M500 2175h5M730 2175h0M500 2180h5M730 2180h0M485 2185h20M730 2185h0M470 2190h30M730 2190h0M465 2195h0M730 2195h0M460 2200h0M730 2200h0M455 2205h0M725 2205h5M450 2210h0M725 2210h5M445 2215h0M725 2215h0M440 2220h5M725 2220h0M435 2225h5M720 2225h5M430 2230h5M720 2230h0M425 2235h5M720 2235h0M420 2240h5M720 2240h0M415 2245h5M715 2245h5M415 2250h0M715 2250h5M410 2255h0M715 2255h5M405 2260h0M715 2260h5M405 2265h0M715 2265h0M715 2270h0M400 2275h0M715 2275h0M400 2280h0M715 2280h0M400 2285h0M715 2285h0M715 2290h0M710 2295h5M710 2300h5M710 2305h5M710 2310h5M710 2315h10M710 2320h10M710 2325h10M715 2330h5M715 2335h5M395 2340h0M715 2340h5M395 2345h0M715 2345h5M715 2350h5M715 2355h5M715 2360h5M385 2365h0M715 2365h5M710 2370h10M710 2375h10M375 2380h0M710 2380h10M370 2385h0M710 2385h10M710 2390h10M355 2395h0M710 2395h10M350 2400h0M710 2400h10M345 2405h0M710 2405h10M710 2410h10M705 2415h15M340 2420h0M705 2420h10M705 2425h10M705 2430h10M705 2435h5M700 2440h10M700 2445h10M700 2450h5M695 2455h10M695 2460h5M690 2465h10M315 2470h0M690 2470h5M310 2475h0M685 2475h10M300 2480h0M685 2480h5M275 2485h5M680 2485h10M675 2490h10M675 2495h5M670 2500h5M665 2505h10M665 2510h5M660 2515h5M655 2520h10M655 2525h5M650 2530h5M215 2535h0M645 2535h10M210 2540h0M645 2540h5M210 2545h0M640 2545h10M210 2550h0M635 2550h10M635 2555h5M630 2560h5M625 2565h10M620 2570h10M205 2575h0M615 2575h5M610 2580h5M200 2585h0M600 2585h10M200 2590h0M595 2590h5M200 2595h0M590 2595h5M580 2600h10M205 2605h0M575 2605h5M205 2610h0M570 2610h5M205 2615h0M560 2615h10M205 2620h0M555 2620h5M205 2625h0M550 2625h5M205 2630h0M540 2630h5M535 2635h5M200 2640h0M530 2640h5M200 2645h0M530 2645h0M525 2650h5M195 2655h0M520 2655h5M195 2660h0M520 2660h0M195 2665h0M520 2665h0M515 2670h5M515 2675h0M190 2680h0M515 2680h0M190 2685h0M510 2685h5M510 2690h0M505 2695h5M500 2700h5M490 2705h5M480 2710h5M470 2715h5M465 2720h0M460 2725h0M455 2730h0M450 2735h0M445 2740h0M435 2745h5M430 2750h0M415 2755h5M399 2319h0M398 2322h0M386 2362h0M219 2534h0M204 2613h0M206 2617h0M204 2621h0M398 2756h0M401 2756h0M408 2756h0M415 2755h0M209 2551h0M208 2572h0"/>
<path stroke="#9cff5a" d="M570 2050h30M560 2055h45M555 2060h20M590 2060h20M550 2065h10M605 2065h10M545 2070h10M610 2070h10M540 2075h10M615 2075h10M540 2080h5M620 2080h10M535 2085h5M625 2085h5M535 2090h0M630 2090h5M530 2095h5M635 2095h5M530 2100h0M640 2100h5M525 2105h5M640 2105h5M525 2110h0M645 2110h5M525 2115h0M650 2115h5M520 2120h5M655 2120h10M520 2125h0M660 2125h15M520 2130h0M670 2130h30M520 2135h0M705 2135h5M520 2140h0M715 2140h0M520 2145h0M515 2150h0M720 2150h0M515 2155h0M515 2160h0M725 2160h0M515 2165h0M725 2165h0M510 2170h5M725 2170h0M510 2175h0M725 2175h0M510 2180h0M725 2180h0M510 2185h0M725 2185h0M505 2190h5M725 2190h0M470 2195h40M720 2195h5M465 2200h5M720 2200h5M460 2205h0M720 2205h0M455 2210h0M720 2210h0M450 2215h5M715 2215h5M450 2220h0M715 2220h5M445 2225h0M715 2225h0M440 2230h5M715 2230h0M435 2235h5M710 2235h5M430 2240h0M710 2240h5M425 2245h0M710 2245h0M420 2250h0M710 2250h0M415 2255h0M705 2255h5M410 2260h5M705 2260h5M410 2265h0M705 2265h5M405 2270h0M705 2270h5M405 2275h0M705 2275h5M405 2280h0M705 2280h5M705 2285h5M400 2290h0M705 2290h5M400 2295h0M705 2295h0M400 2300h0M700 2300h5M400 2305h0M700 2305h5M400 2310h0M700 2310h5M400 2315h0M700 2315h5M400 2320h0M700 2320h5M400 2325h0M700 2325h5M700 2330h10M700 2335h10M700 2340h10M700 2345h10M700 2350h10M700 2355h10M390 2360h0M700 2360h10M695 2365h15M695 2370h10M380 2375h0M695 2375h10M695 2380h10M695 2385h10M365 2390h0M695 2390h10M360 2395h0M695 2395h10M690 2400h15M690 2405h15M345 2410h0M690 2410h15M690 2415h10M690 2420h10M340 2425h0M690 2425h10M690 2430h10M335 2435h0M685 2435h15M685 2440h10M330 2445h0M685 2445h10M685 2450h10M325 2455h0M680 2455h10M680 2460h10M320 2465h0M680 2465h5M675 2470h10M675 2475h5M305 2480h0M670 2480h10M285 2485h10M670 2485h5M270 2490h0M665 2490h5M265 2495h0M660 2495h10M655 2500h10M655 2505h5M650 2510h10M645 2515h10M645 2520h5M640 2525h10M635 2530h10M635 2535h5M215 2540h0M630 2540h10M215 2545h0M630 2545h5M625 2550h5M620 2555h10M615 2560h10M615 2565h5M610 2570h5M210 2575h0M600 2575h10M205 2580h0M595 2580h10M205 2585h0M590 2585h5M205 2590h0M585 2590h5M205 2595h0M580 2595h5M205 2600h0M570 2600h5M565 2605h5M555 2610h10M550 2615h5M540 2620h10M535 2625h10M530 2630h5M205 2635h0M525 2635h5M205 2640h0M520 2640h5M520 2645h5M200 2650h0M515 2650h5M200 2655h0M515 2655h0M510 2660h5M510 2665h5M195 2670h0M510 2670h0M195 2675h0M505 2675h5M505 2680h5M505 2685h0M190 2690h0M500 2690h5M190 2695h0M495 2695h5M190 2700h0M485 2700h10M475 2705h10M470 2710h5M460 2715h5M455 2720h5M450 2725h5M445 2730h5M440 2735h5M435 2740h5M430 2745h0M420 2750h5M395 2755h15M262 2496h0M224 2536h0M190 2701h0M214 2551h0M214 2570h0"/>
<path stroke="#a5ff52" d="M580 2060h5M565 2065h35M560 2070h45M555 2075h15M595 2075h15M550 2080h10M605 2080h10M545 2085h10M615 2085h5M540 2090h10M620 2090h5M540 2095h5M625 2095h5M535 2100h5M630 2100h5M535 2105h5M630 2105h5M530 2110h5M635 2110h5M530 2115h5M640 2115h5M530 2120h0M645 2120h5M525 2125h5M650 2125h5M525 2130h5M655 2130h10M525 2135h0M660 2135h40M525 2140h0M670 2140h5M710 2140h0M525 2145h0M715 2145h0M520 2150h0M715 2150h0M520 2155h0M720 2155h0M520 2160h0M720 2160h0M520 2165h0M720 2165h0M520 2170h0M720 2170h0M515 2175h5M720 2175h0M515 2180h0M720 2180h0M515 2185h0M715 2185h5M515 2190h0M715 2190h5M515 2195h0M715 2195h0M475 2200h35M710 2200h5M465 2205h5M500 2205h5M710 2205h5M460 2210h5M710 2210h5M460 2215h0M710 2215h0M455 2220h0M705 2220h5M450 2225h5M705 2225h5M450 2230h0M705 2230h5M445 2235h5M705 2235h0M435 2240h5M700 2240h5M430 2245h5M700 2245h5M425 2250h5M700 2250h5M420 2255h5M700 2255h0M420 2260h0M700 2260h0M415 2265h0M695 2265h5M410 2270h0M695 2270h5M410 2275h0M695 2275h5M695 2280h5M405 2285h0M695 2285h5M405 2290h0M695 2290h5M405 2295h0M690 2295h10M690 2300h5M690 2305h5M690 2310h5M690 2315h5M690 2320h5M690 2325h5M400 2330h0M685 2330h10M400 2335h0M685 2335h10M685 2340h10M685 2345h10M395 2350h0M685 2350h10M395 2355h0M680 2355h15M680 2360h15M680 2365h10M385 2370h0M675 2370h15M675 2375h15M675 2380h15M375 2385h0M670 2385h20M370 2390h0M670 2390h20M670 2395h20M355 2400h0M670 2400h15M350 2405h0M670 2405h15M670 2410h15M345 2415h0M670 2415h15M670 2420h15M670 2425h15M670 2430h15M670 2435h10M670 2440h10M670 2445h10M330 2450h0M665 2450h15M665 2455h10M325 2460h0M665 2460h10M665 2465h10M320 2470h0M660 2470h10M315 2475h0M660 2475h10M310 2480h0M655 2480h10M300 2485h0M655 2485h10M275 2490h0M650 2490h10M645 2495h10M640 2500h10M640 2505h10M635 2510h10M630 2515h10M630 2520h10M625 2525h10M625 2530h5M620 2535h10M220 2540h5M620 2540h5M220 2545h0M615 2545h10M615 2550h5M610 2555h5M605 2560h5M600 2565h10M595 2570h10M215 2575h0M590 2575h5M210 2580h0M585 2580h5M210 2585h0M580 2585h5M210 2590h0M575 2590h5M210 2595h0M565 2595h10M210 2600h0M560 2600h5M210 2605h0M550 2605h10M210 2610h0M545 2610h5M210 2615h0M535 2615h10M210 2620h0M530 2620h5M210 2625h0M525 2625h5M210 2630h0M520 2630h5M515 2635h5M510 2640h5M205 2645h0M510 2645h5M205 2650h0M510 2650h0M505 2655h5M200 2660h0M505 2660h0M200 2665h0M500 2665h5M500 2670h5M500 2675h0M195 2680h0M495 2680h5M195 2685h0M495 2685h5M490 2690h5M480 2695h10M475 2700h5M465 2705h5M460 2710h5M455 2715h0M450 2720h0M445 2725h0M440 2730h0M435 2735h0M430 2740h0M420 2745h5M405 2750h10M385 2755h5M386 2754h0M392 2754h0M221 2551h0"/>
<path stroke="#adff4a" d="M575 2075h15M565 2080h35M560 2085h50M555 2090h10M600 2090h15M550 2095h10M610 2095h10M545 2100h10M615 2100h10M545 2105h5M620 2105h5M540 2110h5M625 2110h5M540 2115h0M630 2115h5M535 2120h5M635 2120h5M535 2125h0M640 2125h5M535 2130h0M645 2130h5M530 2135h0M650 2135h5M530 2140h0M655 2140h10M680 2140h25M530 2145h0M660 2145h25M710 2145h0M525 2150h0M665 2150h15M710 2150h0M525 2155h0M665 2155h15M715 2155h0M525 2160h0M670 2160h10M715 2160h0M525 2165h0M670 2165h10M715 2165h0M525 2170h0M675 2170h0M715 2170h0M525 2175h0M710 2175h5M520 2180h0M710 2180h5M520 2185h0M705 2185h5M520 2190h0M705 2190h5M520 2195h0M705 2195h5M515 2200h5M700 2200h5M475 2205h20M510 2205h5M700 2205h5M470 2210h5M495 2210h15M700 2210h5M465 2215h5M700 2215h5M460 2220h5M695 2220h5M460 2225h0M695 2225h5M455 2230h5M695 2230h5M455 2235h0M695 2235h5M445 2240h5M695 2240h0M440 2245h5M690 2245h5M435 2250h5M690 2250h5M430 2255h0M690 2255h5M425 2260h0M690 2260h5M420 2265h0M685 2265h5M415 2270h0M685 2270h5M415 2275h0M685 2275h5M410 2280h0M685 2280h5M410 2285h0M685 2285h5M680 2290h10M680 2295h5M405 2300h0M680 2300h5M405 2305h0M680 2305h5M405 2310h0M675 2310h10M405 2315h0M675 2315h10M405 2320h0M675 2320h10M670 2325h15M670 2330h10M670 2335h10M400 2340h0M665 2340h15M400 2345h0M665 2345h15M660 2350h20M660 2355h15M655 2360h20M390 2365h0M650 2365h25M645 2370h25M385 2375h0M640 2375h30M380 2380h0M640 2380h30M635 2385h30M635 2390h30M365 2395h0M635 2395h30M360 2400h0M635 2400h30M355 2405h0M635 2405h30M350 2410h0M640 2410h25M640 2415h25M345 2420h0M640 2420h25M640 2425h25M340 2430h0M645 2430h20M645 2435h20M335 2440h0M645 2440h20M645 2445h20M645 2450h15M645 2455h15M645 2460h15M325 2465h0M645 2465h15M640 2470h15M640 2475h15M635 2480h15M305 2485h0M630 2485h20M280 2490h10M630 2490h15M270 2495h0M625 2495h15M265 2500h0M620 2500h15M620 2505h15M620 2510h10M615 2515h10M615 2520h10M615 2525h5M610 2530h10M610 2535h5M605 2540h10M225 2545h0M605 2545h5M600 2550h10M600 2555h5M595 2560h5M590 2565h5M585 2570h5M220 2575h0M580 2575h5M215 2580h0M575 2580h5M215 2585h0M570 2585h5M215 2590h0M560 2590h10M215 2595h0M555 2595h5M215 2600h0M545 2600h10M215 2605h0M540 2605h5M215 2610h0M530 2610h10M215 2615h0M520 2615h10M215 2620h0M515 2620h10M215 2625h0M510 2625h10M510 2630h5M210 2635h0M505 2635h5M210 2640h0M500 2640h5M210 2645h0M500 2645h5M500 2650h5M205 2655h0M495 2655h5M205 2660h0M495 2660h5M495 2665h0M200 2670h0M490 2670h5M200 2675h0M490 2675h5M485 2680h5M480 2685h10M195 2690h0M475 2690h10M195 2695h0M470 2695h5M195 2700h0M460 2700h10M195 2705h0M455 2705h5M450 2710h5M445 2715h5M440 2720h5M435 2725h5M430 2730h5M425 2735h5M420 2740h5M410 2745h5M390 2750h10M375 2755h5M227 2540h0M196 2704h0M196 2709h0M211 2755h0M214 2758h0M369 2756h0M371 2756h0M379 2755h0M226 2551h0M220 2573h0"/>
<path stroke="#b5ff42" d="M570 2090h25M565 2095h40M560 2100h50M555 2105h10M605 2105h10M550 2110h10M610 2110h10M545 2115h10M615 2115h10M545 2120h5M620 2120h10M540 2125h5M625 2125h10M540 2130h0M630 2130h10M535 2135h5M635 2135h10M535 2140h0M640 2140h10M535 2145h0M645 2145h10M690 2145h15M530 2150h0M650 2150h10M685 2150h5M705 2150h0M530 2155h0M655 2155h5M685 2155h5M710 2155h0M530 2160h0M660 2160h5M685 2160h5M710 2160h0M530 2165h0M660 2165h5M685 2165h10M705 2165h5M530 2170h0M665 2170h5M680 2170h30M530 2175h0M670 2175h35M525 2180h5M675 2180h30M525 2185h5M680 2185h20M525 2190h0M685 2190h15M525 2195h0M685 2195h15M525 2200h0M690 2200h5M520 2205h5M690 2205h5M480 2210h10M515 2210h5M690 2210h5M475 2215h40M690 2215h5M470 2220h5M685 2220h5M465 2225h5M685 2225h5M465 2230h0M685 2230h5M460 2235h5M685 2235h5M455 2240h5M685 2240h5M450 2245h5M680 2245h5M445 2250h5M680 2250h5M435 2255h5M680 2255h5M430 2260h5M680 2260h5M425 2265h5M675 2265h5M420 2270h5M675 2270h5M420 2275h0M675 2275h5M415 2280h0M670 2280h10M415 2285h0M670 2285h10M410 2290h0M670 2290h5M410 2295h0M665 2295h10M410 2300h0M665 2300h10M665 2305h10M660 2310h10M660 2315h10M655 2320h15M405 2325h0M655 2325h10M405 2330h0M650 2330h15M645 2335h20M645 2340h15M640 2345h20M400 2350h0M635 2350h20M625 2355h30M395 2360h0M620 2360h30M615 2365h30M390 2370h0M615 2370h25M610 2375h25M610 2380h25M380 2385h0M610 2385h20M375 2390h0M610 2390h20M370 2395h0M610 2395h20M615 2400h15M615 2405h15M615 2410h20M350 2415h0M620 2415h15M620 2420h15M620 2425h15M620 2430h20M620 2435h20M620 2440h20M620 2445h20M620 2450h20M330 2455h0M620 2455h20M615 2460h25M615 2465h25M325 2470h0M610 2470h25M320 2475h0M610 2475h25M315 2480h0M605 2480h25M310 2485h0M600 2485h25M295 2490h5M600 2490h25M275 2495h0M600 2495h20M600 2500h15M600 2505h15M600 2510h15M600 2515h10M600 2520h10M600 2525h10M600 2530h5M600 2535h5M595 2540h5M230 2545h0M595 2545h5M590 2550h5M590 2555h5M585 2560h5M580 2565h5M575 2570h5M225 2575h0M570 2575h5M220 2580h5M565 2580h5M220 2585h0M555 2585h10M220 2590h0M550 2590h5M220 2595h0M540 2595h10M220 2600h0M530 2600h10M220 2605h0M520 2605h15M220 2610h0M515 2610h10M220 2615h0M510 2615h5M220 2620h0M505 2620h5M220 2625h0M500 2625h5M215 2630h0M495 2630h10M215 2635h0M495 2635h5M215 2640h0M490 2640h5M490 2645h5M210 2650h0M490 2650h5M210 2655h0M485 2655h5M485 2660h5M205 2665h0M480 2665h10M205 2670h0M480 2670h5M475 2675h10M200 2680h0M470 2680h10M200 2685h0M465 2685h10M460 2690h10M455 2695h10M450 2700h5M445 2705h5M440 2710h5M435 2715h5M430 2720h5M425 2725h5M420 2730h5M415 2735h5M410 2740h5M400 2745h5M380 2750h5M365 2755h5M265 2504h0M233 2544h0M198 2715h0M357 2756h0M363 2754h0M227 2571h0M226 2570h0"/>
<path stroke="#bdff3a" d="M570 2105h30M565 2110h40M560 2115h15M590 2115h20M555 2120h10M605 2120h10M550 2125h10M610 2125h10M545 2130h10M615 2130h10M545 2135h5M625 2135h5M540 2140h5M630 2140h5M540 2145h0M635 2145h5M535 2150h5M640 2150h5M695 2150h5M535 2155h0M645 2155h5M695 2155h10M535 2160h0M650 2160h5M695 2160h10M535 2165h0M655 2165h0M700 2165h0M535 2170h0M660 2170h0M535 2175h0M660 2175h5M535 2180h0M665 2180h5M535 2185h0M670 2185h5M530 2190h5M670 2190h10M530 2195h5M675 2195h5M530 2200h5M675 2200h10M530 2205h0M675 2205h10M525 2210h5M675 2210h10M520 2215h5M675 2215h10M480 2220h40M675 2220h5M475 2225h40M675 2225h5M470 2230h10M675 2230h5M470 2235h5M675 2235h5M465 2240h5M670 2240h10M460 2245h5M670 2245h5M455 2250h5M670 2250h5M445 2255h5M670 2255h5M440 2260h5M665 2260h10M435 2265h0M665 2265h5M430 2270h0M660 2270h10M425 2275h0M660 2275h10M420 2280h0M660 2280h5M655 2285h10M415 2290h0M655 2290h10M650 2295h10M650 2300h10M410 2305h0M645 2305h15M410 2310h0M645 2310h10M640 2315h15M640 2320h10M635 2325h15M630 2330h15M405 2335h0M625 2335h15M405 2340h0M620 2340h20M615 2345h20M610 2350h20M400 2355h0M610 2355h10M605 2360h10M395 2365h0M600 2365h10M600 2370h10M390 2375h0M595 2375h10M385 2380h0M595 2380h10M595 2385h10M600 2390h5M600 2395h5M365 2400h0M600 2400h10M360 2405h0M600 2405h10M355 2410h0M605 2410h5M605 2415h10M605 2420h10M345 2425h0M605 2425h10M605 2430h10M340 2435h0M605 2435h10M605 2440h10M335 2445h0M605 2445h10M605 2450h10M600 2455h15M330 2460h0M595 2460h15M330 2465h0M595 2465h15M590 2470h15M585 2475h20M320 2480h0M580 2480h20M315 2485h0M580 2485h15M305 2490h0M580 2490h15M280 2495h5M585 2495h10M270 2500h0M585 2500h10M590 2505h5M590 2510h5M590 2515h5M590 2520h5M590 2525h5M590 2530h5M590 2535h5M585 2540h5M235 2545h0M585 2545h5M580 2550h5M580 2555h5M575 2560h5M570 2565h5M565 2570h5M230 2575h0M560 2575h5M230 2580h0M550 2580h10M225 2585h0M545 2585h5M225 2590h0M530 2590h15M225 2595h0M520 2595h15M225 2600h0M515 2600h10M225 2605h0M505 2605h10M225 2610h0M500 2610h10M225 2615h0M495 2615h10M225 2620h0M490 2620h10M490 2625h5M220 2630h0M485 2630h5M220 2635h0M485 2635h5M480 2640h5M215 2645h0M480 2645h5M215 2650h0M475 2650h10M475 2655h5M210 2660h0M475 2660h5M470 2665h5M465 2670h10M205 2675h0M465 2675h5M205 2680h0M460 2680h5M455 2685h5M200 2690h0M450 2690h5M200 2695h0M445 2695h5M200 2700h0M440 2700h5M200 2705h0M435 2705h5M200 2710h0M430 2710h5M425 2715h5M420 2720h5M415 2725h5M410 2730h5M405 2735h5M395 2740h10M385 2745h10M370 2750h5M215 2755h0M355 2755h5M242 2540h0M241 2541h0M208 2742h0M351 2756h0M235 2548h0"/>
<path stroke="#c5ff31" d="M580 2115h5M570 2120h30M565 2125h40M560 2130h50M555 2135h10M600 2135h20M550 2140h10M610 2140h15M545 2145h10M615 2145h15M545 2150h5M625 2150h10M540 2155h5M630 2155h10M540 2160h5M635 2160h10M540 2165h5M645 2165h5M540 2170h5M650 2170h5M540 2175h5M655 2175h0M540 2180h5M655 2180h5M540 2185h0M660 2185h5M540 2190h5M660 2190h5M540 2195h5M665 2195h5M540 2200h0M665 2200h5M535 2205h5M665 2205h5M535 2210h5M665 2210h5M530 2215h10M665 2215h5M525 2220h10M665 2220h5M520 2225h10M665 2225h5M485 2230h40M665 2230h5M480 2235h30M660 2235h10M475 2240h10M660 2240h5M470 2245h5M660 2245h5M465 2250h5M655 2250h10M455 2255h10M655 2255h10M450 2260h5M650 2260h10M440 2265h5M650 2265h10M435 2270h5M645 2270h10M430 2275h0M645 2275h10M425 2280h0M645 2280h10M420 2285h0M640 2285h10M420 2290h0M640 2290h10M415 2295h0M635 2295h10M415 2300h0M630 2300h15M630 2305h10M625 2310h15M410 2315h0M625 2315h10M410 2320h0M620 2320h15M410 2325h0M615 2325h15M410 2330h0M615 2330h10M610 2335h10M605 2340h10M405 2345h0M605 2345h5M405 2350h0M600 2350h5M595 2355h10M400 2360h0M595 2360h5M590 2365h5M395 2370h0M590 2370h5M590 2375h0M390 2380h0M590 2380h0M385 2385h0M590 2385h0M380 2390h0M590 2390h5M375 2395h0M590 2395h5M370 2400h0M590 2400h5M365 2405h0M595 2405h0M360 2410h0M595 2410h5M355 2415h0M595 2415h5M350 2420h0M595 2420h5M595 2425h5M595 2430h5M595 2435h5M595 2440h5M595 2445h5M335 2450h0M590 2450h10M585 2455h10M585 2460h5M575 2465h15M330 2470h0M570 2470h15M325 2475h0M570 2475h10M565 2480h10M570 2485h5M310 2490h0M570 2490h5M290 2495h5M575 2495h5M275 2500h0M575 2500h5M580 2505h5M580 2510h5M580 2515h5M580 2520h5M580 2525h5M580 2530h5M580 2535h5M575 2540h5M240 2545h0M575 2545h5M570 2550h5M570 2555h5M565 2560h5M560 2565h5M555 2570h5M235 2575h0M545 2575h10M235 2580h0M535 2580h10M230 2585h0M525 2585h15M230 2590h0M515 2590h10M230 2595h0M505 2595h10M230 2600h0M500 2600h10M230 2605h0M490 2605h10M230 2610h0M485 2610h10M230 2615h0M485 2615h5M230 2620h0M480 2620h5M225 2625h0M475 2625h10M225 2630h0M475 2630h5M225 2635h0M475 2635h5M220 2640h0M470 2640h5M220 2645h0M470 2645h5M465 2650h5M215 2655h0M465 2655h5M215 2660h0M460 2660h10M210 2665h0M460 2665h5M210 2670h0M455 2670h5M450 2675h10M445 2680h10M205 2685h0M440 2685h10M440 2690h5M435 2695h5M430 2700h5M425 2705h5M420 2710h5M415 2715h5M410 2720h5M405 2725h5M400 2730h5M395 2735h5M385 2740h5M375 2745h5M360 2750h5M345 2755h5M266 2509h0M249 2540h0M206 2726h0M210 2742h0M211 2747h0M223 2758h0M339 2757h0M343 2756h0M347 2755h0M239 2547h0M239 2569h0"/>
<path stroke="#ceff29" d="M570 2135h25M565 2140h40M560 2145h50M555 2150h65M550 2155h15M600 2155h25M550 2160h10M610 2160h20M550 2165h10M620 2165h20M550 2170h5M630 2170h15M550 2175h5M645 2175h5M550 2180h5M650 2180h0M545 2185h10M650 2185h5M550 2190h5M655 2190h0M550 2195h5M655 2195h5M545 2200h10M655 2200h5M545 2205h10M655 2205h5M545 2210h10M655 2210h5M545 2215h10M650 2215h10M540 2220h10M650 2220h10M535 2225h15M650 2225h10M530 2230h15M645 2230h15M515 2235h25M645 2235h10M490 2240h40M640 2240h15M480 2245h40M640 2245h15M475 2250h15M640 2250h10M470 2255h10M635 2255h15M460 2260h10M635 2260h10M450 2265h10M630 2265h15M445 2270h5M630 2270h10M435 2275h5M625 2275h15M430 2280h5M625 2280h15M425 2285h5M620 2285h15M425 2290h0M620 2290h15M420 2295h0M615 2295h15M615 2300h10M415 2305h0M610 2305h15M415 2310h0M610 2310h10M605 2315h15M605 2320h10M600 2325h10M600 2330h10M410 2335h0M595 2335h10M410 2340h0M595 2340h5M595 2345h5M590 2350h5M405 2355h0M590 2355h0M585 2360h5M400 2365h0M585 2365h0M585 2370h0M395 2375h0M580 2375h5M580 2380h5M580 2385h5M385 2390h0M585 2390h0M380 2395h0M585 2395h0M375 2400h0M585 2400h0M370 2405h0M585 2405h5M585 2410h5M590 2415h0M590 2420h0M350 2425h0M590 2425h0M345 2430h0M590 2430h0M585 2435h5M340 2440h0M585 2440h5M585 2445h5M580 2450h5M335 2455h0M575 2455h5M335 2460h0M570 2460h10M335 2465h0M565 2465h5M565 2470h0M330 2475h0M560 2475h5M325 2480h0M560 2480h0M320 2485h0M560 2485h5M315 2490h0M565 2490h0M300 2495h5M565 2495h5M280 2500h0M570 2500h0M270 2505h0M570 2505h5M575 2510h0M575 2515h0M575 2520h0M575 2525h0M575 2530h0M570 2535h5M570 2540h0M245 2545h0M565 2545h5M565 2550h0M560 2555h5M555 2560h5M550 2565h5M240 2570h0M540 2570h10M240 2575h0M530 2575h10M240 2580h0M520 2580h10M235 2585h5M510 2585h10M235 2590h0M500 2590h10M235 2595h0M490 2595h10M235 2600h0M485 2600h10M235 2605h0M480 2605h5M235 2610h0M475 2610h5M235 2615h0M470 2615h10M235 2620h0M470 2620h5M230 2625h0M465 2625h5M230 2630h0M465 2630h5M465 2635h5M225 2640h0M460 2640h5M225 2645h0M460 2645h5M220 2650h0M455 2650h5M220 2655h0M455 2655h5M450 2660h5M215 2665h0M450 2665h5M445 2670h5M210 2675h0M440 2675h5M210 2680h0M435 2680h5M430 2685h5M205 2690h0M425 2690h10M205 2695h0M420 2695h10M205 2700h0M415 2700h10M415 2705h5M410 2710h5M205 2715h0M405 2715h5M205 2720h0M400 2720h5M395 2725h5M390 2730h5M380 2735h10M210 2740h0M375 2740h5M365 2745h5M215 2750h0M350 2750h5M220 2755h0M335 2755h5M205 2721h0M208 2731h0M208 2732h0M322 2759h0M329 2757h0M246 2549h0M243 2568h0"/>
<path stroke="#d6ff21" d="M570 2155h25M565 2160h40M565 2165h50M560 2170h65M560 2175h80M560 2180h85M560 2185h85M560 2190h90M560 2195h90M560 2200h90M560 2205h90M560 2210h90M560 2215h85M555 2220h90M555 2225h30M600 2225h45M550 2230h30M605 2230h35M545 2235h25M605 2235h35M535 2240h30M605 2240h30M525 2245h35M605 2245h30M495 2250h55M605 2250h30M485 2255h50M605 2255h25M475 2260h20M605 2260h25M465 2265h10M605 2265h20M455 2270h10M605 2270h20M445 2275h5M600 2275h20M440 2280h0M600 2280h20M435 2285h0M600 2285h15M430 2290h0M600 2290h15M425 2295h0M595 2295h15M420 2300h0M595 2300h15M420 2305h0M595 2305h10M595 2310h10M415 2315h0M595 2315h5M415 2320h0M590 2320h10M415 2325h0M590 2325h5M415 2330h0M590 2330h5M585 2335h5M585 2340h5M410 2345h0M585 2345h5M410 2350h0M585 2350h0M580 2355h5M405 2360h0M580 2360h0M405 2365h0M580 2365h0M400 2370h0M575 2370h5M575 2375h0M395 2380h0M575 2380h0M390 2385h0M575 2385h0M575 2390h5M580 2395h0M580 2400h0M580 2405h0M365 2410h0M580 2410h0M360 2415h0M580 2415h5M355 2420h0M580 2420h5M580 2425h5M580 2430h5M580 2435h0M580 2440h0M575 2445h5M575 2450h0M570 2455h0M565 2460h0M560 2465h0M335 2470h0M560 2470h0M555 2475h0M330 2480h0M555 2480h0M325 2485h0M555 2485h0M320 2490h0M560 2490h0M310 2495h0M560 2495h0M285 2500h10M565 2500h0M275 2505h0M565 2505h0M270 2510h0M565 2510h5M565 2515h5M565 2520h5M565 2525h5M565 2530h5M565 2535h0M560 2540h5M250 2545h0M560 2545h0M555 2550h5M550 2555h5M545 2560h5M535 2565h10M245 2570h0M525 2570h10M245 2575h0M515 2575h10M245 2580h0M505 2580h10M245 2585h0M495 2585h10M240 2590h5M485 2590h10M240 2595h0M480 2595h5M240 2600h0M470 2600h10M240 2605h0M470 2605h5M240 2610h0M465 2610h5M240 2615h0M460 2615h5M240 2620h0M460 2620h5M235 2625h0M460 2625h0M235 2630h0M455 2630h5M230 2635h0M455 2635h5M230 2640h0M450 2640h5M450 2645h5M225 2650h0M450 2650h0M445 2655h5M220 2660h0M440 2660h5M440 2665h5M215 2670h0M435 2670h5M215 2675h0M430 2675h5M425 2680h5M210 2685h0M420 2685h5M415 2690h5M410 2695h5M405 2700h5M205 2705h0M405 2705h5M205 2710h0M400 2710h5M395 2715h5M390 2720h5M385 2725h5M210 2730h0M380 2730h5M210 2735h0M370 2735h5M365 2740h5M215 2745h0M355 2745h5M345 2750h0M330 2755h0M270 2513h0M256 2540h0M222 2755h0M316 2758h0M247 2553h0M247 2565h0M247 2567h0"/>
<path stroke="#deff19" d="M590 2225h5M585 2230h15M575 2235h25M570 2240h30M565 2245h35M555 2250h45M540 2255h60M500 2260h100M480 2265h120M470 2270h130M455 2275h15M545 2275h50M445 2280h10M565 2280h30M440 2285h5M570 2285h25M435 2290h0M575 2290h20M430 2295h0M575 2295h15M425 2300h0M580 2300h10M580 2305h10M420 2310h0M580 2310h10M420 2315h0M580 2315h10M580 2320h5M580 2325h5M580 2330h5M415 2335h0M580 2335h0M415 2340h0M580 2340h0M415 2345h0M575 2345h5M575 2350h5M410 2355h0M575 2355h0M410 2360h0M575 2360h0M570 2365h5M405 2370h0M570 2370h0M400 2375h0M570 2375h0M570 2380h0M395 2385h0M570 2385h0M390 2390h0M570 2390h0M385 2395h0M570 2395h5M380 2400h0M575 2400h0M375 2405h0M575 2405h0M370 2410h0M575 2410h0M365 2415h0M575 2415h0M360 2420h0M575 2420h0M355 2425h0M575 2425h0M350 2430h0M575 2430h0M345 2435h0M575 2435h0M570 2440h5M340 2445h0M570 2445h0M340 2450h0M565 2450h5M340 2455h0M560 2455h5M340 2460h0M560 2460h0M340 2465h0M555 2465h0M550 2470h5M335 2475h0M550 2475h0M550 2480h0M330 2485h0M325 2490h0M555 2490h0M315 2495h0M300 2500h5M560 2500h0M280 2505h0M560 2505h0M275 2510h0M560 2510h0M560 2515h0M560 2520h0M560 2525h0M560 2530h0M555 2535h5M555 2540h0M255 2545h0M550 2545h5M250 2550h0M545 2550h5M250 2555h0M540 2555h5M250 2560h0M530 2560h10M250 2565h0M520 2565h10M250 2570h0M510 2570h10M250 2575h0M500 2575h10M250 2580h0M490 2580h10M250 2585h0M480 2585h10M250 2590h0M470 2590h10M245 2595h5M465 2595h10M245 2600h0M460 2600h5M245 2605h0M460 2605h5M245 2610h0M455 2610h5M245 2615h0M455 2615h0M455 2620h0M240 2625h0M450 2625h5M240 2630h0M450 2630h0M235 2635h0M445 2635h5M235 2640h0M445 2640h0M230 2645h0M440 2645h5M230 2650h0M440 2650h5M225 2655h0M435 2655h5M225 2660h0M430 2660h5M220 2665h0M430 2665h5M220 2670h0M425 2670h5M420 2675h5M215 2680h0M415 2680h5M410 2685h5M210 2690h0M405 2690h5M210 2695h0M400 2695h5M210 2700h0M395 2700h5M395 2705h5M390 2710h5M385 2715h5M380 2720h5M210 2725h0M375 2725h5M370 2730h5M365 2735h0M215 2740h0M355 2740h5M345 2745h5M220 2750h0M335 2750h5M225 2755h0M325 2755h0M249 2556h0"/>
<path stroke="#e6ff10" d="M475 2275h65M460 2280h100M450 2285h10M510 2285h55M440 2290h5M520 2290h50M435 2295h0M535 2295h35M430 2300h0M545 2300h30M425 2305h0M555 2305h20M425 2310h0M560 2310h15M565 2315h10M420 2320h0M565 2320h10M420 2325h0M570 2325h5M420 2330h0M570 2330h5M420 2335h0M570 2335h5M570 2340h5M570 2345h0M415 2350h0M570 2350h0M415 2355h0M570 2355h0M565 2360h5M410 2365h0M565 2365h0M565 2370h0M405 2375h0M565 2375h0M400 2380h0M565 2380h0M565 2385h0M395 2390h0M565 2390h0M390 2395h0M565 2395h0M385 2400h0M565 2400h5M380 2405h0M570 2405h0M375 2410h0M570 2410h0M370 2415h0M570 2415h0M365 2420h0M570 2420h0M360 2425h0M570 2425h0M570 2430h0M570 2435h0M565 2440h0M565 2445h0M560 2450h0M555 2455h0M550 2460h5M550 2465h0M340 2470h0M545 2470h0M340 2475h0M545 2475h0M335 2480h0M545 2480h0M550 2485h0M330 2490h0M550 2490h0M320 2495h0M555 2495h0M310 2500h5M555 2500h0M285 2505h15M555 2505h0M555 2510h0M275 2515h0M555 2515h0M555 2520h0M555 2525h0M550 2530h5M550 2535h0M545 2540h5M260 2545h0M540 2545h5M255 2550h0M535 2550h5M255 2555h0M525 2555h10M255 2560h0M515 2560h10M255 2565h0M505 2565h10M255 2570h0M495 2570h10M255 2575h0M485 2575h10M255 2580h0M475 2580h10M255 2585h0M470 2585h5M255 2590h0M460 2590h5M255 2595h0M455 2595h5M250 2600h0M455 2600h0M250 2605h0M450 2605h5M250 2610h0M450 2610h0M250 2615h0M450 2615h0M245 2620h0M445 2620h5M245 2625h0M445 2625h0M245 2630h0M440 2630h5M240 2635h0M440 2635h0M240 2640h0M435 2640h5M235 2645h0M435 2645h0M430 2650h5M230 2655h0M425 2655h5M425 2660h0M225 2665h0M420 2665h5M415 2670h5M220 2675h0M410 2675h5M405 2680h5M215 2685h0M400 2685h5M215 2690h0M395 2690h5M390 2695h5M390 2700h0M210 2705h0M385 2705h5M210 2710h0M380 2710h5M210 2715h0M375 2715h5M210 2720h0M370 2720h5M365 2725h5M360 2730h5M215 2735h0M355 2735h5M350 2740h0M340 2745h0M330 2750h0M230 2755h0M315 2755h5M269 2532h0M263 2539h0M261 2540h0M236 2757h0M317 2755h0"/>
<path stroke="#efff08" d="M465 2285h40M450 2290h20M480 2290h35M440 2295h10M500 2295h30M435 2300h5M510 2300h30M430 2305h5M515 2305h35M430 2310h0M520 2310h35M425 2315h0M525 2315h35M425 2320h0M530 2320h30M425 2325h0M530 2325h5M550 2325h15M555 2330h10M530 2335h0M560 2335h5M420 2340h0M525 2340h5M560 2340h5M420 2345h0M525 2345h5M560 2345h5M525 2350h5M560 2350h5M560 2355h5M415 2360h0M560 2360h0M560 2365h0M410 2370h0M560 2370h0M560 2375h0M405 2380h0M560 2380h0M400 2385h0M560 2385h0M560 2390h0M395 2395h0M560 2395h0M390 2400h0M560 2400h0M385 2405h0M560 2405h5M380 2410h0M565 2410h0M375 2415h0M565 2415h0M370 2420h0M565 2420h0M365 2425h0M565 2425h0M355 2430h5M565 2430h0M350 2435h0M565 2435h0M345 2440h0M560 2440h0M560 2445h0M345 2450h0M555 2450h0M345 2455h0M370 2455h0M550 2455h0M345 2460h0M365 2460h5M545 2460h0M345 2465h5M540 2465h5M345 2470h0M540 2470h0M345 2475h0M540 2475h0M340 2480h0M335 2485h0M545 2485h0M545 2490h0M325 2495h0M550 2495h0M320 2500h0M550 2500h0M305 2505h5M550 2505h0M280 2510h10M550 2510h0M550 2515h0M275 2520h0M550 2520h0M275 2525h0M545 2525h5M545 2530h0M270 2535h0M540 2535h5M265 2540h0M535 2540h5M265 2545h0M530 2545h5M260 2550h0M520 2550h10M260 2555h0M510 2555h10M260 2560h0M500 2560h10M260 2565h0M490 2565h10M260 2570h0M480 2570h10M260 2575h0M475 2575h5M260 2580h0M465 2580h5M260 2585h0M460 2585h5M260 2590h0M455 2590h0M260 2595h0M450 2595h0M255 2600h5M450 2600h0M255 2605h0M445 2605h0M255 2610h0M445 2610h0M255 2615h0M440 2615h5M250 2620h0M440 2620h0M250 2625h0M440 2625h0M250 2630h0M435 2630h0M245 2635h0M435 2635h0M245 2640h0M430 2640h0M240 2645h0M425 2645h5M235 2650h0M425 2650h0M235 2655h0M420 2655h0M230 2660h0M415 2660h5M230 2665h0M410 2665h5M225 2670h0M405 2670h5M225 2675h0M400 2675h5M220 2680h0M395 2680h5M220 2685h0M390 2685h5M390 2690h0M215 2695h0M385 2695h0M215 2700h0M380 2700h5M375 2705h5M375 2710h0M370 2715h0M365 2720h0M215 2725h0M360 2725h0M215 2730h0M355 2730h0M345 2735h5M340 2740h5M220 2745h0M335 2745h0M225 2750h0M320 2750h5M235 2755h5M310 2755h0M274 2519h0M270 2532h0M234 2754h0M242 2756h0M246 2757h0M250 2757h0M297 2758h0M302 2757h0M305 2756h0"/>
<path stroke="#f7f600" d="M475 2290h0M455 2295h40M445 2300h10M490 2300h15M440 2305h0M500 2305h10M435 2310h0M505 2310h10M430 2315h0M510 2315h10M430 2320h0M510 2320h15M515 2325h10M540 2325h5M425 2330h0M515 2330h35M425 2335h0M515 2335h10M535 2335h20M425 2340h0M515 2340h5M535 2340h20M520 2345h0M535 2345h0M550 2345h5M420 2350h0M520 2350h0M535 2350h0M555 2350h0M420 2355h0M520 2355h15M550 2355h5M525 2360h5M550 2360h5M415 2365h0M550 2365h5M415 2370h0M550 2370h5M410 2375h0M550 2375h5M550 2380h5M405 2385h0M550 2385h5M400 2390h0M550 2390h5M555 2395h0M395 2400h0M555 2400h0M390 2405h0M555 2405h0M385 2410h0M560 2410h0M380 2415h0M560 2415h0M375 2420h0M560 2420h0M370 2425h0M560 2425h0M365 2430h0M560 2430h0M355 2435h5M560 2435h0M350 2440h0M555 2440h0M345 2445h0M555 2445h0M350 2450h0M360 2450h10M550 2450h0M350 2455h15M375 2455h0M545 2455h0M350 2460h10M375 2460h0M540 2460h0M355 2465h15M535 2465h0M350 2470h15M535 2470h0M350 2475h5M535 2475h0M345 2480h0M540 2480h0M340 2485h0M540 2485h0M335 2490h5M540 2490h0M330 2495h5M545 2495h0M325 2500h0M545 2500h0M315 2505h5M545 2505h0M295 2510h15M545 2510h0M280 2515h5M545 2515h0M280 2520h0M540 2520h5M540 2525h0M275 2530h0M535 2530h5M530 2535h5M270 2540h0M525 2540h5M270 2545h0M515 2545h10M265 2550h0M510 2550h5M265 2555h0M500 2555h5M265 2560h0M490 2560h5M265 2565h0M480 2565h5M265 2570h0M470 2570h5M265 2575h0M465 2575h5M265 2580h0M460 2580h0M265 2585h0M455 2585h0M265 2590h0M450 2590h0M265 2595h0M445 2595h0M265 2600h0M445 2600h0M260 2605h5M440 2605h0M260 2610h0M440 2610h0M260 2615h0M435 2615h0M255 2620h5M435 2620h0M255 2625h0M430 2625h5M255 2630h0M430 2630h0M250 2635h0M425 2635h5M425 2640h0M245 2645h0M420 2645h0M240 2650h0M415 2650h5M240 2655h0M410 2655h5M235 2660h0M405 2660h5M400 2665h5M230 2670h0M395 2670h5M390 2675h5M225 2680h0M390 2680h0M385 2685h0M220 2690h0M380 2690h5M375 2695h5M375 2700h0M215 2705h0M370 2705h0M215 2710h0M365 2710h5M215 2715h0M360 2715h5M215 2720h0M355 2720h5M350 2725h5M345 2730h5M220 2735h0M340 2735h0M220 2740h0M335 2740h0M225 2745h0M325 2745h5M230 2750h0M315 2750h0M245 2755h5M300 2755h5M275 2526h0M274 2758h0M286 2758h0"/>
<path stroke="#ffec00" d="M460 2300h25M445 2305h50M440 2310h5M490 2310h10M435 2315h5M500 2315h5M435 2320h0M500 2320h5M430 2325h0M505 2325h5M430 2330h0M510 2330h0M430 2335h0M510 2335h0M510 2340h0M425 2345h0M510 2345h5M540 2345h5M425 2350h0M515 2350h0M540 2350h10M515 2355h0M540 2355h5M420 2360h0M520 2360h0M535 2360h10M420 2365h0M520 2365h25M525 2370h20M415 2375h0M535 2375h10M410 2380h0M540 2380h5M410 2385h0M540 2385h5M405 2390h0M545 2390h0M400 2395h0M545 2395h5M550 2400h0M395 2405h0M550 2405h0M390 2410h0M550 2410h5M385 2415h0M555 2415h0M380 2420h0M555 2420h0M375 2425h5M555 2425h0M370 2430h5M555 2430h0M365 2435h10M555 2435h0M355 2440h20M550 2440h0M350 2445h25M550 2445h0M355 2450h0M375 2450h0M545 2450h0M380 2455h0M535 2455h5M380 2460h0M535 2460h0M375 2465h0M530 2465h0M370 2470h5M530 2470h0M360 2475h5M530 2475h0M350 2480h5M535 2480h0M345 2485h5M535 2485h0M345 2490h0M535 2490h0M340 2495h0M540 2495h0M330 2500h5M540 2500h0M325 2505h0M540 2505h0M315 2510h5M540 2510h0M290 2515h20M535 2515h5M285 2520h5M535 2520h0M280 2525h0M530 2525h5M280 2530h0M525 2530h5M275 2535h0M520 2535h5M275 2540h0M515 2540h5M275 2545h0M505 2545h5M270 2550h5M495 2550h10M270 2555h5M485 2555h10M270 2560h5M475 2560h10M270 2565h5M470 2565h5M270 2570h5M460 2570h5M270 2575h5M455 2575h5M270 2580h5M450 2580h5M270 2585h0M445 2585h5M270 2590h0M445 2590h0M270 2595h0M440 2595h0M270 2600h0M440 2600h0M270 2605h0M435 2605h0M265 2610h0M435 2610h0M265 2615h0M430 2615h0M265 2620h0M430 2620h0M260 2625h0M425 2625h0M260 2630h0M425 2630h0M255 2635h0M420 2635h0M250 2640h5M415 2640h5M250 2645h0M415 2645h0M245 2650h0M410 2650h0M245 2655h0M405 2655h0M240 2660h0M400 2660h0M235 2665h0M395 2665h0M235 2670h0M390 2670h0M230 2675h0M385 2675h0M380 2680h5M225 2685h0M375 2685h5M375 2690h0M220 2695h0M370 2695h0M220 2700h0M365 2700h5M220 2705h0M360 2705h5M355 2710h5M355 2715h0M350 2720h0M345 2725h0M220 2730h0M340 2730h0M335 2735h0M225 2740h0M330 2740h0M320 2745h0M235 2750h0M310 2750h0M255 2755h15M290 2755h5M259 2755h0M262 2755h0M270 2756h0M282 2757h0M293 2754h0"/>
<path stroke="#ffe300" d="M450 2310h35M445 2315h10M480 2315h15M440 2320h5M490 2320h5M435 2325h5M495 2325h5M435 2330h0M500 2330h5M435 2335h0M505 2335h0M430 2340h0M505 2340h0M430 2345h0M505 2345h0M430 2350h0M510 2350h0M425 2355h0M510 2355h0M425 2360h0M510 2360h5M515 2365h0M420 2370h0M520 2370h0M420 2375h0M520 2375h10M415 2380h0M525 2380h10M530 2385h5M410 2390h0M535 2390h5M405 2395h0M535 2395h5M400 2400h0M540 2400h5M545 2405h0M395 2410h0M545 2410h0M390 2415h0M545 2415h5M385 2420h0M550 2420h0M385 2425h0M550 2425h0M380 2430h0M550 2430h0M380 2435h0M550 2435h0M380 2440h0M545 2440h0M380 2445h0M545 2445h0M380 2450h0M535 2450h5M530 2455h0M530 2460h0M380 2465h0M525 2465h0M525 2470h0M370 2475h5M360 2480h5M530 2480h0M355 2485h0M530 2485h0M350 2490h0M530 2490h0M345 2495h0M530 2495h5M340 2500h0M530 2500h5M330 2505h5M530 2505h5M325 2510h5M530 2510h5M315 2515h5M530 2515h0M295 2520h15M525 2520h5M285 2525h10M520 2525h5M285 2530h0M515 2530h5M280 2535h5M510 2535h5M280 2540h0M500 2540h10M280 2545h0M490 2545h10M280 2550h0M480 2550h10M280 2555h0M475 2555h5M280 2560h0M465 2560h5M280 2565h0M460 2565h5M280 2570h0M455 2570h0M280 2575h0M450 2575h0M280 2580h0M445 2580h0M275 2585h5M440 2585h0M275 2590h5M440 2590h0M275 2595h0M435 2595h0M275 2600h0M435 2600h0M275 2605h0M430 2605h0M270 2610h5M430 2610h0M270 2615h0M425 2615h0M270 2620h0M425 2620h0M265 2625h0M420 2625h0M265 2630h0M415 2630h5M260 2635h0M415 2635h0M260 2640h0M410 2640h0M255 2645h0M405 2645h5M250 2650h0M400 2650h5M395 2655h5M245 2660h0M390 2660h5M240 2665h0M385 2665h5M380 2670h5M235 2675h0M375 2675h5M230 2680h0M375 2680h0M230 2685h0M370 2685h0M225 2690h0M365 2690h5M225 2695h0M360 2695h5M360 2700h0M355 2705h0M220 2710h0M350 2710h0M220 2715h0M345 2715h5M220 2720h0M345 2720h0M220 2725h0M340 2725h0M335 2730h0M225 2735h0M330 2735h0M320 2740h5M230 2745h0M315 2745h0M240 2750h10M300 2750h5M275 2755h10"/>
<path stroke="#ffd900" d="M460 2315h15M450 2320h35M445 2325h5M485 2325h5M440 2330h5M495 2330h0M440 2335h0M495 2335h5M435 2340h0M500 2340h0M435 2345h0M500 2345h0M505 2350h0M430 2355h0M505 2355h0M430 2360h0M505 2360h0M425 2365h0M510 2365h0M425 2370h0M510 2370h5M515 2375h0M420 2380h0M515 2380h5M415 2385h0M520 2385h5M415 2390h0M520 2390h10M410 2395h0M525 2395h5M405 2400h0M530 2400h5M400 2405h0M535 2405h5M400 2410h0M535 2410h5M395 2415h0M540 2415h0M390 2420h5M540 2420h5M390 2425h0M545 2425h0M385 2430h5M545 2430h0M385 2435h0M425 2435h5M545 2435h0M385 2440h0M420 2440h10M540 2440h0M385 2445h0M425 2445h5M535 2445h5M385 2450h0M530 2450h0M385 2455h0M525 2455h0M385 2460h0M525 2460h0M385 2465h0M520 2465h0M380 2470h0M520 2470h0M525 2475h0M370 2480h0M525 2480h0M360 2485h5M525 2485h0M355 2490h0M525 2490h0M350 2495h0M525 2495h0M345 2500h0M525 2500h0M340 2505h0M525 2505h0M335 2510h0M525 2510h0M325 2515h5M520 2515h5M315 2520h10M515 2520h5M300 2525h15M510 2525h5M290 2530h15M505 2530h5M290 2535h5M495 2535h10M285 2540h10M485 2540h10M285 2545h5M480 2545h5M285 2550h5M470 2550h5M285 2555h5M465 2555h5M285 2560h5M460 2560h0M285 2565h5M455 2565h0M285 2570h5M450 2570h0M285 2575h0M445 2575h0M285 2580h0M440 2580h0M285 2585h0M435 2585h0M285 2590h0M435 2590h0M280 2595h5M430 2595h0M280 2600h5M430 2600h0M280 2605h0M425 2605h0M280 2610h0M425 2610h0M275 2615h5M420 2615h0M275 2620h0M415 2620h5M270 2625h5M415 2625h0M270 2630h0M410 2630h0M265 2635h0M405 2635h5M265 2640h0M405 2640h0M260 2645h0M400 2645h0M255 2650h0M395 2650h0M250 2655h5M390 2655h0M250 2660h0M385 2660h0M245 2665h0M380 2665h0M240 2670h0M375 2670h0M240 2675h0M370 2675h0M235 2680h0M365 2680h5M360 2685h5M230 2690h0M355 2690h5M355 2695h0M225 2700h0M350 2700h5M225 2705h0M345 2705h5M225 2710h0M345 2710h0M225 2715h0M340 2715h0M225 2720h0M335 2720h5M225 2725h0M330 2725h5M225 2730h0M325 2730h5M320 2735h5M230 2740h0M315 2740h0M235 2745h5M305 2745h5M255 2750h15M285 2750h10"/>
<path stroke="#ffd000" d="M455 2325h25M450 2330h10M480 2330h10M445 2335h5M490 2335h0M440 2340h5M495 2340h0M440 2345h0M495 2345h0M435 2350h0M500 2350h0M435 2355h0M500 2355h0M435 2360h0M500 2360h0M430 2365h0M505 2365h0M430 2370h0M505 2370h0M425 2375h0M505 2375h5M425 2380h0M510 2380h0M420 2385h0M510 2385h5M420 2390h0M510 2390h5M415 2395h0M515 2395h5M410 2400h0M515 2400h10M405 2405h0M520 2405h10M405 2410h0M525 2410h5M400 2415h0M530 2415h5M400 2420h0M535 2420h0M395 2425h5M535 2425h5M395 2430h0M535 2430h5M390 2435h5M415 2435h5M435 2435h0M535 2435h5M390 2440h0M415 2440h0M435 2440h5M535 2440h0M390 2445h0M420 2445h0M435 2445h5M525 2445h5M390 2450h0M425 2450h15M520 2450h5M520 2455h0M515 2460h5M515 2465h0M385 2470h0M515 2470h0M380 2475h0M520 2475h0M375 2480h0M520 2480h0M370 2485h0M520 2485h0M360 2490h5M520 2490h0M355 2495h0M520 2495h0M350 2500h0M520 2500h0M345 2505h0M515 2505h5M340 2510h0M515 2510h5M335 2515h0M510 2515h5M330 2520h5M505 2520h5M320 2525h5M500 2525h5M310 2530h10M490 2530h10M300 2535h15M485 2535h5M300 2540h10M475 2540h5M295 2545h10M470 2545h5M295 2550h5M465 2550h0M295 2555h5M460 2555h0M295 2560h5M455 2560h0M295 2565h5M450 2565h0M295 2570h0M445 2570h0M290 2575h5M440 2575h0M290 2580h5M435 2580h0M290 2585h5M430 2585h0M290 2590h0M430 2590h0M290 2595h0M425 2595h0M290 2600h0M425 2600h0M285 2605h5M420 2605h0M285 2610h0M415 2610h5M285 2615h0M415 2615h0M280 2620h5M410 2620h0M280 2625h0M410 2625h0M275 2630h0M405 2630h0M270 2635h5M400 2635h0M270 2640h0M395 2640h5M265 2645h0M390 2645h5M260 2650h5M385 2650h5M260 2655h0M380 2655h5M255 2660h0M375 2660h5M250 2665h0M370 2665h5M245 2670h0M365 2670h5M245 2675h0M360 2675h5M240 2680h0M355 2680h5M235 2685h0M355 2685h0M235 2690h0M350 2690h0M230 2695h0M345 2695h5M230 2700h0M345 2700h0M230 2705h0M340 2705h0M335 2710h5M335 2715h0M330 2720h0M325 2725h0M230 2730h0M320 2730h0M230 2735h0M315 2735h0M235 2740h0M310 2740h0M245 2745h5M300 2745h0M275 2750h5"/>
<path stroke="#ffc600" d="M465 2330h10M455 2335h30M450 2340h5M485 2340h5M445 2345h5M490 2345h0M440 2350h5M495 2350h0M440 2355h0M495 2355h0M440 2360h0M495 2360h0M435 2365h0M500 2365h0M435 2370h0M500 2370h0M430 2375h0M500 2375h0M430 2380h0M500 2380h5M425 2385h5M500 2385h5M425 2390h0M500 2390h5M420 2395h0M505 2395h5M415 2400h0M505 2400h5M410 2405h0M505 2405h10M410 2410h0M505 2410h15M405 2415h0M510 2415h15M405 2420h0M510 2420h20M405 2425h5M515 2425h15M400 2430h40M515 2430h15M400 2435h10M440 2435h5M515 2435h15M395 2440h15M445 2440h5M510 2440h20M395 2445h0M410 2445h5M445 2445h5M510 2445h10M415 2450h5M445 2450h5M510 2450h5M390 2455h0M420 2455h25M510 2455h5M390 2460h0M435 2460h0M510 2460h0M390 2465h0M510 2465h0M390 2470h0M510 2470h0M385 2475h0M510 2475h5M380 2480h0M515 2480h0M375 2485h0M515 2485h0M370 2490h0M515 2490h0M360 2495h5M515 2495h0M355 2500h5M510 2500h5M350 2505h0M510 2505h0M345 2510h5M505 2510h5M340 2515h5M500 2515h5M340 2520h0M490 2520h10M330 2525h5M485 2525h10M325 2530h10M480 2530h5M320 2535h10M470 2535h10M315 2540h10M465 2540h5M310 2545h10M460 2545h5M305 2550h10M455 2550h5M305 2555h10M450 2555h5M305 2560h5M445 2560h5M305 2565h5M445 2565h0M300 2570h5M440 2570h0M300 2575h5M435 2575h0M300 2580h5M430 2580h0M300 2585h0M425 2585h0M295 2590h5M425 2590h0M295 2595h5M420 2595h0M295 2600h0M415 2600h5M295 2605h0M415 2605h0M290 2610h5M410 2610h0M290 2615h0M410 2615h0M290 2620h0M405 2620h0M285 2625h5M400 2625h5M280 2630h5M400 2630h0M280 2635h0M395 2635h0M275 2640h5M390 2640h0M270 2645h5M385 2645h0M270 2650h0M380 2650h0M265 2655h0M375 2655h0M260 2660h0M365 2660h5M255 2665h0M360 2665h5M250 2670h0M360 2670h0M250 2675h0M355 2675h0M245 2680h0M350 2680h0M240 2685h0M345 2685h5M240 2690h0M340 2690h5M235 2695h0M340 2695h0M235 2700h0M335 2700h5M335 2705h0M230 2710h0M330 2710h0M230 2715h0M330 2715h0M230 2720h0M325 2720h0M230 2725h0M320 2725h0M235 2730h0M315 2730h0M235 2735h0M310 2735h0M240 2740h5M300 2740h5M255 2745h40"/>
<path stroke="#ffbd00" d="M460 2340h20M455 2345h5M485 2345h0M450 2350h0M490 2350h0M445 2355h0M490 2355h0M445 2360h0M490 2360h0M440 2365h0M495 2365h0M440 2370h0M495 2370h0M435 2375h5M495 2375h0M435 2380h0M495 2380h0M435 2385h0M495 2385h0M430 2390h5M495 2390h0M425 2395h5M495 2395h5M420 2400h5M495 2400h5M415 2405h5M490 2405h10M415 2410h0M490 2410h10M410 2415h5M490 2415h15M410 2420h5M490 2420h15M415 2425h5M435 2425h10M490 2425h20M445 2430h10M490 2430h20M450 2435h10M485 2435h25M455 2440h10M485 2440h20M400 2445h5M455 2445h15M485 2445h20M395 2450h15M455 2450h15M485 2450h20M395 2455h0M415 2455h0M450 2455h15M490 2455h15M395 2460h0M420 2460h10M440 2460h20M495 2460h10M395 2465h0M430 2465h20M500 2465h5M500 2470h5M390 2475h0M505 2475h0M385 2480h0M505 2480h5M380 2485h5M505 2485h5M375 2490h0M505 2490h5M370 2495h0M505 2495h5M365 2500h0M500 2500h5M355 2505h5M495 2505h10M355 2510h0M490 2510h10M350 2515h0M485 2515h10M345 2520h0M480 2520h5M340 2525h5M475 2525h5M340 2530h0M465 2530h10M335 2535h5M460 2535h5M330 2540h5M460 2540h0M325 2545h5M455 2545h0M320 2550h5M450 2550h0M320 2555h5M445 2555h0M315 2560h5M440 2560h0M315 2565h5M435 2565h5M310 2570h5M435 2570h0M310 2575h5M430 2575h0M310 2580h0M425 2580h0M305 2585h5M420 2585h0M305 2590h0M420 2590h0M305 2595h0M415 2595h0M300 2600h5M410 2600h0M300 2605h5M410 2605h0M300 2610h0M405 2610h0M295 2615h5M405 2615h0M295 2620h5M400 2620h0M295 2625h0M395 2625h0M290 2630h5M390 2630h5M285 2635h5M385 2635h5M285 2640h0M380 2640h5M280 2645h0M375 2645h5M275 2650h0M370 2650h5M270 2655h5M365 2655h5M265 2660h5M360 2660h0M260 2665h5M355 2665h0M255 2670h5M350 2670h5M255 2675h0M345 2675h5M250 2680h0M340 2680h5M245 2685h0M340 2685h0M245 2690h0M335 2690h0M240 2695h0M335 2695h0M240 2700h0M330 2700h0M235 2705h0M330 2705h0M235 2710h0M325 2710h0M235 2715h0M320 2715h5M235 2720h0M320 2720h0M235 2725h0M315 2725h0M240 2730h0M310 2730h0M240 2735h5M300 2735h5M250 2740h45"/>
<path stroke="#ffb300" d="M465 2345h15M455 2350h30M450 2355h5M480 2355h5M450 2360h0M485 2360h0M445 2365h5M485 2365h5M445 2370h0M485 2370h5M445 2375h0M485 2375h5M440 2380h5M485 2380h5M440 2385h5M485 2385h5M440 2390h5M485 2390h5M435 2395h10M485 2395h5M430 2400h15M485 2400h5M425 2405h20M485 2405h0M420 2410h25M480 2410h5M420 2415h0M435 2415h15M480 2415h5M420 2420h0M430 2420h30M475 2420h10M425 2425h5M450 2425h35M460 2430h25M465 2435h15M470 2440h10M475 2445h5M475 2450h5M400 2455h10M470 2455h15M400 2460h15M465 2460h25M400 2465h0M415 2465h10M455 2465h40M395 2470h5M425 2470h70M395 2475h0M445 2475h55M390 2480h0M485 2480h15M390 2485h0M485 2485h15M380 2490h5M485 2490h15M375 2495h0M485 2495h15M370 2500h0M480 2500h15M365 2505h0M480 2505h10M360 2510h0M475 2510h10M355 2515h0M470 2515h10M350 2520h5M465 2520h10M350 2525h0M465 2525h5M345 2530h5M460 2530h0M345 2535h0M455 2535h0M340 2540h5M450 2540h5M335 2545h5M450 2545h0M330 2550h10M445 2550h0M330 2555h5M440 2555h0M325 2560h5M435 2560h0M325 2565h5M430 2565h0M320 2570h5M425 2570h5M320 2575h5M425 2575h0M315 2580h5M420 2580h0M315 2585h5M415 2585h0M310 2590h5M410 2590h5M310 2595h5M410 2595h0M310 2600h0M405 2600h0M310 2605h0M400 2605h5M305 2610h5M400 2610h0M305 2615h5M395 2615h5M305 2620h0M390 2620h5M300 2625h5M385 2625h5M300 2630h0M380 2630h5M295 2635h5M375 2635h5M290 2640h5M370 2640h5M285 2645h5M365 2645h5M280 2650h5M360 2650h5M280 2655h0M350 2655h10M275 2660h0M345 2660h10M270 2665h0M340 2665h10M265 2670h0M340 2670h5M260 2675h0M335 2675h5M255 2680h0M330 2680h5M250 2685h5M330 2685h5M250 2690h0M330 2690h0M245 2695h0M325 2695h5M245 2700h0M325 2700h0M240 2705h0M320 2705h5M240 2710h0M320 2710h0M240 2715h0M315 2715h0M240 2720h0M310 2720h5M240 2725h5M310 2725h0M245 2730h5M300 2730h5M250 2735h15M285 2735h10"/>
<path stroke="#ffaa00" d="M460 2355h15M455 2360h25M455 2365h5M475 2365h5M450 2370h5M475 2370h5M450 2375h5M480 2375h0M450 2380h0M480 2380h0M450 2385h0M475 2385h5M450 2390h5M475 2390h5M450 2395h5M470 2395h10M450 2400h30M450 2405h30M450 2410h25M425 2415h5M455 2415h20M425 2420h0M465 2420h5M405 2465h5M405 2470h15M400 2475h40M395 2480h5M435 2480h45M395 2485h0M450 2485h30M390 2490h0M460 2490h20M380 2495h5M460 2495h20M375 2500h0M465 2500h10M370 2505h0M465 2505h10M365 2510h0M460 2510h10M360 2515h0M460 2515h5M360 2520h0M460 2520h0M355 2525h0M455 2525h5M355 2530h0M450 2530h5M350 2535h5M450 2535h0M350 2540h0M445 2540h0M345 2545h5M445 2545h0M345 2550h0M440 2550h0M340 2555h5M435 2555h0M335 2560h5M430 2560h0M335 2565h0M425 2565h0M330 2570h5M420 2570h0M330 2575h0M415 2575h5M325 2580h5M415 2580h0M325 2585h0M410 2585h0M320 2590h5M405 2590h0M320 2595h5M400 2595h5M315 2600h5M400 2600h0M315 2605h5M395 2605h0M315 2610h5M390 2610h5M315 2615h0M390 2615h0M310 2620h5M385 2620h0M310 2625h5M380 2625h0M305 2630h10M370 2630h5M305 2635h5M365 2635h5M300 2640h10M360 2640h5M295 2645h10M350 2645h10M290 2650h10M340 2650h15M285 2655h10M335 2655h10M280 2660h10M330 2660h10M275 2665h10M330 2665h5M270 2670h5M325 2670h10M265 2675h5M325 2675h5M260 2680h5M320 2680h5M260 2685h0M320 2685h5M255 2690h0M320 2690h5M250 2695h0M320 2695h0M250 2700h0M315 2700h5M245 2705h5M315 2705h0M245 2710h0M310 2710h5M245 2715h0M310 2715h0M245 2720h5M305 2720h0M250 2725h5M300 2725h5M255 2730h15M280 2730h15M270 2735h10"/>
<path stroke="#ffa100" d="M465 2365h5M460 2370h10M460 2375h15M455 2380h20M455 2385h15M460 2390h10M460 2395h5M405 2480h25M400 2485h5M425 2485h20M395 2490h5M440 2490h15M390 2495h0M445 2495h10M380 2500h5M450 2500h10M375 2505h5M450 2505h10M370 2510h0M450 2510h5M365 2515h5M450 2515h5M365 2520h0M450 2520h5M360 2525h5M450 2525h0M360 2530h0M445 2530h0M360 2535h0M445 2535h0M355 2540h5M440 2540h0M355 2545h0M435 2545h5M350 2550h5M435 2550h0M350 2555h0M430 2555h0M345 2560h5M425 2560h0M340 2565h5M420 2565h0M340 2570h5M415 2570h0M335 2575h5M410 2575h0M335 2580h5M405 2580h5M330 2585h5M400 2585h5M330 2590h5M395 2590h5M330 2595h0M395 2595h0M325 2600h5M390 2600h5M325 2605h5M385 2605h5M325 2610h5M385 2610h0M320 2615h10M380 2615h5M320 2620h10M375 2620h5M320 2625h10M365 2625h10M320 2630h15M355 2630h10M315 2635h45M315 2640h40M310 2645h35M305 2650h30M300 2655h30M295 2660h30M290 2665h35M280 2670h40M275 2675h15M305 2675h15M270 2680h10M310 2680h5M265 2685h5M310 2685h5M260 2690h5M310 2690h5M255 2695h5M305 2695h10M255 2700h5M305 2700h5M255 2705h0M305 2705h5M250 2710h5M300 2710h5M250 2715h5M300 2715h5M255 2720h5M290 2720h10M260 2725h35M275 2730h0"/>
<path stroke="#ff9700" d="M410 2485h10M405 2490h30M395 2495h5M430 2495h10M390 2500h5M435 2500h10M385 2505h0M440 2505h5M375 2510h5M445 2510h0M375 2515h0M445 2515h0M370 2520h0M445 2520h0M370 2525h0M440 2525h5M365 2530h5M440 2530h0M365 2535h0M440 2535h0M365 2540h0M435 2540h0M360 2545h5M430 2545h0M360 2550h5M425 2550h5M355 2555h5M420 2555h5M355 2560h5M415 2560h5M350 2565h10M410 2565h5M350 2570h5M405 2570h5M345 2575h10M400 2575h5M345 2580h5M395 2580h5M340 2585h10M390 2585h5M340 2590h5M385 2590h5M335 2595h10M380 2595h10M335 2600h5M380 2600h5M335 2605h5M375 2605h5M335 2610h10M370 2610h10M335 2615h10M360 2615h15M335 2620h35M335 2625h25M340 2630h10M295 2675h5M285 2680h20M275 2685h30M270 2690h35M265 2695h35M265 2700h10M290 2700h10M260 2705h10M290 2705h10M260 2710h10M285 2710h10M260 2715h35M265 2720h20"/>
<path stroke="#ff8e00" d="M405 2495h20M400 2500h30M390 2505h10M430 2505h5M385 2510h5M435 2510h5M380 2515h5M435 2515h5M375 2520h5M435 2520h5M375 2525h5M435 2525h0M375 2530h0M435 2530h0M370 2535h5M430 2535h5M370 2540h5M430 2540h0M370 2545h5M425 2545h0M370 2550h5M420 2550h0M365 2555h10M410 2555h5M365 2560h10M405 2560h5M365 2565h10M395 2565h10M360 2570h40M360 2575h35M355 2580h35M355 2585h30M350 2590h30M350 2595h25M345 2600h30M345 2605h25M350 2610h15M350 2615h5M280 2700h5M275 2705h10M275 2710h5"/>
<path stroke="#ff8400" d="M405 2505h20M395 2510h35M390 2515h10M425 2515h5M385 2520h5M425 2520h5M385 2525h5M430 2525h0M380 2530h5M425 2530h5M380 2535h5M425 2535h0M380 2540h5M420 2540h5M380 2545h10M415 2545h5M380 2550h35M380 2555h25M380 2560h20M380 2565h10"/>
<path stroke="#ff7b00" d="M405 2515h15M395 2520h25M395 2525h30M390 2530h30M390 2535h30M390 2540h25M395 2545h15"/>
</g>
<line x1="150" y1="2783.4" x2="1380.5" y2="1510.2" stroke="#bf00bf" stroke-width="9.2" stroke-linecap="square"/>
</g>
<g stroke="#000" fill="none">
<path d="M150 1509.5V2784.1" stroke-width="2"/>
<path d="M1380.5 1509.5V2784.1" stroke-width="1.3"/>
<path d="M149 1510.2H1381.5M149 2783.4H1381.5" stroke-width="1.4"/>
<path d="M150 2783.4v8.4M303.8 2783.4v8.4M457.6 2783.4v8.4M611.4 2783.4v8.4M765.2 2783.4v8.4M919.1 2783.4v8.4M1072.9 2783.4v8.4M1226.7 2783.4v8.4M1380.5 2783.4v8.4" stroke-width="2"/>
<path d="M150 2783.4h-8.6M150 2624.2h-8.6M150 2465.1h-8.6M150 2305.9h-8.6M150 2146.8h-8.6M150 1987.7h-8.6M150 1828.5h-8.6M150 1669.4h-8.6M150 1510.2h-8.6" stroke-width="1.4"/>
</g>
<g font-family="'Liberation Serif',serif" font-size="48.2" fill="#000">
<g text-anchor="middle">
<text x="150" y="2832.1">0</text>
<text x="303.8" y="2832.1">10</text>
<text x="457.6" y="2832.1">20</text>
<text x="611.4" y="2832.1">30</text>
<text x="765.2" y="2832.1">40</text>
<text x="919.1" y="2832.1">50</text>
<text x="1072.9" y="2832.1">60</text>
<text x="1226.7" y="2832.1">70</text>
<text x="1380.5" y="2832.1">80</text>
</g><g text-anchor="end">
<text x="133.8" y="2799.8">0</text>
<text x="133.8" y="2640.7">10</text>
<text x="133.8" y="2481.5">20</text>
<text x="133.8" y="2322.3">30</text>
<text x="133.8" y="2163.2">40</text>
<text x="133.8" y="2004.1">50</text>
<text x="133.8" y="1844.9">60</text>
<text x="133.8" y="1685.8">70</text>
<text x="133.8" y="1526.6">80</text>
</g></g>
<g font-family="'Liberation Serif',serif" font-weight="bold" font-size="57.2" text-anchor="middle" fill="#000">
<text x="765.2" y="2890.6" font-size="57.7">SFMR Winds(m/s)</text>
<text transform="translate(66 2145.3) rotate(-90)">Reconstructed Winds(m/s)</text>
</g>
<g font-family="'Liberation Serif',serif" font-size="57" fill="#000">
<text x="226.8" y="1669.2">Bias:<tspan font-size="46.5" dx="-1.6" dy="-2.7">–</tspan><tspan dx="-1.0" dy="2.7">0.19</tspan></text>
<text x="226.8" y="1749.2">RMSE:7.83</text>
<text x="226.8" y="1829.2">R:0.72</text>
<text x="1183" y="2669.9" font-size="62.5">(b)</text>
</g>
<rect x="1457.9" y="1510.2" width="63.5" height="1273.2" fill="url(#jet)"/>
<g stroke="#000" fill="none">
<path d="M1457.9 1509.5V2784.1M1521.4 1509.5V2784.1" stroke-width="2"/>
<path d="M1456.9 1510.2H1522.4M1456.9 2783.4H1522.4" stroke-width="1.4"/>
<path d="M1521.4 2783.4h8M1521.4 2528.8h8M1521.4 2274.1h8M1521.4 2019.5h8M1521.4 1764.8h8M1521.4 1510.2h8" stroke-width="1.4"/>
</g>
<g font-family="'Liberation Serif',serif" font-size="37" fill="#000">
<text x="1537" y="2795.9">0</text>
<text x="1537" y="2541.3">1</text>
<text x="1537" y="2286.6">2</text>
<text x="1537" y="2032">3</text>
<text x="1537" y="1777.3">4</text>
<text x="1537" y="1522.7">5</text>
</g>
<text font-family="'Liberation Serif',serif" font-weight="bold" font-size="46.3" text-anchor="middle" fill="#000" transform="translate(1596 2146.8) rotate(-90)">Scatter density</text>
</g>
</svg>
</body>
</html>
